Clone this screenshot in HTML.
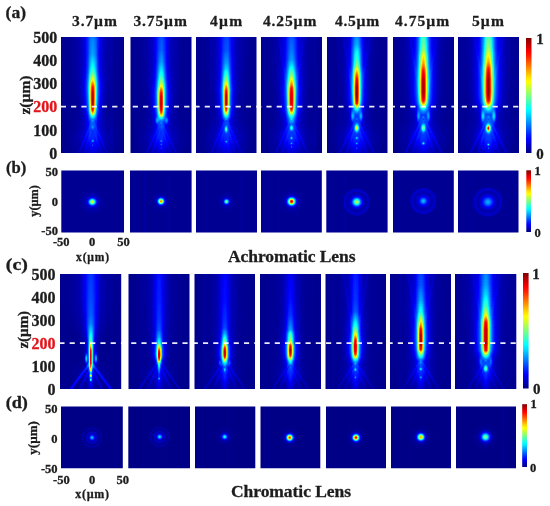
<!DOCTYPE html>
<html><head><meta charset="utf-8"><style>
html,body{margin:0;padding:0;background:#fff;}
body{width:550px;height:506px;overflow:hidden;}
svg{display:block;}
text{font-family:"Liberation Serif","Times New Roman",serif;font-weight:bold;fill:#1c1c1c;stroke:#1c1c1c;stroke-width:0.3px;}
</style></head><body>
<svg width="550" height="506" viewBox="0 0 550 506">
<defs><filter id="jet" x="-20%" y="-20%" width="140%" height="140%" color-interpolation-filters="sRGB"><feColorMatrix type="matrix" values="0 0 0 1 0  0 0 0 1 0  0 0 0 1 0  0 0 0 0 1"/><feGaussianBlur stdDeviation="0.5"/><feComponentTransfer><feFuncR type="table" tableValues="0 0 0 0 0.5 1 1 1 0.5"/><feFuncG type="table" tableValues="0 0 0.5 1 1 1 0.5 0 0"/><feFuncB type="table" tableValues="0.5 1 1 1 0.5 0 0 0 0"/></feComponentTransfer><feGaussianBlur stdDeviation="0.4"/></filter>
<linearGradient id="gx"><stop offset="0.0000" stop-color="#fff" stop-opacity="0.002"/><stop offset="0.0385" stop-color="#fff" stop-opacity="0.005"/><stop offset="0.0769" stop-color="#fff" stop-opacity="0.009"/><stop offset="0.1154" stop-color="#fff" stop-opacity="0.015"/><stop offset="0.1538" stop-color="#fff" stop-opacity="0.025"/><stop offset="0.1923" stop-color="#fff" stop-opacity="0.040"/><stop offset="0.2308" stop-color="#fff" stop-opacity="0.060"/><stop offset="0.2692" stop-color="#fff" stop-opacity="0.086"/><stop offset="0.3077" stop-color="#fff" stop-opacity="0.122"/><stop offset="0.3237" stop-color="#fff" stop-opacity="0.144"/><stop offset="0.3397" stop-color="#fff" stop-opacity="0.173"/><stop offset="0.3558" stop-color="#fff" stop-opacity="0.213"/><stop offset="0.3718" stop-color="#fff" stop-opacity="0.269"/><stop offset="0.3878" stop-color="#fff" stop-opacity="0.344"/><stop offset="0.4038" stop-color="#fff" stop-opacity="0.440"/><stop offset="0.4199" stop-color="#fff" stop-opacity="0.553"/><stop offset="0.4359" stop-color="#fff" stop-opacity="0.677"/><stop offset="0.4519" stop-color="#fff" stop-opacity="0.800"/><stop offset="0.4679" stop-color="#fff" stop-opacity="0.904"/><stop offset="0.4840" stop-color="#fff" stop-opacity="0.975"/><stop offset="0.5000" stop-color="#fff" stop-opacity="1.000"/><stop offset="0.5160" stop-color="#fff" stop-opacity="0.975"/><stop offset="0.5321" stop-color="#fff" stop-opacity="0.904"/><stop offset="0.5481" stop-color="#fff" stop-opacity="0.800"/><stop offset="0.5641" stop-color="#fff" stop-opacity="0.677"/><stop offset="0.5801" stop-color="#fff" stop-opacity="0.553"/><stop offset="0.5962" stop-color="#fff" stop-opacity="0.440"/><stop offset="0.6122" stop-color="#fff" stop-opacity="0.344"/><stop offset="0.6282" stop-color="#fff" stop-opacity="0.269"/><stop offset="0.6442" stop-color="#fff" stop-opacity="0.213"/><stop offset="0.6603" stop-color="#fff" stop-opacity="0.173"/><stop offset="0.6763" stop-color="#fff" stop-opacity="0.144"/><stop offset="0.6923" stop-color="#fff" stop-opacity="0.122"/><stop offset="0.7363" stop-color="#fff" stop-opacity="0.081"/><stop offset="0.7802" stop-color="#fff" stop-opacity="0.054"/><stop offset="0.8242" stop-color="#fff" stop-opacity="0.033"/><stop offset="0.8681" stop-color="#fff" stop-opacity="0.019"/><stop offset="0.9121" stop-color="#fff" stop-opacity="0.010"/><stop offset="0.9560" stop-color="#fff" stop-opacity="0.005"/><stop offset="1.0000" stop-color="#fff" stop-opacity="0.002"/></linearGradient>
<radialGradient id="gr"><stop offset="0" stop-color="#fff" stop-opacity="1.000"/><stop offset="0.07" stop-color="#fff" stop-opacity="0.980"/><stop offset="0.13" stop-color="#fff" stop-opacity="0.923"/><stop offset="0.2" stop-color="#fff" stop-opacity="0.835"/><stop offset="0.27" stop-color="#fff" stop-opacity="0.726"/><stop offset="0.33" stop-color="#fff" stop-opacity="0.607"/><stop offset="0.4" stop-color="#fff" stop-opacity="0.487"/><stop offset="0.47" stop-color="#fff" stop-opacity="0.375"/><stop offset="0.53" stop-color="#fff" stop-opacity="0.278"/><stop offset="0.6" stop-color="#fff" stop-opacity="0.198"/><stop offset="0.67" stop-color="#fff" stop-opacity="0.135"/><stop offset="0.73" stop-color="#fff" stop-opacity="0.089"/><stop offset="0.8" stop-color="#fff" stop-opacity="0.056"/><stop offset="0.87" stop-color="#fff" stop-opacity="0.034"/><stop offset="0.93" stop-color="#fff" stop-opacity="0.020"/><stop offset="1" stop-color="#fff" stop-opacity="0.011"/></radialGradient>
<clipPath id="c1"><rect x="61" y="37" width="63" height="116"/></clipPath>
<clipPath id="c2"><rect x="130.5" y="37" width="61" height="116"/></clipPath>
<clipPath id="c3"><rect x="196" y="37" width="60.5" height="116"/></clipPath>
<clipPath id="c4"><rect x="261" y="37" width="61" height="116"/></clipPath>
<clipPath id="c5"><rect x="327" y="37" width="60.5" height="116"/></clipPath>
<clipPath id="c6"><rect x="393" y="37" width="61" height="116"/></clipPath>
<clipPath id="c7"><rect x="458" y="37" width="61" height="116"/></clipPath>
<clipPath id="c8"><rect x="60" y="274" width="61.2" height="115"/></clipPath>
<clipPath id="c9"><rect x="128.5" y="274" width="61" height="115"/></clipPath>
<clipPath id="c10"><rect x="194.5" y="274" width="60.5" height="115"/></clipPath>
<clipPath id="c11"><rect x="260" y="274" width="61" height="115"/></clipPath>
<clipPath id="c12"><rect x="325.5" y="274" width="60.5" height="115"/></clipPath>
<clipPath id="c13"><rect x="390" y="274" width="61" height="115"/></clipPath>
<clipPath id="c14"><rect x="455" y="274" width="61.3" height="115"/></clipPath>
<clipPath id="c15"><rect x="61.3" y="170.5" width="62.7" height="62"/></clipPath>
<clipPath id="c16"><rect x="130" y="170.5" width="61.6" height="62"/></clipPath>
<clipPath id="c17"><rect x="196" y="170.5" width="61" height="62"/></clipPath>
<clipPath id="c18"><rect x="261" y="170.5" width="60.8" height="62"/></clipPath>
<clipPath id="c19"><rect x="326.3" y="170.5" width="61.3" height="62"/></clipPath>
<clipPath id="c20"><rect x="393" y="170.5" width="60.8" height="62"/></clipPath>
<clipPath id="c21"><rect x="458" y="170.5" width="60.5" height="62"/></clipPath>
<clipPath id="c22"><rect x="61" y="406.5" width="61.8" height="61.8"/></clipPath>
<clipPath id="c23"><rect x="128.3" y="406.5" width="61.7" height="61.8"/></clipPath>
<clipPath id="c24"><rect x="195" y="406.5" width="60.3" height="61.8"/></clipPath>
<clipPath id="c25"><rect x="260.5" y="406.5" width="59.8" height="61.8"/></clipPath>
<clipPath id="c26"><rect x="326" y="406.5" width="60" height="61.8"/></clipPath>
<clipPath id="c27"><rect x="391" y="406.5" width="60" height="61.8"/></clipPath>
<clipPath id="c28"><rect x="456" y="406.5" width="60" height="61.8"/></clipPath>
<linearGradient id="cb" x1="0" y1="0" x2="0" y2="1"><stop offset="0" stop-color="#800000"/><stop offset="0.03" stop-color="#9f0000"/><stop offset="0.06" stop-color="#bf0000"/><stop offset="0.09" stop-color="#df0000"/><stop offset="0.12" stop-color="#ff0000"/><stop offset="0.16" stop-color="#ff2000"/><stop offset="0.19" stop-color="#ff4000"/><stop offset="0.22" stop-color="#ff6000"/><stop offset="0.25" stop-color="#ff8000"/><stop offset="0.28" stop-color="#ff9f00"/><stop offset="0.31" stop-color="#ffbf00"/><stop offset="0.34" stop-color="#ffdf00"/><stop offset="0.38" stop-color="#ffff00"/><stop offset="0.41" stop-color="#dfff20"/><stop offset="0.44" stop-color="#bfff40"/><stop offset="0.47" stop-color="#9fff60"/><stop offset="0.5" stop-color="#80ff80"/><stop offset="0.53" stop-color="#60ff9f"/><stop offset="0.56" stop-color="#40ffbf"/><stop offset="0.59" stop-color="#20ffdf"/><stop offset="0.62" stop-color="#00ffff"/><stop offset="0.66" stop-color="#00dfff"/><stop offset="0.69" stop-color="#00bfff"/><stop offset="0.72" stop-color="#009fff"/><stop offset="0.75" stop-color="#0080ff"/><stop offset="0.78" stop-color="#0060ff"/><stop offset="0.81" stop-color="#0040ff"/><stop offset="0.84" stop-color="#0020ff"/><stop offset="0.88" stop-color="#0000ff"/><stop offset="0.91" stop-color="#0000df"/><stop offset="0.94" stop-color="#0000bf"/><stop offset="0.97" stop-color="#00009f"/><stop offset="1" stop-color="#000080"/></linearGradient></defs>
<rect width="550" height="506" fill="#fff"/>
<g clip-path="url(#c1)"><g filter="url(#jet)"><rect x="58" y="34" width="69" height="122" fill="#fff" opacity="0.016"/><rect x="95.58" y="37" width="2.07" height="116" fill="#fff" opacity="0.011"/><rect x="95.33" y="37" width="1.64" height="116" fill="#fff" opacity="0.011"/><rect x="88.57" y="37" width="2.34" height="116" fill="#fff" opacity="0.015"/><rect x="85.16" y="37" width="2.19" height="116" fill="#fff" opacity="0.010"/><rect x="96.79" y="37" width="2.39" height="116" fill="#fff" opacity="0.005"/><rect x="66.49" y="37" width="1.03" height="116" fill="#fff" opacity="0.013"/><rect x="110.02" y="37" width="2.31" height="116" fill="#fff" opacity="0.015"/><rect x="111.35" y="37" width="1.69" height="116" fill="#fff" opacity="0.013"/><ellipse cx="92.7" cy="138" rx="30" ry="24" fill="url(#gr)" opacity="0.055"/><line x1="92.7" y1="120" x2="78.7" y2="153" stroke="#fff" stroke-width="2.16" opacity="0.035"/><line x1="92.7" y1="120" x2="106.7" y2="153" stroke="#fff" stroke-width="2.16" opacity="0.035"/><line x1="92.7" y1="124" x2="84.3" y2="153" stroke="#fff" stroke-width="2.16" opacity="0.024"/><line x1="92.7" y1="124" x2="101.1" y2="153" stroke="#fff" stroke-width="2.16" opacity="0.024"/><rect x="38.29" y="37" width="108.83" height="3.04" fill="url(#gx)" opacity="0.050"/><rect x="38.66" y="40" width="108.09" height="3.04" fill="url(#gx)" opacity="0.050"/><rect x="39.03" y="43" width="107.34" height="3.04" fill="url(#gx)" opacity="0.050"/><rect x="39.4" y="46" width="106.6" height="3.04" fill="url(#gx)" opacity="0.050"/><rect x="39.77" y="49" width="105.86" height="3.04" fill="url(#gx)" opacity="0.050"/><rect x="40.14" y="52" width="105.11" height="3.04" fill="url(#gx)" opacity="0.050"/><rect x="40.51" y="55" width="104.37" height="3.04" fill="url(#gx)" opacity="0.050"/><rect x="40.89" y="58" width="103.63" height="3.04" fill="url(#gx)" opacity="0.050"/><rect x="41.26" y="61" width="102.89" height="3.04" fill="url(#gx)" opacity="0.050"/><rect x="41.63" y="64" width="102.14" height="3.04" fill="url(#gx)" opacity="0.050"/><rect x="42" y="67" width="101.4" height="3.04" fill="url(#gx)" opacity="0.050"/><rect x="42.37" y="70" width="100.66" height="3.04" fill="url(#gx)" opacity="0.050"/><rect x="42.74" y="73" width="99.91" height="3.04" fill="url(#gx)" opacity="0.050"/><rect x="43.11" y="76" width="99.17" height="3.04" fill="url(#gx)" opacity="0.050"/><rect x="43.49" y="79" width="98.43" height="3.04" fill="url(#gx)" opacity="0.050"/><rect x="43.86" y="82" width="97.69" height="3.04" fill="url(#gx)" opacity="0.050"/><rect x="44.23" y="85" width="96.94" height="3.04" fill="url(#gx)" opacity="0.050"/><rect x="44.6" y="88" width="96.2" height="3.04" fill="url(#gx)" opacity="0.050"/><rect x="44.97" y="91" width="95.46" height="3.04" fill="url(#gx)" opacity="0.050"/><rect x="45.34" y="94" width="94.71" height="3.04" fill="url(#gx)" opacity="0.050"/><rect x="45.71" y="97" width="93.97" height="3.04" fill="url(#gx)" opacity="0.050"/><rect x="45.9" y="100" width="93.6" height="3.04" fill="url(#gx)" opacity="0.049"/><rect x="45.9" y="103" width="93.6" height="3.04" fill="url(#gx)" opacity="0.048"/><rect x="45.9" y="106" width="93.6" height="3.04" fill="url(#gx)" opacity="0.047"/><rect x="45.9" y="109" width="93.6" height="3.04" fill="url(#gx)" opacity="0.046"/><rect x="45.9" y="112" width="93.6" height="3.04" fill="url(#gx)" opacity="0.045"/><rect x="45.9" y="115" width="93.6" height="3.04" fill="url(#gx)" opacity="0.043"/><rect x="45.9" y="118" width="93.6" height="3.04" fill="url(#gx)" opacity="0.042"/><rect x="45.9" y="121" width="93.6" height="3.04" fill="url(#gx)" opacity="0.041"/><rect x="45.9" y="124" width="93.6" height="3.04" fill="url(#gx)" opacity="0.040"/><rect x="45.9" y="127" width="93.6" height="3.04" fill="url(#gx)" opacity="0.037"/><rect x="45.9" y="130" width="93.6" height="3.04" fill="url(#gx)" opacity="0.035"/><rect x="45.9" y="133" width="93.6" height="3.04" fill="url(#gx)" opacity="0.033"/><rect x="45.9" y="136" width="93.6" height="3.04" fill="url(#gx)" opacity="0.031"/><rect x="45.9" y="139" width="93.6" height="3.04" fill="url(#gx)" opacity="0.029"/><rect x="45.9" y="142" width="93.6" height="3.04" fill="url(#gx)" opacity="0.027"/><rect x="45.9" y="145" width="93.6" height="3.04" fill="url(#gx)" opacity="0.025"/><rect x="45.9" y="148" width="93.6" height="3.04" fill="url(#gx)" opacity="0.022"/><rect x="45.9" y="151" width="93.6" height="2.04" fill="url(#gx)" opacity="0.021"/><rect x="60.08" y="37" width="65.24" height="1.04" fill="url(#gx)" opacity="0.191"/><rect x="60.35" y="38" width="64.69" height="1.04" fill="url(#gx)" opacity="0.194"/><rect x="60.63" y="39" width="64.14" height="1.04" fill="url(#gx)" opacity="0.196"/><rect x="60.9" y="40" width="63.59" height="1.04" fill="url(#gx)" opacity="0.198"/><rect x="61.18" y="41" width="63.04" height="1.04" fill="url(#gx)" opacity="0.201"/><rect x="61.45" y="42" width="62.49" height="1.04" fill="url(#gx)" opacity="0.203"/><rect x="61.73" y="43" width="61.94" height="1.04" fill="url(#gx)" opacity="0.205"/><rect x="62" y="44" width="61.39" height="1.04" fill="url(#gx)" opacity="0.208"/><rect x="62.28" y="45" width="60.84" height="1.04" fill="url(#gx)" opacity="0.210"/><rect x="62.56" y="46" width="60.29" height="1.04" fill="url(#gx)" opacity="0.212"/><rect x="62.83" y="47" width="59.74" height="1.04" fill="url(#gx)" opacity="0.215"/><rect x="63.11" y="48" width="59.19" height="1.04" fill="url(#gx)" opacity="0.217"/><rect x="63.38" y="49" width="58.64" height="1.04" fill="url(#gx)" opacity="0.219"/><rect x="63.66" y="50" width="58.09" height="1.04" fill="url(#gx)" opacity="0.222"/><rect x="63.93" y="51" width="57.54" height="1.04" fill="url(#gx)" opacity="0.224"/><rect x="64.21" y="52" width="56.99" height="1.04" fill="url(#gx)" opacity="0.226"/><rect x="64.48" y="53" width="56.44" height="1.04" fill="url(#gx)" opacity="0.229"/><rect x="64.78" y="54" width="55.84" height="1.04" fill="url(#gx)" opacity="0.234"/><rect x="65.11" y="55" width="55.19" height="1.04" fill="url(#gx)" opacity="0.243"/><rect x="65.43" y="56" width="54.54" height="1.04" fill="url(#gx)" opacity="0.251"/><rect x="65.76" y="57" width="53.89" height="1.04" fill="url(#gx)" opacity="0.259"/><rect x="66.08" y="58" width="53.24" height="1.04" fill="url(#gx)" opacity="0.268"/><rect x="66.41" y="59" width="52.59" height="1.04" fill="url(#gx)" opacity="0.276"/><rect x="66.73" y="60" width="51.94" height="1.04" fill="url(#gx)" opacity="0.284"/><rect x="67.06" y="61" width="51.29" height="1.04" fill="url(#gx)" opacity="0.292"/><rect x="67.38" y="62" width="50.64" height="1.04" fill="url(#gx)" opacity="0.301"/><rect x="67.71" y="63" width="49.99" height="1.04" fill="url(#gx)" opacity="0.309"/><rect x="68.03" y="64" width="49.34" height="1.04" fill="url(#gx)" opacity="0.318"/><rect x="68.36" y="65" width="48.69" height="1.04" fill="url(#gx)" opacity="0.326"/><rect x="68.63" y="66" width="48.15" height="1.04" fill="url(#gx)" opacity="0.336"/><rect x="68.84" y="67" width="47.72" height="1.04" fill="url(#gx)" opacity="0.349"/><rect x="69.05" y="68" width="47.3" height="1.04" fill="url(#gx)" opacity="0.362"/><rect x="69.26" y="69" width="46.87" height="1.04" fill="url(#gx)" opacity="0.375"/><rect x="69.48" y="70" width="46.45" height="1.04" fill="url(#gx)" opacity="0.387"/><rect x="69.69" y="71" width="46.02" height="1.04" fill="url(#gx)" opacity="0.400"/><rect x="69.95" y="72" width="45.5" height="1.04" fill="url(#gx)" opacity="0.422"/><rect x="70.21" y="73" width="44.98" height="1.04" fill="url(#gx)" opacity="0.444"/><rect x="70.47" y="74" width="44.46" height="1.04" fill="url(#gx)" opacity="0.467"/><rect x="70.73" y="75" width="43.94" height="1.04" fill="url(#gx)" opacity="0.489"/><rect x="70.99" y="76" width="43.42" height="1.04" fill="url(#gx)" opacity="0.513"/><rect x="71.25" y="77" width="42.9" height="1.04" fill="url(#gx)" opacity="0.540"/><rect x="71.51" y="78" width="42.38" height="1.04" fill="url(#gx)" opacity="0.567"/><rect x="71.77" y="79" width="41.86" height="1.04" fill="url(#gx)" opacity="0.593"/><rect x="72.03" y="80" width="41.34" height="1.04" fill="url(#gx)" opacity="0.620"/><rect x="72.36" y="81" width="40.67" height="1.04" fill="url(#gx)" opacity="0.657"/><rect x="72.7" y="82" width="40" height="1.04" fill="url(#gx)" opacity="0.694"/><rect x="73.03" y="83" width="39.33" height="1.04" fill="url(#gx)" opacity="0.731"/><rect x="73.33" y="84" width="38.74" height="1.04" fill="url(#gx)" opacity="0.767"/><rect x="73.59" y="85" width="38.22" height="1.04" fill="url(#gx)" opacity="0.800"/><rect x="73.85" y="86" width="37.7" height="1.04" fill="url(#gx)" opacity="0.833"/><rect x="74.08" y="87" width="37.24" height="1.04" fill="url(#gx)" opacity="0.857"/><rect x="74.27" y="88" width="36.86" height="1.04" fill="url(#gx)" opacity="0.870"/><rect x="74.47" y="89" width="36.47" height="1.04" fill="url(#gx)" opacity="0.883"/><rect x="74.66" y="90" width="36.08" height="1.04" fill="url(#gx)" opacity="0.897"/><rect x="74.86" y="91" width="35.69" height="1.04" fill="url(#gx)" opacity="0.910"/><rect x="75.05" y="92" width="35.3" height="1.04" fill="url(#gx)" opacity="0.923"/><rect x="75.23" y="93" width="34.93" height="1.04" fill="url(#gx)" opacity="0.932"/><rect x="75.4" y="94" width="34.6" height="1.04" fill="url(#gx)" opacity="0.936"/><rect x="75.57" y="95" width="34.26" height="1.04" fill="url(#gx)" opacity="0.941"/><rect x="75.73" y="96" width="33.93" height="1.04" fill="url(#gx)" opacity="0.945"/><rect x="75.9" y="97" width="33.6" height="1.04" fill="url(#gx)" opacity="0.949"/><rect x="76.07" y="98" width="33.26" height="1.04" fill="url(#gx)" opacity="0.954"/><rect x="76.24" y="99" width="32.93" height="1.04" fill="url(#gx)" opacity="0.958"/><rect x="76.39" y="100" width="32.63" height="1.04" fill="url(#gx)" opacity="0.958"/><rect x="76.52" y="101" width="32.37" height="1.04" fill="url(#gx)" opacity="0.953"/><rect x="76.64" y="102" width="32.11" height="1.04" fill="url(#gx)" opacity="0.948"/><rect x="76.78" y="103" width="31.85" height="1.04" fill="url(#gx)" opacity="0.943"/><rect x="76.91" y="104" width="31.59" height="1.04" fill="url(#gx)" opacity="0.938"/><rect x="77.03" y="105" width="31.33" height="1.04" fill="url(#gx)" opacity="0.932"/><rect x="77.1" y="106" width="31.2" height="1.04" fill="url(#gx)" opacity="0.920"/><rect x="77.1" y="107" width="31.2" height="1.04" fill="url(#gx)" opacity="0.900"/><rect x="77.1" y="108" width="31.2" height="1.04" fill="url(#gx)" opacity="0.880"/><rect x="77.1" y="109" width="31.2" height="1.04" fill="url(#gx)" opacity="0.860"/><rect x="77.1" y="110" width="31.2" height="1.04" fill="url(#gx)" opacity="0.820"/><rect x="77.1" y="111" width="31.2" height="1.04" fill="url(#gx)" opacity="0.760"/><rect x="76.91" y="112" width="31.59" height="1.04" fill="url(#gx)" opacity="0.698"/><rect x="76.52" y="113" width="32.37" height="1.04" fill="url(#gx)" opacity="0.632"/><rect x="75.83" y="114" width="33.74" height="1.04" fill="url(#gx)" opacity="0.544"/><rect x="74.86" y="115" width="35.69" height="1.04" fill="url(#gx)" opacity="0.431"/><rect x="73.59" y="116" width="38.22" height="1.04" fill="url(#gx)" opacity="0.364"/><rect x="72.29" y="117" width="40.82" height="1.04" fill="url(#gx)" opacity="0.301"/><rect x="70.73" y="118" width="43.94" height="1.04" fill="url(#gx)" opacity="0.250"/><rect x="68.91" y="119" width="47.58" height="1.04" fill="url(#gx)" opacity="0.210"/><rect x="67.09" y="120" width="51.22" height="1.04" fill="url(#gx)" opacity="0.170"/><rect x="65.96" y="121" width="53.49" height="1.04" fill="url(#gx)" opacity="0.146"/><rect x="65.51" y="122" width="54.38" height="1.04" fill="url(#gx)" opacity="0.137"/><rect x="65.07" y="123" width="55.27" height="1.04" fill="url(#gx)" opacity="0.129"/><rect x="64.62" y="124" width="56.16" height="1.04" fill="url(#gx)" opacity="0.120"/><rect x="64.17" y="125" width="57.05" height="1.04" fill="url(#gx)" opacity="0.111"/><rect x="63.73" y="126" width="57.94" height="1.04" fill="url(#gx)" opacity="0.103"/><rect x="63.28" y="127" width="58.83" height="1.04" fill="url(#gx)" opacity="0.094"/><rect x="62.93" y="128" width="59.54" height="1.04" fill="url(#gx)" opacity="0.089"/><rect x="62.67" y="129" width="60.06" height="1.04" fill="url(#gx)" opacity="0.086"/><rect x="62.41" y="130" width="60.58" height="1.04" fill="url(#gx)" opacity="0.084"/><rect x="62.15" y="131" width="61.1" height="1.04" fill="url(#gx)" opacity="0.081"/><rect x="61.89" y="132" width="61.62" height="1.04" fill="url(#gx)" opacity="0.079"/><rect x="61.63" y="133" width="62.14" height="1.04" fill="url(#gx)" opacity="0.076"/><rect x="61.37" y="134" width="62.66" height="1.04" fill="url(#gx)" opacity="0.074"/><rect x="61.11" y="135" width="63.18" height="1.04" fill="url(#gx)" opacity="0.071"/><rect x="60.85" y="136" width="63.7" height="1.04" fill="url(#gx)" opacity="0.069"/><rect x="60.59" y="137" width="64.22" height="1.04" fill="url(#gx)" opacity="0.066"/><rect x="60.33" y="138" width="64.74" height="1.04" fill="url(#gx)" opacity="0.064"/><rect x="60.07" y="139" width="65.26" height="1.04" fill="url(#gx)" opacity="0.061"/><rect x="59.7" y="140" width="66" height="1.04" fill="url(#gx)" opacity="0.059"/><rect x="59.22" y="141" width="66.96" height="1.04" fill="url(#gx)" opacity="0.058"/><rect x="58.74" y="142" width="67.92" height="1.04" fill="url(#gx)" opacity="0.056"/><rect x="58.26" y="143" width="68.88" height="1.04" fill="url(#gx)" opacity="0.055"/><rect x="57.78" y="144" width="69.84" height="1.04" fill="url(#gx)" opacity="0.053"/><rect x="57.3" y="145" width="70.8" height="1.04" fill="url(#gx)" opacity="0.052"/><rect x="56.82" y="146" width="71.76" height="1.04" fill="url(#gx)" opacity="0.050"/><rect x="56.34" y="147" width="72.72" height="1.04" fill="url(#gx)" opacity="0.048"/><rect x="55.86" y="148" width="73.68" height="1.04" fill="url(#gx)" opacity="0.047"/><rect x="55.38" y="149" width="74.64" height="1.04" fill="url(#gx)" opacity="0.045"/><rect x="54.9" y="150" width="75.6" height="1.04" fill="url(#gx)" opacity="0.044"/><rect x="54.42" y="151" width="76.56" height="1.04" fill="url(#gx)" opacity="0.042"/><rect x="53.94" y="152" width="77.52" height="1.04" fill="url(#gx)" opacity="0.041"/><ellipse cx="92.7" cy="127.4" rx="3" ry="3.6" fill="url(#gr)" opacity="0.100"/><ellipse cx="92.7" cy="141" rx="2.1" ry="2.1" fill="url(#gr)" opacity="0.200"/><ellipse cx="92.7" cy="145.2" rx="1.5" ry="1.5" fill="url(#gr)" opacity="0.120"/></g></g>
<g clip-path="url(#c2)"><g filter="url(#jet)"><rect x="127.5" y="34" width="67" height="122" fill="#fff" opacity="0.016"/><rect x="135.15" y="37" width="2.17" height="116" fill="#fff" opacity="0.009"/><rect x="174.63" y="37" width="2.47" height="116" fill="#fff" opacity="0.010"/><rect x="161.07" y="37" width="1.11" height="116" fill="#fff" opacity="0.007"/><rect x="160.99" y="37" width="2.02" height="116" fill="#fff" opacity="0.013"/><rect x="153.74" y="37" width="1.1" height="116" fill="#fff" opacity="0.008"/><rect x="185.99" y="37" width="1.32" height="116" fill="#fff" opacity="0.009"/><rect x="187.3" y="37" width="1.04" height="116" fill="#fff" opacity="0.011"/><rect x="188.46" y="37" width="1.35" height="116" fill="#fff" opacity="0.010"/><ellipse cx="161.2" cy="138" rx="30" ry="24" fill="url(#gr)" opacity="0.055"/><line x1="161.2" y1="122" x2="146.2" y2="153" stroke="#fff" stroke-width="2.16" opacity="0.035"/><line x1="161.2" y1="122" x2="176.2" y2="153" stroke="#fff" stroke-width="2.16" opacity="0.035"/><line x1="161.2" y1="126" x2="152.2" y2="153" stroke="#fff" stroke-width="2.16" opacity="0.024"/><line x1="161.2" y1="126" x2="170.2" y2="153" stroke="#fff" stroke-width="2.16" opacity="0.024"/><rect x="106.79" y="37" width="108.83" height="3.04" fill="url(#gx)" opacity="0.050"/><rect x="107.16" y="40" width="108.09" height="3.04" fill="url(#gx)" opacity="0.050"/><rect x="107.53" y="43" width="107.34" height="3.04" fill="url(#gx)" opacity="0.050"/><rect x="107.9" y="46" width="106.6" height="3.04" fill="url(#gx)" opacity="0.050"/><rect x="108.27" y="49" width="105.86" height="3.04" fill="url(#gx)" opacity="0.050"/><rect x="108.64" y="52" width="105.11" height="3.04" fill="url(#gx)" opacity="0.050"/><rect x="109.01" y="55" width="104.37" height="3.04" fill="url(#gx)" opacity="0.050"/><rect x="109.39" y="58" width="103.63" height="3.04" fill="url(#gx)" opacity="0.050"/><rect x="109.76" y="61" width="102.89" height="3.04" fill="url(#gx)" opacity="0.050"/><rect x="110.13" y="64" width="102.14" height="3.04" fill="url(#gx)" opacity="0.050"/><rect x="110.5" y="67" width="101.4" height="3.04" fill="url(#gx)" opacity="0.050"/><rect x="110.87" y="70" width="100.66" height="3.04" fill="url(#gx)" opacity="0.050"/><rect x="111.24" y="73" width="99.91" height="3.04" fill="url(#gx)" opacity="0.050"/><rect x="111.61" y="76" width="99.17" height="3.04" fill="url(#gx)" opacity="0.050"/><rect x="111.99" y="79" width="98.43" height="3.04" fill="url(#gx)" opacity="0.050"/><rect x="112.36" y="82" width="97.69" height="3.04" fill="url(#gx)" opacity="0.050"/><rect x="112.73" y="85" width="96.94" height="3.04" fill="url(#gx)" opacity="0.050"/><rect x="113.1" y="88" width="96.2" height="3.04" fill="url(#gx)" opacity="0.050"/><rect x="113.47" y="91" width="95.46" height="3.04" fill="url(#gx)" opacity="0.050"/><rect x="113.84" y="94" width="94.71" height="3.04" fill="url(#gx)" opacity="0.050"/><rect x="114.21" y="97" width="93.97" height="3.04" fill="url(#gx)" opacity="0.050"/><rect x="114.4" y="100" width="93.6" height="3.04" fill="url(#gx)" opacity="0.049"/><rect x="114.4" y="103" width="93.6" height="3.04" fill="url(#gx)" opacity="0.048"/><rect x="114.4" y="106" width="93.6" height="3.04" fill="url(#gx)" opacity="0.047"/><rect x="114.4" y="109" width="93.6" height="3.04" fill="url(#gx)" opacity="0.046"/><rect x="114.4" y="112" width="93.6" height="3.04" fill="url(#gx)" opacity="0.045"/><rect x="114.4" y="115" width="93.6" height="3.04" fill="url(#gx)" opacity="0.043"/><rect x="114.4" y="118" width="93.6" height="3.04" fill="url(#gx)" opacity="0.042"/><rect x="114.4" y="121" width="93.6" height="3.04" fill="url(#gx)" opacity="0.041"/><rect x="114.4" y="124" width="93.6" height="3.04" fill="url(#gx)" opacity="0.040"/><rect x="114.4" y="127" width="93.6" height="3.04" fill="url(#gx)" opacity="0.037"/><rect x="114.4" y="130" width="93.6" height="3.04" fill="url(#gx)" opacity="0.035"/><rect x="114.4" y="133" width="93.6" height="3.04" fill="url(#gx)" opacity="0.033"/><rect x="114.4" y="136" width="93.6" height="3.04" fill="url(#gx)" opacity="0.031"/><rect x="114.4" y="139" width="93.6" height="3.04" fill="url(#gx)" opacity="0.029"/><rect x="114.4" y="142" width="93.6" height="3.04" fill="url(#gx)" opacity="0.027"/><rect x="114.4" y="145" width="93.6" height="3.04" fill="url(#gx)" opacity="0.025"/><rect x="114.4" y="148" width="93.6" height="3.04" fill="url(#gx)" opacity="0.022"/><rect x="114.4" y="151" width="93.6" height="2.04" fill="url(#gx)" opacity="0.021"/><rect x="130.12" y="37" width="62.16" height="1.04" fill="url(#gx)" opacity="0.141"/><rect x="130.36" y="38" width="61.68" height="1.04" fill="url(#gx)" opacity="0.142"/><rect x="130.6" y="39" width="61.2" height="1.04" fill="url(#gx)" opacity="0.144"/><rect x="130.84" y="40" width="60.72" height="1.04" fill="url(#gx)" opacity="0.145"/><rect x="131.08" y="41" width="60.24" height="1.04" fill="url(#gx)" opacity="0.147"/><rect x="131.32" y="42" width="59.76" height="1.04" fill="url(#gx)" opacity="0.148"/><rect x="131.56" y="43" width="59.28" height="1.04" fill="url(#gx)" opacity="0.150"/><rect x="131.8" y="44" width="58.8" height="1.04" fill="url(#gx)" opacity="0.152"/><rect x="132.04" y="45" width="58.32" height="1.04" fill="url(#gx)" opacity="0.153"/><rect x="132.28" y="46" width="57.84" height="1.04" fill="url(#gx)" opacity="0.155"/><rect x="132.52" y="47" width="57.36" height="1.04" fill="url(#gx)" opacity="0.156"/><rect x="132.76" y="48" width="56.88" height="1.04" fill="url(#gx)" opacity="0.158"/><rect x="133" y="49" width="56.4" height="1.04" fill="url(#gx)" opacity="0.159"/><rect x="133.28" y="50" width="55.84" height="1.04" fill="url(#gx)" opacity="0.163"/><rect x="133.61" y="51" width="55.19" height="1.04" fill="url(#gx)" opacity="0.168"/><rect x="133.93" y="52" width="54.54" height="1.04" fill="url(#gx)" opacity="0.173"/><rect x="134.26" y="53" width="53.89" height="1.04" fill="url(#gx)" opacity="0.177"/><rect x="134.58" y="54" width="53.24" height="1.04" fill="url(#gx)" opacity="0.182"/><rect x="134.91" y="55" width="52.59" height="1.04" fill="url(#gx)" opacity="0.188"/><rect x="135.23" y="56" width="51.94" height="1.04" fill="url(#gx)" opacity="0.193"/><rect x="135.56" y="57" width="51.29" height="1.04" fill="url(#gx)" opacity="0.198"/><rect x="135.88" y="58" width="50.64" height="1.04" fill="url(#gx)" opacity="0.203"/><rect x="136.21" y="59" width="49.99" height="1.04" fill="url(#gx)" opacity="0.208"/><rect x="136.53" y="60" width="49.34" height="1.04" fill="url(#gx)" opacity="0.212"/><rect x="136.86" y="61" width="48.69" height="1.04" fill="url(#gx)" opacity="0.217"/><rect x="137.12" y="62" width="48.17" height="1.04" fill="url(#gx)" opacity="0.225"/><rect x="137.31" y="63" width="47.78" height="1.04" fill="url(#gx)" opacity="0.235"/><rect x="137.51" y="64" width="47.39" height="1.04" fill="url(#gx)" opacity="0.245"/><rect x="137.7" y="65" width="47" height="1.04" fill="url(#gx)" opacity="0.255"/><rect x="137.9" y="66" width="46.61" height="1.04" fill="url(#gx)" opacity="0.265"/><rect x="138.09" y="67" width="46.22" height="1.04" fill="url(#gx)" opacity="0.275"/><rect x="138.29" y="68" width="45.83" height="1.04" fill="url(#gx)" opacity="0.285"/><rect x="138.48" y="69" width="45.44" height="1.04" fill="url(#gx)" opacity="0.295"/><rect x="138.68" y="70" width="45.03" height="1.04" fill="url(#gx)" opacity="0.307"/><rect x="138.89" y="71" width="44.62" height="1.04" fill="url(#gx)" opacity="0.320"/><rect x="139.1" y="72" width="44.2" height="1.04" fill="url(#gx)" opacity="0.333"/><rect x="139.31" y="73" width="43.78" height="1.04" fill="url(#gx)" opacity="0.347"/><rect x="139.52" y="74" width="43.37" height="1.04" fill="url(#gx)" opacity="0.360"/><rect x="139.72" y="75" width="42.95" height="1.04" fill="url(#gx)" opacity="0.373"/><rect x="139.93" y="76" width="42.54" height="1.04" fill="url(#gx)" opacity="0.387"/><rect x="140.14" y="77" width="42.12" height="1.04" fill="url(#gx)" opacity="0.400"/><rect x="140.31" y="78" width="41.77" height="1.04" fill="url(#gx)" opacity="0.422"/><rect x="140.49" y="79" width="41.43" height="1.04" fill="url(#gx)" opacity="0.444"/><rect x="140.66" y="80" width="41.08" height="1.04" fill="url(#gx)" opacity="0.467"/><rect x="140.83" y="81" width="40.73" height="1.04" fill="url(#gx)" opacity="0.489"/><rect x="141.05" y="82" width="40.3" height="1.04" fill="url(#gx)" opacity="0.513"/><rect x="141.31" y="83" width="39.78" height="1.04" fill="url(#gx)" opacity="0.540"/><rect x="141.57" y="84" width="39.26" height="1.04" fill="url(#gx)" opacity="0.567"/><rect x="141.83" y="85" width="38.74" height="1.04" fill="url(#gx)" opacity="0.593"/><rect x="142.09" y="86" width="38.22" height="1.04" fill="url(#gx)" opacity="0.620"/><rect x="142.35" y="87" width="37.7" height="1.04" fill="url(#gx)" opacity="0.663"/><rect x="142.61" y="88" width="37.18" height="1.04" fill="url(#gx)" opacity="0.707"/><rect x="142.87" y="89" width="36.66" height="1.04" fill="url(#gx)" opacity="0.750"/><rect x="143.13" y="90" width="36.14" height="1.04" fill="url(#gx)" opacity="0.783"/><rect x="143.39" y="91" width="35.62" height="1.04" fill="url(#gx)" opacity="0.817"/><rect x="143.65" y="92" width="35.1" height="1.04" fill="url(#gx)" opacity="0.850"/><rect x="143.82" y="93" width="34.75" height="1.04" fill="url(#gx)" opacity="0.866"/><rect x="144" y="94" width="34.41" height="1.04" fill="url(#gx)" opacity="0.881"/><rect x="144.17" y="95" width="34.06" height="1.04" fill="url(#gx)" opacity="0.897"/><rect x="144.34" y="96" width="33.71" height="1.04" fill="url(#gx)" opacity="0.912"/><rect x="144.49" y="97" width="33.43" height="1.04" fill="url(#gx)" opacity="0.923"/><rect x="144.6" y="98" width="33.21" height="1.04" fill="url(#gx)" opacity="0.929"/><rect x="144.71" y="99" width="32.98" height="1.04" fill="url(#gx)" opacity="0.934"/><rect x="144.82" y="100" width="32.76" height="1.04" fill="url(#gx)" opacity="0.940"/><rect x="144.93" y="101" width="32.54" height="1.04" fill="url(#gx)" opacity="0.946"/><rect x="145.04" y="102" width="32.31" height="1.04" fill="url(#gx)" opacity="0.951"/><rect x="145.15" y="103" width="32.09" height="1.04" fill="url(#gx)" opacity="0.957"/><rect x="145.24" y="104" width="31.92" height="1.04" fill="url(#gx)" opacity="0.955"/><rect x="145.31" y="105" width="31.78" height="1.04" fill="url(#gx)" opacity="0.945"/><rect x="145.37" y="106" width="31.66" height="1.04" fill="url(#gx)" opacity="0.935"/><rect x="145.44" y="107" width="31.52" height="1.04" fill="url(#gx)" opacity="0.925"/><rect x="145.5" y="108" width="31.4" height="1.04" fill="url(#gx)" opacity="0.915"/><rect x="145.57" y="109" width="31.27" height="1.04" fill="url(#gx)" opacity="0.905"/><rect x="145.6" y="110" width="31.2" height="1.04" fill="url(#gx)" opacity="0.881"/><rect x="145.6" y="111" width="31.2" height="1.04" fill="url(#gx)" opacity="0.842"/><rect x="145.6" y="112" width="31.2" height="1.04" fill="url(#gx)" opacity="0.804"/><rect x="145.37" y="113" width="31.67" height="1.04" fill="url(#gx)" opacity="0.740"/><rect x="145.11" y="114" width="32.19" height="1.04" fill="url(#gx)" opacity="0.673"/><rect x="144.85" y="115" width="32.71" height="1.04" fill="url(#gx)" opacity="0.607"/><rect x="144.04" y="116" width="34.32" height="1.04" fill="url(#gx)" opacity="0.500"/><rect x="143.11" y="117" width="36.18" height="1.04" fill="url(#gx)" opacity="0.393"/><rect x="141.63" y="118" width="39.15" height="1.04" fill="url(#gx)" opacity="0.321"/><rect x="140.14" y="119" width="42.12" height="1.04" fill="url(#gx)" opacity="0.250"/><rect x="138.27" y="120" width="45.86" height="1.04" fill="url(#gx)" opacity="0.206"/><rect x="136.4" y="121" width="49.61" height="1.04" fill="url(#gx)" opacity="0.162"/><rect x="135.31" y="122" width="51.77" height="1.04" fill="url(#gx)" opacity="0.136"/><rect x="135.02" y="123" width="52.36" height="1.04" fill="url(#gx)" opacity="0.129"/><rect x="134.73" y="124" width="52.94" height="1.04" fill="url(#gx)" opacity="0.121"/><rect x="134.44" y="125" width="53.53" height="1.04" fill="url(#gx)" opacity="0.114"/><rect x="134.14" y="126" width="54.11" height="1.04" fill="url(#gx)" opacity="0.106"/><rect x="133.85" y="127" width="54.7" height="1.04" fill="url(#gx)" opacity="0.099"/><rect x="133.56" y="128" width="55.28" height="1.04" fill="url(#gx)" opacity="0.091"/><rect x="133.27" y="129" width="55.87" height="1.04" fill="url(#gx)" opacity="0.084"/><rect x="132.88" y="130" width="56.63" height="1.04" fill="url(#gx)" opacity="0.079"/><rect x="132.41" y="131" width="57.58" height="1.04" fill="url(#gx)" opacity="0.077"/><rect x="131.93" y="132" width="58.53" height="1.04" fill="url(#gx)" opacity="0.076"/><rect x="131.46" y="133" width="59.48" height="1.04" fill="url(#gx)" opacity="0.074"/><rect x="130.98" y="134" width="60.43" height="1.04" fill="url(#gx)" opacity="0.072"/><rect x="130.51" y="135" width="61.38" height="1.04" fill="url(#gx)" opacity="0.070"/><rect x="130.03" y="136" width="62.33" height="1.04" fill="url(#gx)" opacity="0.069"/><rect x="129.56" y="137" width="63.28" height="1.04" fill="url(#gx)" opacity="0.067"/><rect x="129.08" y="138" width="64.23" height="1.04" fill="url(#gx)" opacity="0.065"/><rect x="128.61" y="139" width="65.18" height="1.04" fill="url(#gx)" opacity="0.063"/><rect x="128.13" y="140" width="66.13" height="1.04" fill="url(#gx)" opacity="0.062"/><rect x="127.66" y="141" width="67.08" height="1.04" fill="url(#gx)" opacity="0.060"/><rect x="127.19" y="142" width="68.03" height="1.04" fill="url(#gx)" opacity="0.058"/><rect x="126.71" y="143" width="68.98" height="1.04" fill="url(#gx)" opacity="0.057"/><rect x="126.24" y="144" width="69.93" height="1.04" fill="url(#gx)" opacity="0.055"/><rect x="125.76" y="145" width="70.88" height="1.04" fill="url(#gx)" opacity="0.053"/><rect x="125.29" y="146" width="71.83" height="1.04" fill="url(#gx)" opacity="0.051"/><rect x="124.81" y="147" width="72.78" height="1.04" fill="url(#gx)" opacity="0.050"/><rect x="124.34" y="148" width="73.73" height="1.04" fill="url(#gx)" opacity="0.048"/><rect x="123.86" y="149" width="74.68" height="1.04" fill="url(#gx)" opacity="0.046"/><rect x="123.39" y="150" width="75.63" height="1.04" fill="url(#gx)" opacity="0.044"/><rect x="122.91" y="151" width="76.58" height="1.04" fill="url(#gx)" opacity="0.043"/><rect x="122.44" y="152" width="77.53" height="1.04" fill="url(#gx)" opacity="0.041"/><ellipse cx="157.2" cy="120.5" rx="3.9" ry="6.6" fill="url(#gr)" opacity="0.170"/><ellipse cx="166.7" cy="120.5" rx="3.9" ry="6.6" fill="url(#gr)" opacity="0.170"/><ellipse cx="161.2" cy="141" rx="1.8" ry="1.8" fill="url(#gr)" opacity="0.160"/><ellipse cx="161.2" cy="144.6" rx="1.5" ry="1.5" fill="url(#gr)" opacity="0.130"/><ellipse cx="161.2" cy="148.2" rx="1.5" ry="1.5" fill="url(#gr)" opacity="0.100"/></g></g>
<g clip-path="url(#c3)"><g filter="url(#jet)"><rect x="193" y="34" width="66.5" height="122" fill="#fff" opacity="0.016"/><rect x="227.09" y="37" width="2.16" height="116" fill="#fff" opacity="0.014"/><rect x="196.49" y="37" width="1.46" height="116" fill="#fff" opacity="0.015"/><rect x="227.04" y="37" width="1.48" height="116" fill="#fff" opacity="0.010"/><rect x="209.39" y="37" width="2.21" height="116" fill="#fff" opacity="0.008"/><rect x="228.6" y="37" width="1.01" height="116" fill="#fff" opacity="0.012"/><rect x="208.71" y="37" width="2.4" height="116" fill="#fff" opacity="0.008"/><rect x="241.52" y="37" width="2.14" height="116" fill="#fff" opacity="0.014"/><rect x="202.66" y="37" width="1.45" height="116" fill="#fff" opacity="0.009"/><ellipse cx="226.2" cy="138" rx="30" ry="24" fill="url(#gr)" opacity="0.055"/><line x1="226.2" y1="118" x2="211.2" y2="153" stroke="#fff" stroke-width="2.16" opacity="0.035"/><line x1="226.2" y1="118" x2="241.2" y2="153" stroke="#fff" stroke-width="2.16" opacity="0.035"/><line x1="226.2" y1="122" x2="217.2" y2="153" stroke="#fff" stroke-width="2.16" opacity="0.024"/><line x1="226.2" y1="122" x2="235.2" y2="153" stroke="#fff" stroke-width="2.16" opacity="0.024"/><rect x="171.79" y="37" width="108.83" height="3.04" fill="url(#gx)" opacity="0.050"/><rect x="172.16" y="40" width="108.09" height="3.04" fill="url(#gx)" opacity="0.050"/><rect x="172.53" y="43" width="107.34" height="3.04" fill="url(#gx)" opacity="0.050"/><rect x="172.9" y="46" width="106.6" height="3.04" fill="url(#gx)" opacity="0.050"/><rect x="173.27" y="49" width="105.86" height="3.04" fill="url(#gx)" opacity="0.050"/><rect x="173.64" y="52" width="105.11" height="3.04" fill="url(#gx)" opacity="0.050"/><rect x="174.01" y="55" width="104.37" height="3.04" fill="url(#gx)" opacity="0.050"/><rect x="174.39" y="58" width="103.63" height="3.04" fill="url(#gx)" opacity="0.050"/><rect x="174.76" y="61" width="102.89" height="3.04" fill="url(#gx)" opacity="0.050"/><rect x="175.13" y="64" width="102.14" height="3.04" fill="url(#gx)" opacity="0.050"/><rect x="175.5" y="67" width="101.4" height="3.04" fill="url(#gx)" opacity="0.050"/><rect x="175.87" y="70" width="100.66" height="3.04" fill="url(#gx)" opacity="0.050"/><rect x="176.24" y="73" width="99.91" height="3.04" fill="url(#gx)" opacity="0.050"/><rect x="176.61" y="76" width="99.17" height="3.04" fill="url(#gx)" opacity="0.050"/><rect x="176.99" y="79" width="98.43" height="3.04" fill="url(#gx)" opacity="0.050"/><rect x="177.36" y="82" width="97.69" height="3.04" fill="url(#gx)" opacity="0.050"/><rect x="177.73" y="85" width="96.94" height="3.04" fill="url(#gx)" opacity="0.050"/><rect x="178.1" y="88" width="96.2" height="3.04" fill="url(#gx)" opacity="0.050"/><rect x="178.47" y="91" width="95.46" height="3.04" fill="url(#gx)" opacity="0.050"/><rect x="178.84" y="94" width="94.71" height="3.04" fill="url(#gx)" opacity="0.050"/><rect x="179.21" y="97" width="93.97" height="3.04" fill="url(#gx)" opacity="0.050"/><rect x="179.4" y="100" width="93.6" height="3.04" fill="url(#gx)" opacity="0.049"/><rect x="179.4" y="103" width="93.6" height="3.04" fill="url(#gx)" opacity="0.048"/><rect x="179.4" y="106" width="93.6" height="3.04" fill="url(#gx)" opacity="0.047"/><rect x="179.4" y="109" width="93.6" height="3.04" fill="url(#gx)" opacity="0.046"/><rect x="179.4" y="112" width="93.6" height="3.04" fill="url(#gx)" opacity="0.045"/><rect x="179.4" y="115" width="93.6" height="3.04" fill="url(#gx)" opacity="0.043"/><rect x="179.4" y="118" width="93.6" height="3.04" fill="url(#gx)" opacity="0.042"/><rect x="179.4" y="121" width="93.6" height="3.04" fill="url(#gx)" opacity="0.041"/><rect x="179.4" y="124" width="93.6" height="3.04" fill="url(#gx)" opacity="0.040"/><rect x="179.4" y="127" width="93.6" height="3.04" fill="url(#gx)" opacity="0.037"/><rect x="179.4" y="130" width="93.6" height="3.04" fill="url(#gx)" opacity="0.035"/><rect x="179.4" y="133" width="93.6" height="3.04" fill="url(#gx)" opacity="0.033"/><rect x="179.4" y="136" width="93.6" height="3.04" fill="url(#gx)" opacity="0.031"/><rect x="179.4" y="139" width="93.6" height="3.04" fill="url(#gx)" opacity="0.029"/><rect x="179.4" y="142" width="93.6" height="3.04" fill="url(#gx)" opacity="0.027"/><rect x="179.4" y="145" width="93.6" height="3.04" fill="url(#gx)" opacity="0.025"/><rect x="179.4" y="148" width="93.6" height="3.04" fill="url(#gx)" opacity="0.022"/><rect x="179.4" y="151" width="93.6" height="2.04" fill="url(#gx)" opacity="0.021"/><rect x="195.09" y="37" width="62.22" height="1.04" fill="url(#gx)" opacity="0.131"/><rect x="195.27" y="38" width="61.86" height="1.04" fill="url(#gx)" opacity="0.132"/><rect x="195.45" y="39" width="61.5" height="1.04" fill="url(#gx)" opacity="0.134"/><rect x="195.63" y="40" width="61.14" height="1.04" fill="url(#gx)" opacity="0.135"/><rect x="195.81" y="41" width="60.78" height="1.04" fill="url(#gx)" opacity="0.137"/><rect x="195.99" y="42" width="60.42" height="1.04" fill="url(#gx)" opacity="0.138"/><rect x="196.17" y="43" width="60.06" height="1.04" fill="url(#gx)" opacity="0.140"/><rect x="196.35" y="44" width="59.7" height="1.04" fill="url(#gx)" opacity="0.142"/><rect x="196.53" y="45" width="59.34" height="1.04" fill="url(#gx)" opacity="0.143"/><rect x="196.71" y="46" width="58.98" height="1.04" fill="url(#gx)" opacity="0.145"/><rect x="196.89" y="47" width="58.62" height="1.04" fill="url(#gx)" opacity="0.146"/><rect x="197.07" y="48" width="58.26" height="1.04" fill="url(#gx)" opacity="0.148"/><rect x="197.25" y="49" width="57.9" height="1.04" fill="url(#gx)" opacity="0.149"/><rect x="197.5" y="50" width="57.41" height="1.04" fill="url(#gx)" opacity="0.153"/><rect x="197.81" y="51" width="56.78" height="1.04" fill="url(#gx)" opacity="0.158"/><rect x="198.12" y="52" width="56.16" height="1.04" fill="url(#gx)" opacity="0.164"/><rect x="198.43" y="53" width="55.54" height="1.04" fill="url(#gx)" opacity="0.170"/><rect x="198.74" y="54" width="54.91" height="1.04" fill="url(#gx)" opacity="0.175"/><rect x="199.06" y="55" width="54.29" height="1.04" fill="url(#gx)" opacity="0.181"/><rect x="199.37" y="56" width="53.66" height="1.04" fill="url(#gx)" opacity="0.186"/><rect x="199.68" y="57" width="53.04" height="1.04" fill="url(#gx)" opacity="0.192"/><rect x="199.99" y="58" width="52.42" height="1.04" fill="url(#gx)" opacity="0.198"/><rect x="200.3" y="59" width="51.79" height="1.04" fill="url(#gx)" opacity="0.203"/><rect x="200.62" y="60" width="51.17" height="1.04" fill="url(#gx)" opacity="0.209"/><rect x="200.93" y="61" width="50.54" height="1.04" fill="url(#gx)" opacity="0.214"/><rect x="201.24" y="62" width="49.92" height="1.04" fill="url(#gx)" opacity="0.220"/><rect x="201.63" y="63" width="49.14" height="1.04" fill="url(#gx)" opacity="0.230"/><rect x="202.02" y="64" width="48.36" height="1.04" fill="url(#gx)" opacity="0.240"/><rect x="202.41" y="65" width="47.58" height="1.04" fill="url(#gx)" opacity="0.250"/><rect x="202.8" y="66" width="46.8" height="1.04" fill="url(#gx)" opacity="0.260"/><rect x="203.19" y="67" width="46.02" height="1.04" fill="url(#gx)" opacity="0.270"/><rect x="203.58" y="68" width="45.24" height="1.04" fill="url(#gx)" opacity="0.280"/><rect x="204.01" y="69" width="44.39" height="1.04" fill="url(#gx)" opacity="0.298"/><rect x="204.43" y="70" width="43.54" height="1.04" fill="url(#gx)" opacity="0.316"/><rect x="204.86" y="71" width="42.69" height="1.04" fill="url(#gx)" opacity="0.335"/><rect x="205.28" y="72" width="41.84" height="1.04" fill="url(#gx)" opacity="0.353"/><rect x="205.71" y="73" width="40.99" height="1.04" fill="url(#gx)" opacity="0.371"/><rect x="206.04" y="74" width="40.32" height="1.04" fill="url(#gx)" opacity="0.389"/><rect x="206.28" y="75" width="39.84" height="1.04" fill="url(#gx)" opacity="0.408"/><rect x="206.52" y="76" width="39.36" height="1.04" fill="url(#gx)" opacity="0.426"/><rect x="206.76" y="77" width="38.88" height="1.04" fill="url(#gx)" opacity="0.445"/><rect x="207" y="78" width="38.4" height="1.04" fill="url(#gx)" opacity="0.463"/><rect x="207.24" y="79" width="37.92" height="1.04" fill="url(#gx)" opacity="0.482"/><rect x="207.48" y="80" width="37.44" height="1.04" fill="url(#gx)" opacity="0.500"/><rect x="207.83" y="81" width="36.75" height="1.04" fill="url(#gx)" opacity="0.533"/><rect x="208.17" y="82" width="36.05" height="1.04" fill="url(#gx)" opacity="0.567"/><rect x="208.52" y="83" width="35.36" height="1.04" fill="url(#gx)" opacity="0.600"/><rect x="208.87" y="84" width="34.67" height="1.04" fill="url(#gx)" opacity="0.633"/><rect x="209.15" y="85" width="34.1" height="1.04" fill="url(#gx)" opacity="0.669"/><rect x="209.37" y="86" width="33.65" height="1.04" fill="url(#gx)" opacity="0.706"/><rect x="209.6" y="87" width="33.21" height="1.04" fill="url(#gx)" opacity="0.743"/><rect x="209.82" y="88" width="32.76" height="1.04" fill="url(#gx)" opacity="0.780"/><rect x="210.13" y="89" width="32.14" height="1.04" fill="url(#gx)" opacity="0.816"/><rect x="210.44" y="90" width="31.51" height="1.04" fill="url(#gx)" opacity="0.852"/><rect x="210.72" y="91" width="30.97" height="1.04" fill="url(#gx)" opacity="0.877"/><rect x="210.95" y="92" width="30.5" height="1.04" fill="url(#gx)" opacity="0.891"/><rect x="211.18" y="93" width="30.03" height="1.04" fill="url(#gx)" opacity="0.905"/><rect x="211.42" y="94" width="29.56" height="1.04" fill="url(#gx)" opacity="0.919"/><rect x="211.65" y="95" width="29.09" height="1.04" fill="url(#gx)" opacity="0.933"/><rect x="211.79" y="96" width="28.81" height="1.04" fill="url(#gx)" opacity="0.941"/><rect x="211.84" y="97" width="28.71" height="1.04" fill="url(#gx)" opacity="0.942"/><rect x="211.89" y="98" width="28.62" height="1.04" fill="url(#gx)" opacity="0.943"/><rect x="211.94" y="99" width="28.52" height="1.04" fill="url(#gx)" opacity="0.944"/><rect x="211.99" y="100" width="28.42" height="1.04" fill="url(#gx)" opacity="0.946"/><rect x="212.04" y="101" width="28.32" height="1.04" fill="url(#gx)" opacity="0.947"/><rect x="212.09" y="102" width="28.23" height="1.04" fill="url(#gx)" opacity="0.948"/><rect x="212.14" y="103" width="28.13" height="1.04" fill="url(#gx)" opacity="0.949"/><rect x="212.16" y="104" width="28.08" height="1.04" fill="url(#gx)" opacity="0.941"/><rect x="212.16" y="105" width="28.08" height="1.04" fill="url(#gx)" opacity="0.924"/><rect x="212.16" y="106" width="28.08" height="1.04" fill="url(#gx)" opacity="0.906"/><rect x="212.16" y="107" width="28.08" height="1.04" fill="url(#gx)" opacity="0.889"/><rect x="212.16" y="108" width="28.08" height="1.04" fill="url(#gx)" opacity="0.862"/><rect x="212.16" y="109" width="28.08" height="1.04" fill="url(#gx)" opacity="0.825"/><rect x="212.08" y="110" width="28.24" height="1.04" fill="url(#gx)" opacity="0.780"/><rect x="211.82" y="111" width="28.76" height="1.04" fill="url(#gx)" opacity="0.713"/><rect x="211.56" y="112" width="29.28" height="1.04" fill="url(#gx)" opacity="0.647"/><rect x="211.19" y="113" width="30.03" height="1.04" fill="url(#gx)" opacity="0.575"/><rect x="210.53" y="114" width="31.33" height="1.04" fill="url(#gx)" opacity="0.492"/><rect x="209.88" y="115" width="32.63" height="1.04" fill="url(#gx)" opacity="0.408"/><rect x="208.37" y="116" width="35.66" height="1.04" fill="url(#gx)" opacity="0.338"/><rect x="206.75" y="117" width="38.89" height="1.04" fill="url(#gx)" opacity="0.269"/><rect x="205.14" y="118" width="42.12" height="1.04" fill="url(#gx)" opacity="0.200"/><rect x="203.89" y="119" width="44.62" height="1.04" fill="url(#gx)" opacity="0.160"/><rect x="202.64" y="120" width="47.11" height="1.04" fill="url(#gx)" opacity="0.120"/><rect x="201.79" y="121" width="48.82" height="1.04" fill="url(#gx)" opacity="0.099"/><rect x="201.33" y="122" width="49.75" height="1.04" fill="url(#gx)" opacity="0.097"/><rect x="200.86" y="123" width="50.68" height="1.04" fill="url(#gx)" opacity="0.095"/><rect x="200.4" y="124" width="51.6" height="1.04" fill="url(#gx)" opacity="0.093"/><rect x="199.94" y="125" width="52.53" height="1.04" fill="url(#gx)" opacity="0.092"/><rect x="199.47" y="126" width="53.45" height="1.04" fill="url(#gx)" opacity="0.090"/><rect x="199.01" y="127" width="54.38" height="1.04" fill="url(#gx)" opacity="0.088"/><rect x="198.55" y="128" width="55.31" height="1.04" fill="url(#gx)" opacity="0.086"/><rect x="198.08" y="129" width="56.23" height="1.04" fill="url(#gx)" opacity="0.084"/><rect x="197.62" y="130" width="57.16" height="1.04" fill="url(#gx)" opacity="0.082"/><rect x="197.16" y="131" width="58.09" height="1.04" fill="url(#gx)" opacity="0.080"/><rect x="196.69" y="132" width="59.01" height="1.04" fill="url(#gx)" opacity="0.078"/><rect x="196.23" y="133" width="59.94" height="1.04" fill="url(#gx)" opacity="0.077"/><rect x="195.77" y="134" width="60.86" height="1.04" fill="url(#gx)" opacity="0.075"/><rect x="195.3" y="135" width="61.79" height="1.04" fill="url(#gx)" opacity="0.073"/><rect x="194.84" y="136" width="62.72" height="1.04" fill="url(#gx)" opacity="0.071"/><rect x="194.38" y="137" width="63.64" height="1.04" fill="url(#gx)" opacity="0.069"/><rect x="193.92" y="138" width="64.57" height="1.04" fill="url(#gx)" opacity="0.067"/><rect x="193.45" y="139" width="65.5" height="1.04" fill="url(#gx)" opacity="0.065"/><rect x="192.99" y="140" width="66.42" height="1.04" fill="url(#gx)" opacity="0.063"/><rect x="192.53" y="141" width="67.35" height="1.04" fill="url(#gx)" opacity="0.062"/><rect x="192.06" y="142" width="68.27" height="1.04" fill="url(#gx)" opacity="0.060"/><rect x="191.6" y="143" width="69.2" height="1.04" fill="url(#gx)" opacity="0.058"/><rect x="191.14" y="144" width="70.13" height="1.04" fill="url(#gx)" opacity="0.056"/><rect x="190.67" y="145" width="71.05" height="1.04" fill="url(#gx)" opacity="0.054"/><rect x="190.21" y="146" width="71.98" height="1.04" fill="url(#gx)" opacity="0.052"/><rect x="189.75" y="147" width="72.91" height="1.04" fill="url(#gx)" opacity="0.050"/><rect x="189.28" y="148" width="73.83" height="1.04" fill="url(#gx)" opacity="0.048"/><rect x="188.82" y="149" width="74.76" height="1.04" fill="url(#gx)" opacity="0.047"/><rect x="188.36" y="150" width="75.68" height="1.04" fill="url(#gx)" opacity="0.045"/><rect x="187.89" y="151" width="76.61" height="1.04" fill="url(#gx)" opacity="0.043"/><rect x="187.43" y="152" width="77.54" height="1.04" fill="url(#gx)" opacity="0.041"/><ellipse cx="226.2" cy="129.3" rx="2.7" ry="6" fill="url(#gr)" opacity="0.360"/><ellipse cx="226.2" cy="141.7" rx="1.8" ry="1.8" fill="url(#gr)" opacity="0.220"/></g></g>
<g clip-path="url(#c4)"><g filter="url(#jet)"><rect x="258" y="34" width="67" height="122" fill="#fff" opacity="0.016"/><rect x="263.97" y="37" width="1.43" height="116" fill="#fff" opacity="0.012"/><rect x="262.32" y="37" width="1.31" height="116" fill="#fff" opacity="0.005"/><rect x="279.44" y="37" width="2" height="116" fill="#fff" opacity="0.008"/><rect x="296.6" y="37" width="1.1" height="116" fill="#fff" opacity="0.014"/><rect x="269.13" y="37" width="1.27" height="116" fill="#fff" opacity="0.010"/><rect x="313.69" y="37" width="2.14" height="116" fill="#fff" opacity="0.015"/><rect x="307.32" y="37" width="1.58" height="116" fill="#fff" opacity="0.009"/><rect x="304.51" y="37" width="1.41" height="116" fill="#fff" opacity="0.013"/><ellipse cx="291.5" cy="138" rx="30" ry="24" fill="url(#gr)" opacity="0.055"/><line x1="278.7" y1="37" x2="288" y2="95" stroke="#fff" stroke-width="2.2" opacity="0.025"/><line x1="304.3" y1="37" x2="295" y2="95" stroke="#fff" stroke-width="2.2" opacity="0.025"/><line x1="291.5" y1="118" x2="275.5" y2="153" stroke="#fff" stroke-width="2.16" opacity="0.035"/><line x1="291.5" y1="118" x2="307.5" y2="153" stroke="#fff" stroke-width="2.16" opacity="0.035"/><line x1="291.5" y1="122" x2="281.9" y2="153" stroke="#fff" stroke-width="2.16" opacity="0.024"/><line x1="291.5" y1="122" x2="301.1" y2="153" stroke="#fff" stroke-width="2.16" opacity="0.024"/><rect x="237.09" y="37" width="108.83" height="3.04" fill="url(#gx)" opacity="0.050"/><rect x="237.46" y="40" width="108.09" height="3.04" fill="url(#gx)" opacity="0.050"/><rect x="237.83" y="43" width="107.34" height="3.04" fill="url(#gx)" opacity="0.050"/><rect x="238.2" y="46" width="106.6" height="3.04" fill="url(#gx)" opacity="0.050"/><rect x="238.57" y="49" width="105.86" height="3.04" fill="url(#gx)" opacity="0.050"/><rect x="238.94" y="52" width="105.11" height="3.04" fill="url(#gx)" opacity="0.050"/><rect x="239.31" y="55" width="104.37" height="3.04" fill="url(#gx)" opacity="0.050"/><rect x="239.69" y="58" width="103.63" height="3.04" fill="url(#gx)" opacity="0.050"/><rect x="240.06" y="61" width="102.89" height="3.04" fill="url(#gx)" opacity="0.050"/><rect x="240.43" y="64" width="102.14" height="3.04" fill="url(#gx)" opacity="0.050"/><rect x="240.8" y="67" width="101.4" height="3.04" fill="url(#gx)" opacity="0.050"/><rect x="241.17" y="70" width="100.66" height="3.04" fill="url(#gx)" opacity="0.050"/><rect x="241.54" y="73" width="99.91" height="3.04" fill="url(#gx)" opacity="0.050"/><rect x="241.91" y="76" width="99.17" height="3.04" fill="url(#gx)" opacity="0.050"/><rect x="242.29" y="79" width="98.43" height="3.04" fill="url(#gx)" opacity="0.050"/><rect x="242.66" y="82" width="97.69" height="3.04" fill="url(#gx)" opacity="0.050"/><rect x="243.03" y="85" width="96.94" height="3.04" fill="url(#gx)" opacity="0.050"/><rect x="243.4" y="88" width="96.2" height="3.04" fill="url(#gx)" opacity="0.050"/><rect x="243.77" y="91" width="95.46" height="3.04" fill="url(#gx)" opacity="0.050"/><rect x="244.14" y="94" width="94.71" height="3.04" fill="url(#gx)" opacity="0.050"/><rect x="244.51" y="97" width="93.97" height="3.04" fill="url(#gx)" opacity="0.050"/><rect x="244.7" y="100" width="93.6" height="3.04" fill="url(#gx)" opacity="0.049"/><rect x="244.7" y="103" width="93.6" height="3.04" fill="url(#gx)" opacity="0.048"/><rect x="244.7" y="106" width="93.6" height="3.04" fill="url(#gx)" opacity="0.047"/><rect x="244.7" y="109" width="93.6" height="3.04" fill="url(#gx)" opacity="0.046"/><rect x="244.7" y="112" width="93.6" height="3.04" fill="url(#gx)" opacity="0.045"/><rect x="244.7" y="115" width="93.6" height="3.04" fill="url(#gx)" opacity="0.043"/><rect x="244.7" y="118" width="93.6" height="3.04" fill="url(#gx)" opacity="0.042"/><rect x="244.7" y="121" width="93.6" height="3.04" fill="url(#gx)" opacity="0.041"/><rect x="244.7" y="124" width="93.6" height="3.04" fill="url(#gx)" opacity="0.040"/><rect x="244.7" y="127" width="93.6" height="3.04" fill="url(#gx)" opacity="0.037"/><rect x="244.7" y="130" width="93.6" height="3.04" fill="url(#gx)" opacity="0.035"/><rect x="244.7" y="133" width="93.6" height="3.04" fill="url(#gx)" opacity="0.033"/><rect x="244.7" y="136" width="93.6" height="3.04" fill="url(#gx)" opacity="0.031"/><rect x="244.7" y="139" width="93.6" height="3.04" fill="url(#gx)" opacity="0.029"/><rect x="244.7" y="142" width="93.6" height="3.04" fill="url(#gx)" opacity="0.027"/><rect x="244.7" y="145" width="93.6" height="3.04" fill="url(#gx)" opacity="0.025"/><rect x="244.7" y="148" width="93.6" height="3.04" fill="url(#gx)" opacity="0.022"/><rect x="244.7" y="151" width="93.6" height="2.04" fill="url(#gx)" opacity="0.021"/><rect x="258.83" y="37" width="65.34" height="1.04" fill="url(#gx)" opacity="0.151"/><rect x="259.01" y="38" width="64.98" height="1.04" fill="url(#gx)" opacity="0.153"/><rect x="259.19" y="39" width="64.62" height="1.04" fill="url(#gx)" opacity="0.156"/><rect x="259.37" y="40" width="64.26" height="1.04" fill="url(#gx)" opacity="0.158"/><rect x="259.55" y="41" width="63.9" height="1.04" fill="url(#gx)" opacity="0.160"/><rect x="259.73" y="42" width="63.54" height="1.04" fill="url(#gx)" opacity="0.163"/><rect x="259.91" y="43" width="63.18" height="1.04" fill="url(#gx)" opacity="0.165"/><rect x="260.09" y="44" width="62.82" height="1.04" fill="url(#gx)" opacity="0.167"/><rect x="260.27" y="45" width="62.46" height="1.04" fill="url(#gx)" opacity="0.170"/><rect x="260.45" y="46" width="62.1" height="1.04" fill="url(#gx)" opacity="0.172"/><rect x="260.63" y="47" width="61.74" height="1.04" fill="url(#gx)" opacity="0.174"/><rect x="260.81" y="48" width="61.38" height="1.04" fill="url(#gx)" opacity="0.177"/><rect x="260.99" y="49" width="61.02" height="1.04" fill="url(#gx)" opacity="0.179"/><rect x="261.2" y="50" width="60.59" height="1.04" fill="url(#gx)" opacity="0.182"/><rect x="261.45" y="51" width="60.1" height="1.04" fill="url(#gx)" opacity="0.186"/><rect x="261.7" y="52" width="59.61" height="1.04" fill="url(#gx)" opacity="0.191"/><rect x="261.94" y="53" width="59.12" height="1.04" fill="url(#gx)" opacity="0.195"/><rect x="262.19" y="54" width="58.62" height="1.04" fill="url(#gx)" opacity="0.199"/><rect x="262.43" y="55" width="58.13" height="1.04" fill="url(#gx)" opacity="0.203"/><rect x="262.68" y="56" width="57.64" height="1.04" fill="url(#gx)" opacity="0.207"/><rect x="262.93" y="57" width="57.15" height="1.04" fill="url(#gx)" opacity="0.212"/><rect x="263.17" y="58" width="56.65" height="1.04" fill="url(#gx)" opacity="0.216"/><rect x="263.42" y="59" width="56.16" height="1.04" fill="url(#gx)" opacity="0.220"/><rect x="263.81" y="60" width="55.38" height="1.04" fill="url(#gx)" opacity="0.233"/><rect x="264.2" y="61" width="54.6" height="1.04" fill="url(#gx)" opacity="0.247"/><rect x="264.59" y="62" width="53.82" height="1.04" fill="url(#gx)" opacity="0.260"/><rect x="264.98" y="63" width="53.04" height="1.04" fill="url(#gx)" opacity="0.273"/><rect x="265.37" y="64" width="52.26" height="1.04" fill="url(#gx)" opacity="0.287"/><rect x="265.76" y="65" width="51.48" height="1.04" fill="url(#gx)" opacity="0.300"/><rect x="266.11" y="66" width="50.79" height="1.04" fill="url(#gx)" opacity="0.318"/><rect x="266.45" y="67" width="50.09" height="1.04" fill="url(#gx)" opacity="0.336"/><rect x="266.8" y="68" width="49.4" height="1.04" fill="url(#gx)" opacity="0.353"/><rect x="267.15" y="69" width="48.71" height="1.04" fill="url(#gx)" opacity="0.371"/><rect x="267.45" y="70" width="48.1" height="1.04" fill="url(#gx)" opacity="0.390"/><rect x="267.71" y="71" width="47.58" height="1.04" fill="url(#gx)" opacity="0.410"/><rect x="267.97" y="72" width="47.06" height="1.04" fill="url(#gx)" opacity="0.430"/><rect x="268.23" y="73" width="46.54" height="1.04" fill="url(#gx)" opacity="0.450"/><rect x="268.49" y="74" width="46.02" height="1.04" fill="url(#gx)" opacity="0.470"/><rect x="268.75" y="75" width="45.5" height="1.04" fill="url(#gx)" opacity="0.490"/><rect x="269.05" y="76" width="44.89" height="1.04" fill="url(#gx)" opacity="0.513"/><rect x="269.4" y="77" width="44.2" height="1.04" fill="url(#gx)" opacity="0.540"/><rect x="269.75" y="78" width="43.51" height="1.04" fill="url(#gx)" opacity="0.567"/><rect x="270.09" y="79" width="42.81" height="1.04" fill="url(#gx)" opacity="0.593"/><rect x="270.44" y="80" width="42.12" height="1.04" fill="url(#gx)" opacity="0.620"/><rect x="270.7" y="81" width="41.6" height="1.04" fill="url(#gx)" opacity="0.649"/><rect x="270.96" y="82" width="41.08" height="1.04" fill="url(#gx)" opacity="0.678"/><rect x="271.22" y="83" width="40.56" height="1.04" fill="url(#gx)" opacity="0.707"/><rect x="271.48" y="84" width="40.04" height="1.04" fill="url(#gx)" opacity="0.736"/><rect x="271.74" y="85" width="39.52" height="1.04" fill="url(#gx)" opacity="0.768"/><rect x="272" y="86" width="39" height="1.04" fill="url(#gx)" opacity="0.805"/><rect x="272.26" y="87" width="38.48" height="1.04" fill="url(#gx)" opacity="0.842"/><rect x="272.47" y="88" width="38.06" height="1.04" fill="url(#gx)" opacity="0.867"/><rect x="272.62" y="89" width="37.75" height="1.04" fill="url(#gx)" opacity="0.881"/><rect x="272.78" y="90" width="37.44" height="1.04" fill="url(#gx)" opacity="0.895"/><rect x="272.94" y="91" width="37.13" height="1.04" fill="url(#gx)" opacity="0.909"/><rect x="273.09" y="92" width="36.82" height="1.04" fill="url(#gx)" opacity="0.923"/><rect x="273.23" y="93" width="36.55" height="1.04" fill="url(#gx)" opacity="0.932"/><rect x="273.34" y="94" width="36.33" height="1.04" fill="url(#gx)" opacity="0.936"/><rect x="273.45" y="95" width="36.1" height="1.04" fill="url(#gx)" opacity="0.941"/><rect x="273.56" y="96" width="35.88" height="1.04" fill="url(#gx)" opacity="0.945"/><rect x="273.67" y="97" width="35.66" height="1.04" fill="url(#gx)" opacity="0.949"/><rect x="273.78" y="98" width="35.43" height="1.04" fill="url(#gx)" opacity="0.954"/><rect x="273.89" y="99" width="35.21" height="1.04" fill="url(#gx)" opacity="0.958"/><rect x="273.98" y="100" width="35.04" height="1.04" fill="url(#gx)" opacity="0.958"/><rect x="274.05" y="101" width="34.91" height="1.04" fill="url(#gx)" opacity="0.953"/><rect x="274.11" y="102" width="34.78" height="1.04" fill="url(#gx)" opacity="0.948"/><rect x="274.18" y="103" width="34.65" height="1.04" fill="url(#gx)" opacity="0.943"/><rect x="274.24" y="104" width="34.52" height="1.04" fill="url(#gx)" opacity="0.938"/><rect x="274.31" y="105" width="34.39" height="1.04" fill="url(#gx)" opacity="0.932"/><rect x="274.34" y="106" width="34.32" height="1.04" fill="url(#gx)" opacity="0.920"/><rect x="274.34" y="107" width="34.32" height="1.04" fill="url(#gx)" opacity="0.900"/><rect x="274.34" y="108" width="34.32" height="1.04" fill="url(#gx)" opacity="0.880"/><rect x="274.14" y="109" width="34.71" height="1.04" fill="url(#gx)" opacity="0.840"/><rect x="273.75" y="110" width="35.49" height="1.04" fill="url(#gx)" opacity="0.780"/><rect x="273.32" y="111" width="36.37" height="1.04" fill="url(#gx)" opacity="0.709"/><rect x="272.83" y="112" width="37.34" height="1.04" fill="url(#gx)" opacity="0.628"/><rect x="272.08" y="113" width="38.84" height="1.04" fill="url(#gx)" opacity="0.554"/><rect x="271.3" y="114" width="40.4" height="1.04" fill="url(#gx)" opacity="0.481"/><rect x="270.52" y="115" width="41.96" height="1.04" fill="url(#gx)" opacity="0.407"/><rect x="269.71" y="116" width="43.57" height="1.04" fill="url(#gx)" opacity="0.360"/><rect x="268.91" y="117" width="45.19" height="1.04" fill="url(#gx)" opacity="0.315"/><rect x="268.1" y="118" width="46.8" height="1.04" fill="url(#gx)" opacity="0.270"/><rect x="267.58" y="119" width="47.84" height="1.04" fill="url(#gx)" opacity="0.247"/><rect x="267.06" y="120" width="48.88" height="1.04" fill="url(#gx)" opacity="0.223"/><rect x="266.54" y="121" width="49.92" height="1.04" fill="url(#gx)" opacity="0.200"/><rect x="265.6" y="122" width="51.79" height="1.04" fill="url(#gx)" opacity="0.168"/><rect x="264.67" y="123" width="53.66" height="1.04" fill="url(#gx)" opacity="0.136"/><rect x="264" y="124" width="55" height="1.04" fill="url(#gx)" opacity="0.119"/><rect x="263.59" y="125" width="55.81" height="1.04" fill="url(#gx)" opacity="0.116"/><rect x="263.19" y="126" width="56.62" height="1.04" fill="url(#gx)" opacity="0.113"/><rect x="262.79" y="127" width="57.42" height="1.04" fill="url(#gx)" opacity="0.110"/><rect x="262.38" y="128" width="58.23" height="1.04" fill="url(#gx)" opacity="0.108"/><rect x="261.98" y="129" width="59.04" height="1.04" fill="url(#gx)" opacity="0.105"/><rect x="261.58" y="130" width="59.84" height="1.04" fill="url(#gx)" opacity="0.102"/><rect x="261.17" y="131" width="60.65" height="1.04" fill="url(#gx)" opacity="0.099"/><rect x="260.77" y="132" width="61.46" height="1.04" fill="url(#gx)" opacity="0.097"/><rect x="260.37" y="133" width="62.27" height="1.04" fill="url(#gx)" opacity="0.094"/><rect x="259.96" y="134" width="63.07" height="1.04" fill="url(#gx)" opacity="0.091"/><rect x="259.56" y="135" width="63.88" height="1.04" fill="url(#gx)" opacity="0.088"/><rect x="259.16" y="136" width="64.69" height="1.04" fill="url(#gx)" opacity="0.086"/><rect x="258.75" y="137" width="65.49" height="1.04" fill="url(#gx)" opacity="0.083"/><rect x="258.35" y="138" width="66.3" height="1.04" fill="url(#gx)" opacity="0.080"/><rect x="257.95" y="139" width="67.11" height="1.04" fill="url(#gx)" opacity="0.077"/><rect x="257.54" y="140" width="67.91" height="1.04" fill="url(#gx)" opacity="0.074"/><rect x="257.14" y="141" width="68.72" height="1.04" fill="url(#gx)" opacity="0.072"/><rect x="256.74" y="142" width="69.53" height="1.04" fill="url(#gx)" opacity="0.069"/><rect x="256.33" y="143" width="70.33" height="1.04" fill="url(#gx)" opacity="0.066"/><rect x="255.93" y="144" width="71.14" height="1.04" fill="url(#gx)" opacity="0.063"/><rect x="255.53" y="145" width="71.95" height="1.04" fill="url(#gx)" opacity="0.061"/><rect x="255.12" y="146" width="72.76" height="1.04" fill="url(#gx)" opacity="0.058"/><rect x="254.72" y="147" width="73.56" height="1.04" fill="url(#gx)" opacity="0.055"/><rect x="254.32" y="148" width="74.37" height="1.04" fill="url(#gx)" opacity="0.052"/><rect x="253.91" y="149" width="75.18" height="1.04" fill="url(#gx)" opacity="0.050"/><rect x="253.51" y="150" width="75.98" height="1.04" fill="url(#gx)" opacity="0.047"/><rect x="253.11" y="151" width="76.79" height="1.04" fill="url(#gx)" opacity="0.044"/><rect x="252.7" y="152" width="77.6" height="1.04" fill="url(#gx)" opacity="0.041"/><ellipse cx="291.5" cy="128" rx="3" ry="4.8" fill="url(#gr)" opacity="0.350"/><ellipse cx="291.5" cy="138.1" rx="2.1" ry="2.1" fill="url(#gr)" opacity="0.250"/><ellipse cx="291.5" cy="143.4" rx="1.8" ry="1.8" fill="url(#gr)" opacity="0.200"/><ellipse cx="291.5" cy="147" rx="1.5" ry="1.5" fill="url(#gr)" opacity="0.140"/></g></g>
<g clip-path="url(#c5)"><g filter="url(#jet)"><rect x="324" y="34" width="66.5" height="122" fill="#fff" opacity="0.016"/><rect x="371.11" y="37" width="1.84" height="116" fill="#fff" opacity="0.006"/><rect x="351.05" y="37" width="2.17" height="116" fill="#fff" opacity="0.010"/><rect x="338.05" y="37" width="2.28" height="116" fill="#fff" opacity="0.015"/><rect x="386.54" y="37" width="1.29" height="116" fill="#fff" opacity="0.015"/><rect x="341.21" y="37" width="1.04" height="116" fill="#fff" opacity="0.014"/><rect x="382.76" y="37" width="1.44" height="116" fill="#fff" opacity="0.006"/><rect x="350.92" y="37" width="1.77" height="116" fill="#fff" opacity="0.008"/><rect x="352.99" y="37" width="2.25" height="116" fill="#fff" opacity="0.010"/><ellipse cx="356.8" cy="138" rx="30" ry="24" fill="url(#gr)" opacity="0.065"/><line x1="343.4" y1="37" x2="353.3" y2="95" stroke="#fff" stroke-width="2.2" opacity="0.025"/><line x1="370.2" y1="37" x2="360.3" y2="95" stroke="#fff" stroke-width="2.2" opacity="0.025"/><line x1="356.8" y1="118" x2="339.8" y2="153" stroke="#fff" stroke-width="2.16" opacity="0.035"/><line x1="356.8" y1="118" x2="373.8" y2="153" stroke="#fff" stroke-width="2.16" opacity="0.035"/><line x1="356.8" y1="122" x2="346.6" y2="153" stroke="#fff" stroke-width="2.16" opacity="0.024"/><line x1="356.8" y1="122" x2="367" y2="153" stroke="#fff" stroke-width="2.16" opacity="0.024"/><rect x="302.39" y="37" width="108.83" height="3.04" fill="url(#gx)" opacity="0.050"/><rect x="302.76" y="40" width="108.09" height="3.04" fill="url(#gx)" opacity="0.050"/><rect x="303.13" y="43" width="107.34" height="3.04" fill="url(#gx)" opacity="0.050"/><rect x="303.5" y="46" width="106.6" height="3.04" fill="url(#gx)" opacity="0.050"/><rect x="303.87" y="49" width="105.86" height="3.04" fill="url(#gx)" opacity="0.050"/><rect x="304.24" y="52" width="105.11" height="3.04" fill="url(#gx)" opacity="0.050"/><rect x="304.61" y="55" width="104.37" height="3.04" fill="url(#gx)" opacity="0.050"/><rect x="304.99" y="58" width="103.63" height="3.04" fill="url(#gx)" opacity="0.050"/><rect x="305.36" y="61" width="102.89" height="3.04" fill="url(#gx)" opacity="0.050"/><rect x="305.73" y="64" width="102.14" height="3.04" fill="url(#gx)" opacity="0.050"/><rect x="306.1" y="67" width="101.4" height="3.04" fill="url(#gx)" opacity="0.050"/><rect x="306.47" y="70" width="100.66" height="3.04" fill="url(#gx)" opacity="0.050"/><rect x="306.84" y="73" width="99.91" height="3.04" fill="url(#gx)" opacity="0.050"/><rect x="307.21" y="76" width="99.17" height="3.04" fill="url(#gx)" opacity="0.050"/><rect x="307.59" y="79" width="98.43" height="3.04" fill="url(#gx)" opacity="0.050"/><rect x="307.96" y="82" width="97.69" height="3.04" fill="url(#gx)" opacity="0.050"/><rect x="308.33" y="85" width="96.94" height="3.04" fill="url(#gx)" opacity="0.050"/><rect x="308.7" y="88" width="96.2" height="3.04" fill="url(#gx)" opacity="0.050"/><rect x="309.07" y="91" width="95.46" height="3.04" fill="url(#gx)" opacity="0.050"/><rect x="309.44" y="94" width="94.71" height="3.04" fill="url(#gx)" opacity="0.050"/><rect x="309.81" y="97" width="93.97" height="3.04" fill="url(#gx)" opacity="0.050"/><rect x="310" y="100" width="93.6" height="3.04" fill="url(#gx)" opacity="0.049"/><rect x="310" y="103" width="93.6" height="3.04" fill="url(#gx)" opacity="0.047"/><rect x="310" y="106" width="93.6" height="3.04" fill="url(#gx)" opacity="0.046"/><rect x="310" y="109" width="93.6" height="3.04" fill="url(#gx)" opacity="0.044"/><rect x="310" y="112" width="93.6" height="3.04" fill="url(#gx)" opacity="0.042"/><rect x="310" y="115" width="93.6" height="3.04" fill="url(#gx)" opacity="0.041"/><rect x="310" y="118" width="93.6" height="3.04" fill="url(#gx)" opacity="0.039"/><rect x="310" y="121" width="93.6" height="3.04" fill="url(#gx)" opacity="0.037"/><rect x="310" y="124" width="93.6" height="3.04" fill="url(#gx)" opacity="0.036"/><rect x="310" y="127" width="93.6" height="3.04" fill="url(#gx)" opacity="0.034"/><rect x="310" y="130" width="93.6" height="3.04" fill="url(#gx)" opacity="0.032"/><rect x="310" y="133" width="93.6" height="3.04" fill="url(#gx)" opacity="0.030"/><rect x="310" y="136" width="93.6" height="3.04" fill="url(#gx)" opacity="0.029"/><rect x="310" y="139" width="93.6" height="3.04" fill="url(#gx)" opacity="0.027"/><rect x="310" y="142" width="93.6" height="3.04" fill="url(#gx)" opacity="0.025"/><rect x="310" y="145" width="93.6" height="3.04" fill="url(#gx)" opacity="0.024"/><rect x="310" y="148" width="93.6" height="3.04" fill="url(#gx)" opacity="0.022"/><rect x="310" y="151" width="93.6" height="2.04" fill="url(#gx)" opacity="0.021"/><rect x="331.11" y="37" width="51.38" height="1.04" fill="url(#gx)" opacity="0.212"/><rect x="331.21" y="38" width="51.19" height="1.04" fill="url(#gx)" opacity="0.217"/><rect x="331.3" y="39" width="50.99" height="1.04" fill="url(#gx)" opacity="0.223"/><rect x="331.4" y="40" width="50.8" height="1.04" fill="url(#gx)" opacity="0.227"/><rect x="331.5" y="41" width="50.6" height="1.04" fill="url(#gx)" opacity="0.232"/><rect x="331.6" y="42" width="50.41" height="1.04" fill="url(#gx)" opacity="0.237"/><rect x="331.69" y="43" width="50.21" height="1.04" fill="url(#gx)" opacity="0.242"/><rect x="331.79" y="44" width="50.02" height="1.04" fill="url(#gx)" opacity="0.247"/><rect x="331.95" y="45" width="49.7" height="1.04" fill="url(#gx)" opacity="0.256"/><rect x="332.17" y="46" width="49.25" height="1.04" fill="url(#gx)" opacity="0.267"/><rect x="332.4" y="47" width="48.81" height="1.04" fill="url(#gx)" opacity="0.279"/><rect x="332.62" y="48" width="48.36" height="1.04" fill="url(#gx)" opacity="0.290"/><rect x="332.84" y="49" width="47.91" height="1.04" fill="url(#gx)" opacity="0.301"/><rect x="333.07" y="50" width="47.47" height="1.04" fill="url(#gx)" opacity="0.313"/><rect x="333.29" y="51" width="47.02" height="1.04" fill="url(#gx)" opacity="0.324"/><rect x="333.5" y="52" width="46.61" height="1.04" fill="url(#gx)" opacity="0.334"/><rect x="333.69" y="53" width="46.22" height="1.04" fill="url(#gx)" opacity="0.343"/><rect x="333.89" y="54" width="45.83" height="1.04" fill="url(#gx)" opacity="0.352"/><rect x="334.08" y="55" width="45.44" height="1.04" fill="url(#gx)" opacity="0.361"/><rect x="334.28" y="56" width="45.05" height="1.04" fill="url(#gx)" opacity="0.369"/><rect x="334.47" y="57" width="44.66" height="1.04" fill="url(#gx)" opacity="0.378"/><rect x="334.67" y="58" width="44.27" height="1.04" fill="url(#gx)" opacity="0.387"/><rect x="334.86" y="59" width="43.88" height="1.04" fill="url(#gx)" opacity="0.396"/><rect x="335.09" y="60" width="43.42" height="1.04" fill="url(#gx)" opacity="0.408"/><rect x="335.35" y="61" width="42.9" height="1.04" fill="url(#gx)" opacity="0.425"/><rect x="335.61" y="62" width="42.38" height="1.04" fill="url(#gx)" opacity="0.442"/><rect x="335.87" y="63" width="41.86" height="1.04" fill="url(#gx)" opacity="0.458"/><rect x="336.13" y="64" width="41.34" height="1.04" fill="url(#gx)" opacity="0.475"/><rect x="336.39" y="65" width="40.82" height="1.04" fill="url(#gx)" opacity="0.492"/><rect x="336.62" y="66" width="40.37" height="1.04" fill="url(#gx)" opacity="0.515"/><rect x="336.81" y="67" width="39.98" height="1.04" fill="url(#gx)" opacity="0.545"/><rect x="337.01" y="68" width="39.59" height="1.04" fill="url(#gx)" opacity="0.575"/><rect x="337.2" y="69" width="39.2" height="1.04" fill="url(#gx)" opacity="0.605"/><rect x="337.4" y="70" width="38.8" height="1.04" fill="url(#gx)" opacity="0.636"/><rect x="337.59" y="71" width="38.41" height="1.04" fill="url(#gx)" opacity="0.669"/><rect x="337.79" y="72" width="38.03" height="1.04" fill="url(#gx)" opacity="0.701"/><rect x="337.98" y="73" width="37.64" height="1.04" fill="url(#gx)" opacity="0.734"/><rect x="338.18" y="74" width="37.24" height="1.04" fill="url(#gx)" opacity="0.762"/><rect x="338.37" y="75" width="36.86" height="1.04" fill="url(#gx)" opacity="0.787"/><rect x="338.57" y="76" width="36.47" height="1.04" fill="url(#gx)" opacity="0.812"/><rect x="338.76" y="77" width="36.08" height="1.04" fill="url(#gx)" opacity="0.838"/><rect x="338.93" y="78" width="35.75" height="1.04" fill="url(#gx)" opacity="0.858"/><rect x="339.06" y="79" width="35.49" height="1.04" fill="url(#gx)" opacity="0.875"/><rect x="339.19" y="80" width="35.23" height="1.04" fill="url(#gx)" opacity="0.892"/><rect x="339.28" y="81" width="35.04" height="1.04" fill="url(#gx)" opacity="0.906"/><rect x="339.35" y="82" width="34.91" height="1.04" fill="url(#gx)" opacity="0.917"/><rect x="339.41" y="83" width="34.78" height="1.04" fill="url(#gx)" opacity="0.929"/><rect x="339.48" y="84" width="34.65" height="1.04" fill="url(#gx)" opacity="0.941"/><rect x="339.54" y="85" width="34.52" height="1.04" fill="url(#gx)" opacity="0.953"/><rect x="339.61" y="86" width="34.39" height="1.04" fill="url(#gx)" opacity="0.964"/><rect x="339.66" y="87" width="34.27" height="1.04" fill="url(#gx)" opacity="0.971"/><rect x="339.71" y="88" width="34.17" height="1.04" fill="url(#gx)" opacity="0.974"/><rect x="339.76" y="89" width="34.08" height="1.04" fill="url(#gx)" opacity="0.976"/><rect x="339.81" y="90" width="33.98" height="1.04" fill="url(#gx)" opacity="0.979"/><rect x="339.86" y="91" width="33.88" height="1.04" fill="url(#gx)" opacity="0.981"/><rect x="339.91" y="92" width="33.78" height="1.04" fill="url(#gx)" opacity="0.984"/><rect x="339.96" y="93" width="33.69" height="1.04" fill="url(#gx)" opacity="0.986"/><rect x="340.01" y="94" width="33.59" height="1.04" fill="url(#gx)" opacity="0.989"/><rect x="340.07" y="95" width="33.46" height="1.04" fill="url(#gx)" opacity="0.986"/><rect x="340.15" y="96" width="33.31" height="1.04" fill="url(#gx)" opacity="0.978"/><rect x="340.23" y="97" width="33.15" height="1.04" fill="url(#gx)" opacity="0.970"/><rect x="340.3" y="98" width="32.99" height="1.04" fill="url(#gx)" opacity="0.962"/><rect x="340.38" y="99" width="32.84" height="1.04" fill="url(#gx)" opacity="0.954"/><rect x="340.48" y="100" width="32.65" height="1.04" fill="url(#gx)" opacity="0.939"/><rect x="340.59" y="101" width="32.43" height="1.04" fill="url(#gx)" opacity="0.916"/><rect x="340.7" y="102" width="32.2" height="1.04" fill="url(#gx)" opacity="0.893"/><rect x="340.81" y="103" width="31.98" height="1.04" fill="url(#gx)" opacity="0.870"/><rect x="340.65" y="104" width="32.29" height="1.04" fill="url(#gx)" opacity="0.782"/><rect x="340.5" y="105" width="32.6" height="1.04" fill="url(#gx)" opacity="0.694"/><rect x="340.11" y="106" width="33.38" height="1.04" fill="url(#gx)" opacity="0.604"/><rect x="339.48" y="107" width="34.63" height="1.04" fill="url(#gx)" opacity="0.512"/><rect x="338.86" y="108" width="35.88" height="1.04" fill="url(#gx)" opacity="0.420"/><rect x="337.92" y="109" width="37.75" height="1.04" fill="url(#gx)" opacity="0.360"/><rect x="336.99" y="110" width="39.62" height="1.04" fill="url(#gx)" opacity="0.300"/><rect x="336" y="111" width="41.6" height="1.04" fill="url(#gx)" opacity="0.250"/><rect x="334.96" y="112" width="43.68" height="1.04" fill="url(#gx)" opacity="0.210"/><rect x="333.92" y="113" width="45.76" height="1.04" fill="url(#gx)" opacity="0.170"/><rect x="333.07" y="114" width="47.47" height="1.04" fill="url(#gx)" opacity="0.146"/><rect x="332.4" y="115" width="48.81" height="1.04" fill="url(#gx)" opacity="0.139"/><rect x="331.73" y="116" width="50.14" height="1.04" fill="url(#gx)" opacity="0.132"/><rect x="331.06" y="117" width="51.48" height="1.04" fill="url(#gx)" opacity="0.125"/><rect x="330.39" y="118" width="52.82" height="1.04" fill="url(#gx)" opacity="0.118"/><rect x="329.72" y="119" width="54.15" height="1.04" fill="url(#gx)" opacity="0.111"/><rect x="329.05" y="120" width="55.49" height="1.04" fill="url(#gx)" opacity="0.104"/><rect x="328.55" y="121" width="56.5" height="1.04" fill="url(#gx)" opacity="0.099"/><rect x="328.21" y="122" width="57.18" height="1.04" fill="url(#gx)" opacity="0.097"/><rect x="327.87" y="123" width="57.87" height="1.04" fill="url(#gx)" opacity="0.095"/><rect x="327.53" y="124" width="58.55" height="1.04" fill="url(#gx)" opacity="0.093"/><rect x="327.18" y="125" width="59.23" height="1.04" fill="url(#gx)" opacity="0.092"/><rect x="326.84" y="126" width="59.91" height="1.04" fill="url(#gx)" opacity="0.090"/><rect x="326.5" y="127" width="60.6" height="1.04" fill="url(#gx)" opacity="0.088"/><rect x="326.16" y="128" width="61.28" height="1.04" fill="url(#gx)" opacity="0.086"/><rect x="325.82" y="129" width="61.96" height="1.04" fill="url(#gx)" opacity="0.084"/><rect x="325.48" y="130" width="62.64" height="1.04" fill="url(#gx)" opacity="0.082"/><rect x="325.14" y="131" width="63.33" height="1.04" fill="url(#gx)" opacity="0.080"/><rect x="324.8" y="132" width="64.01" height="1.04" fill="url(#gx)" opacity="0.078"/><rect x="324.45" y="133" width="64.69" height="1.04" fill="url(#gx)" opacity="0.077"/><rect x="324.11" y="134" width="65.37" height="1.04" fill="url(#gx)" opacity="0.075"/><rect x="323.77" y="135" width="66.06" height="1.04" fill="url(#gx)" opacity="0.073"/><rect x="323.43" y="136" width="66.74" height="1.04" fill="url(#gx)" opacity="0.071"/><rect x="323.09" y="137" width="67.42" height="1.04" fill="url(#gx)" opacity="0.069"/><rect x="322.75" y="138" width="68.1" height="1.04" fill="url(#gx)" opacity="0.067"/><rect x="322.41" y="139" width="68.79" height="1.04" fill="url(#gx)" opacity="0.065"/><rect x="322.07" y="140" width="69.47" height="1.04" fill="url(#gx)" opacity="0.063"/><rect x="321.72" y="141" width="70.15" height="1.04" fill="url(#gx)" opacity="0.062"/><rect x="321.38" y="142" width="70.83" height="1.04" fill="url(#gx)" opacity="0.060"/><rect x="321.04" y="143" width="71.52" height="1.04" fill="url(#gx)" opacity="0.058"/><rect x="320.7" y="144" width="72.2" height="1.04" fill="url(#gx)" opacity="0.056"/><rect x="320.36" y="145" width="72.88" height="1.04" fill="url(#gx)" opacity="0.054"/><rect x="320.02" y="146" width="73.56" height="1.04" fill="url(#gx)" opacity="0.052"/><rect x="319.68" y="147" width="74.25" height="1.04" fill="url(#gx)" opacity="0.050"/><rect x="319.34" y="148" width="74.93" height="1.04" fill="url(#gx)" opacity="0.048"/><rect x="318.99" y="149" width="75.61" height="1.04" fill="url(#gx)" opacity="0.047"/><rect x="318.65" y="150" width="76.29" height="1.04" fill="url(#gx)" opacity="0.045"/><rect x="318.31" y="151" width="76.98" height="1.04" fill="url(#gx)" opacity="0.043"/><rect x="317.97" y="152" width="77.66" height="1.04" fill="url(#gx)" opacity="0.041"/><ellipse cx="352.6" cy="116" rx="3.6" ry="9.6" fill="url(#gr)" opacity="0.220"/><ellipse cx="361" cy="116" rx="3.6" ry="9.6" fill="url(#gr)" opacity="0.220"/><ellipse cx="356.8" cy="128" rx="3.9" ry="6.9" fill="url(#gr)" opacity="0.580"/><ellipse cx="356.8" cy="138" rx="2.1" ry="2.1" fill="url(#gr)" opacity="0.250"/><ellipse cx="356.8" cy="143.4" rx="1.8" ry="1.8" fill="url(#gr)" opacity="0.200"/><ellipse cx="356.8" cy="148.2" rx="1.5" ry="1.5" fill="url(#gr)" opacity="0.140"/></g></g>
<g clip-path="url(#c6)"><g filter="url(#jet)"><rect x="390" y="34" width="67" height="122" fill="#fff" opacity="0.016"/><rect x="420.94" y="37" width="1.46" height="116" fill="#fff" opacity="0.007"/><rect x="409.92" y="37" width="2.23" height="116" fill="#fff" opacity="0.006"/><rect x="431.21" y="37" width="1.42" height="116" fill="#fff" opacity="0.012"/><rect x="434.42" y="37" width="2.2" height="116" fill="#fff" opacity="0.005"/><rect x="448.67" y="37" width="1.32" height="116" fill="#fff" opacity="0.008"/><rect x="453.33" y="37" width="1.28" height="116" fill="#fff" opacity="0.015"/><rect x="438.76" y="37" width="1.33" height="116" fill="#fff" opacity="0.006"/><rect x="424.46" y="37" width="1.59" height="116" fill="#fff" opacity="0.005"/><ellipse cx="423.4" cy="138" rx="30" ry="24" fill="url(#gr)" opacity="0.065"/><line x1="409.4" y1="37" x2="419.9" y2="95" stroke="#fff" stroke-width="2.2" opacity="0.025"/><line x1="437.4" y1="37" x2="426.9" y2="95" stroke="#fff" stroke-width="2.2" opacity="0.025"/><line x1="423.4" y1="116" x2="405.4" y2="153" stroke="#fff" stroke-width="2.16" opacity="0.042"/><line x1="423.4" y1="116" x2="441.4" y2="153" stroke="#fff" stroke-width="2.16" opacity="0.042"/><line x1="423.4" y1="120" x2="412.6" y2="153" stroke="#fff" stroke-width="2.16" opacity="0.029"/><line x1="423.4" y1="120" x2="434.2" y2="153" stroke="#fff" stroke-width="2.16" opacity="0.029"/><rect x="361.19" y="37" width="124.43" height="3.04" fill="url(#gx)" opacity="0.070"/><rect x="361.56" y="40" width="123.69" height="3.04" fill="url(#gx)" opacity="0.069"/><rect x="361.93" y="43" width="122.94" height="3.04" fill="url(#gx)" opacity="0.069"/><rect x="362.3" y="46" width="122.2" height="3.04" fill="url(#gx)" opacity="0.068"/><rect x="362.67" y="49" width="121.46" height="3.04" fill="url(#gx)" opacity="0.068"/><rect x="363.04" y="52" width="120.71" height="3.04" fill="url(#gx)" opacity="0.067"/><rect x="363.41" y="55" width="119.97" height="3.04" fill="url(#gx)" opacity="0.067"/><rect x="363.79" y="58" width="119.23" height="3.04" fill="url(#gx)" opacity="0.066"/><rect x="364.16" y="61" width="118.49" height="3.04" fill="url(#gx)" opacity="0.066"/><rect x="364.53" y="64" width="117.74" height="3.04" fill="url(#gx)" opacity="0.065"/><rect x="364.9" y="67" width="117" height="3.04" fill="url(#gx)" opacity="0.065"/><rect x="365.27" y="70" width="116.26" height="3.04" fill="url(#gx)" opacity="0.065"/><rect x="365.64" y="73" width="115.51" height="3.04" fill="url(#gx)" opacity="0.064"/><rect x="366.01" y="76" width="114.77" height="3.04" fill="url(#gx)" opacity="0.064"/><rect x="366.39" y="79" width="114.03" height="3.04" fill="url(#gx)" opacity="0.063"/><rect x="366.76" y="82" width="113.29" height="3.04" fill="url(#gx)" opacity="0.063"/><rect x="367.13" y="85" width="112.54" height="3.04" fill="url(#gx)" opacity="0.062"/><rect x="367.5" y="88" width="111.8" height="3.04" fill="url(#gx)" opacity="0.062"/><rect x="367.87" y="91" width="111.06" height="3.04" fill="url(#gx)" opacity="0.061"/><rect x="368.24" y="94" width="110.31" height="3.04" fill="url(#gx)" opacity="0.061"/><rect x="368.61" y="97" width="109.57" height="3.04" fill="url(#gx)" opacity="0.060"/><rect x="369.02" y="100" width="108.76" height="3.04" fill="url(#gx)" opacity="0.059"/><rect x="369.46" y="103" width="107.88" height="3.04" fill="url(#gx)" opacity="0.057"/><rect x="369.9" y="106" width="106.99" height="3.04" fill="url(#gx)" opacity="0.054"/><rect x="370.35" y="109" width="106.11" height="3.04" fill="url(#gx)" opacity="0.052"/><rect x="370.79" y="112" width="105.23" height="3.04" fill="url(#gx)" opacity="0.050"/><rect x="371.23" y="115" width="104.34" height="3.04" fill="url(#gx)" opacity="0.048"/><rect x="371.67" y="118" width="103.46" height="3.04" fill="url(#gx)" opacity="0.045"/><rect x="372.11" y="121" width="102.58" height="3.04" fill="url(#gx)" opacity="0.043"/><rect x="372.55" y="124" width="101.69" height="3.04" fill="url(#gx)" opacity="0.041"/><rect x="372.99" y="127" width="100.81" height="3.04" fill="url(#gx)" opacity="0.038"/><rect x="373.44" y="130" width="99.93" height="3.04" fill="url(#gx)" opacity="0.036"/><rect x="373.88" y="133" width="99.05" height="3.04" fill="url(#gx)" opacity="0.034"/><rect x="374.32" y="136" width="98.16" height="3.04" fill="url(#gx)" opacity="0.032"/><rect x="374.76" y="139" width="97.28" height="3.04" fill="url(#gx)" opacity="0.029"/><rect x="375.2" y="142" width="96.4" height="3.04" fill="url(#gx)" opacity="0.027"/><rect x="375.64" y="145" width="95.51" height="3.04" fill="url(#gx)" opacity="0.025"/><rect x="376.08" y="148" width="94.63" height="3.04" fill="url(#gx)" opacity="0.023"/><rect x="376.45" y="151" width="93.89" height="2.04" fill="url(#gx)" opacity="0.021"/><rect x="397.71" y="37" width="51.38" height="1.04" fill="url(#gx)" opacity="0.383"/><rect x="397.81" y="38" width="51.19" height="1.04" fill="url(#gx)" opacity="0.389"/><rect x="397.9" y="39" width="50.99" height="1.04" fill="url(#gx)" opacity="0.396"/><rect x="398" y="40" width="50.8" height="1.04" fill="url(#gx)" opacity="0.402"/><rect x="398.1" y="41" width="50.6" height="1.04" fill="url(#gx)" opacity="0.408"/><rect x="398.2" y="42" width="50.41" height="1.04" fill="url(#gx)" opacity="0.414"/><rect x="398.29" y="43" width="50.21" height="1.04" fill="url(#gx)" opacity="0.421"/><rect x="398.39" y="44" width="50.02" height="1.04" fill="url(#gx)" opacity="0.427"/><rect x="398.52" y="45" width="49.76" height="1.04" fill="url(#gx)" opacity="0.435"/><rect x="398.67" y="46" width="49.45" height="1.04" fill="url(#gx)" opacity="0.445"/><rect x="398.83" y="47" width="49.14" height="1.04" fill="url(#gx)" opacity="0.455"/><rect x="398.99" y="48" width="48.83" height="1.04" fill="url(#gx)" opacity="0.465"/><rect x="399.14" y="49" width="48.52" height="1.04" fill="url(#gx)" opacity="0.475"/><rect x="399.28" y="50" width="48.24" height="1.04" fill="url(#gx)" opacity="0.489"/><rect x="399.4" y="51" width="48" height="1.04" fill="url(#gx)" opacity="0.508"/><rect x="399.52" y="52" width="47.76" height="1.04" fill="url(#gx)" opacity="0.526"/><rect x="399.64" y="53" width="47.52" height="1.04" fill="url(#gx)" opacity="0.545"/><rect x="399.76" y="54" width="47.28" height="1.04" fill="url(#gx)" opacity="0.563"/><rect x="399.88" y="55" width="47.04" height="1.04" fill="url(#gx)" opacity="0.582"/><rect x="400" y="56" width="46.8" height="1.04" fill="url(#gx)" opacity="0.600"/><rect x="400.13" y="57" width="46.54" height="1.04" fill="url(#gx)" opacity="0.613"/><rect x="400.26" y="58" width="46.28" height="1.04" fill="url(#gx)" opacity="0.627"/><rect x="400.39" y="59" width="46.02" height="1.04" fill="url(#gx)" opacity="0.640"/><rect x="400.52" y="60" width="45.76" height="1.04" fill="url(#gx)" opacity="0.653"/><rect x="400.65" y="61" width="45.5" height="1.04" fill="url(#gx)" opacity="0.667"/><rect x="400.78" y="62" width="45.24" height="1.04" fill="url(#gx)" opacity="0.680"/><rect x="400.89" y="63" width="45.02" height="1.04" fill="url(#gx)" opacity="0.700"/><rect x="401" y="64" width="44.79" height="1.04" fill="url(#gx)" opacity="0.720"/><rect x="401.11" y="65" width="44.57" height="1.04" fill="url(#gx)" opacity="0.740"/><rect x="401.22" y="66" width="44.36" height="1.04" fill="url(#gx)" opacity="0.761"/><rect x="401.32" y="67" width="44.17" height="1.04" fill="url(#gx)" opacity="0.784"/><rect x="401.41" y="68" width="43.97" height="1.04" fill="url(#gx)" opacity="0.806"/><rect x="401.51" y="69" width="43.78" height="1.04" fill="url(#gx)" opacity="0.829"/><rect x="401.61" y="70" width="43.58" height="1.04" fill="url(#gx)" opacity="0.847"/><rect x="401.71" y="71" width="43.39" height="1.04" fill="url(#gx)" opacity="0.863"/><rect x="401.8" y="72" width="43.19" height="1.04" fill="url(#gx)" opacity="0.877"/><rect x="401.9" y="73" width="43" height="1.04" fill="url(#gx)" opacity="0.893"/><rect x="401.98" y="74" width="42.84" height="1.04" fill="url(#gx)" opacity="0.905"/><rect x="402.03" y="75" width="42.73" height="1.04" fill="url(#gx)" opacity="0.915"/><rect x="402.09" y="76" width="42.62" height="1.04" fill="url(#gx)" opacity="0.925"/><rect x="402.14" y="77" width="42.51" height="1.04" fill="url(#gx)" opacity="0.935"/><rect x="402.2" y="78" width="42.4" height="1.04" fill="url(#gx)" opacity="0.945"/><rect x="402.26" y="79" width="42.29" height="1.04" fill="url(#gx)" opacity="0.955"/><rect x="402.31" y="80" width="42.18" height="1.04" fill="url(#gx)" opacity="0.965"/><rect x="402.36" y="81" width="42.08" height="1.04" fill="url(#gx)" opacity="0.971"/><rect x="402.39" y="82" width="42.01" height="1.04" fill="url(#gx)" opacity="0.973"/><rect x="402.43" y="83" width="41.94" height="1.04" fill="url(#gx)" opacity="0.975"/><rect x="402.46" y="84" width="41.87" height="1.04" fill="url(#gx)" opacity="0.976"/><rect x="402.5" y="85" width="41.8" height="1.04" fill="url(#gx)" opacity="0.978"/><rect x="402.53" y="86" width="41.73" height="1.04" fill="url(#gx)" opacity="0.980"/><rect x="402.57" y="87" width="41.66" height="1.04" fill="url(#gx)" opacity="0.982"/><rect x="402.61" y="88" width="41.59" height="1.04" fill="url(#gx)" opacity="0.984"/><rect x="402.64" y="89" width="41.52" height="1.04" fill="url(#gx)" opacity="0.985"/><rect x="402.68" y="90" width="41.45" height="1.04" fill="url(#gx)" opacity="0.987"/><rect x="402.71" y="91" width="41.38" height="1.04" fill="url(#gx)" opacity="0.989"/><rect x="402.76" y="92" width="41.27" height="1.04" fill="url(#gx)" opacity="0.986"/><rect x="402.83" y="93" width="41.15" height="1.04" fill="url(#gx)" opacity="0.978"/><rect x="402.89" y="94" width="41.02" height="1.04" fill="url(#gx)" opacity="0.969"/><rect x="402.96" y="95" width="40.89" height="1.04" fill="url(#gx)" opacity="0.961"/><rect x="403.02" y="96" width="40.76" height="1.04" fill="url(#gx)" opacity="0.952"/><rect x="403.09" y="97" width="40.63" height="1.04" fill="url(#gx)" opacity="0.944"/><rect x="403.12" y="98" width="40.56" height="1.04" fill="url(#gx)" opacity="0.927"/><rect x="403.12" y="99" width="40.56" height="1.04" fill="url(#gx)" opacity="0.900"/><rect x="403.12" y="100" width="40.56" height="1.04" fill="url(#gx)" opacity="0.873"/><rect x="402.96" y="101" width="40.87" height="1.04" fill="url(#gx)" opacity="0.828"/><rect x="402.65" y="102" width="41.5" height="1.04" fill="url(#gx)" opacity="0.764"/><rect x="402.34" y="103" width="42.12" height="1.04" fill="url(#gx)" opacity="0.700"/><rect x="402.03" y="104" width="42.74" height="1.04" fill="url(#gx)" opacity="0.620"/><rect x="401.72" y="105" width="43.37" height="1.04" fill="url(#gx)" opacity="0.540"/><rect x="401.25" y="106" width="44.3" height="1.04" fill="url(#gx)" opacity="0.470"/><rect x="400.62" y="107" width="45.55" height="1.04" fill="url(#gx)" opacity="0.410"/><rect x="400" y="108" width="46.8" height="1.04" fill="url(#gx)" opacity="0.350"/><rect x="399.06" y="109" width="48.67" height="1.04" fill="url(#gx)" opacity="0.298"/><rect x="398.13" y="110" width="50.54" height="1.04" fill="url(#gx)" opacity="0.246"/><rect x="397.27" y="111" width="52.26" height="1.04" fill="url(#gx)" opacity="0.207"/><rect x="396.49" y="112" width="53.82" height="1.04" fill="url(#gx)" opacity="0.182"/><rect x="395.71" y="113" width="55.38" height="1.04" fill="url(#gx)" opacity="0.158"/><rect x="394.93" y="114" width="56.94" height="1.04" fill="url(#gx)" opacity="0.133"/><rect x="394.41" y="115" width="57.99" height="1.04" fill="url(#gx)" opacity="0.119"/><rect x="394.14" y="116" width="58.52" height="1.04" fill="url(#gx)" opacity="0.117"/><rect x="393.87" y="117" width="59.05" height="1.04" fill="url(#gx)" opacity="0.115"/><rect x="393.61" y="118" width="59.59" height="1.04" fill="url(#gx)" opacity="0.113"/><rect x="393.34" y="119" width="60.12" height="1.04" fill="url(#gx)" opacity="0.111"/><rect x="393.07" y="120" width="60.66" height="1.04" fill="url(#gx)" opacity="0.108"/><rect x="392.81" y="121" width="61.19" height="1.04" fill="url(#gx)" opacity="0.106"/><rect x="392.54" y="122" width="61.72" height="1.04" fill="url(#gx)" opacity="0.104"/><rect x="392.27" y="123" width="62.26" height="1.04" fill="url(#gx)" opacity="0.102"/><rect x="392" y="124" width="62.79" height="1.04" fill="url(#gx)" opacity="0.100"/><rect x="391.74" y="125" width="63.32" height="1.04" fill="url(#gx)" opacity="0.098"/><rect x="391.47" y="126" width="63.86" height="1.04" fill="url(#gx)" opacity="0.096"/><rect x="391.2" y="127" width="64.39" height="1.04" fill="url(#gx)" opacity="0.094"/><rect x="390.94" y="128" width="64.92" height="1.04" fill="url(#gx)" opacity="0.092"/><rect x="390.67" y="129" width="65.46" height="1.04" fill="url(#gx)" opacity="0.089"/><rect x="390.4" y="130" width="65.99" height="1.04" fill="url(#gx)" opacity="0.087"/><rect x="390.14" y="131" width="66.53" height="1.04" fill="url(#gx)" opacity="0.085"/><rect x="389.87" y="132" width="67.06" height="1.04" fill="url(#gx)" opacity="0.083"/><rect x="389.6" y="133" width="67.59" height="1.04" fill="url(#gx)" opacity="0.081"/><rect x="389.34" y="134" width="68.13" height="1.04" fill="url(#gx)" opacity="0.079"/><rect x="389.07" y="135" width="68.66" height="1.04" fill="url(#gx)" opacity="0.077"/><rect x="388.8" y="136" width="69.19" height="1.04" fill="url(#gx)" opacity="0.075"/><rect x="388.54" y="137" width="69.73" height="1.04" fill="url(#gx)" opacity="0.073"/><rect x="388.27" y="138" width="70.26" height="1.04" fill="url(#gx)" opacity="0.071"/><rect x="388" y="139" width="70.8" height="1.04" fill="url(#gx)" opacity="0.068"/><rect x="387.74" y="140" width="71.33" height="1.04" fill="url(#gx)" opacity="0.066"/><rect x="387.47" y="141" width="71.86" height="1.04" fill="url(#gx)" opacity="0.064"/><rect x="387.2" y="142" width="72.4" height="1.04" fill="url(#gx)" opacity="0.062"/><rect x="386.93" y="143" width="72.93" height="1.04" fill="url(#gx)" opacity="0.060"/><rect x="386.67" y="144" width="73.46" height="1.04" fill="url(#gx)" opacity="0.058"/><rect x="386.4" y="145" width="74" height="1.04" fill="url(#gx)" opacity="0.056"/><rect x="386.13" y="146" width="74.53" height="1.04" fill="url(#gx)" opacity="0.054"/><rect x="385.87" y="147" width="75.06" height="1.04" fill="url(#gx)" opacity="0.052"/><rect x="385.6" y="148" width="75.6" height="1.04" fill="url(#gx)" opacity="0.049"/><rect x="385.33" y="149" width="76.13" height="1.04" fill="url(#gx)" opacity="0.047"/><rect x="385.07" y="150" width="76.67" height="1.04" fill="url(#gx)" opacity="0.045"/><rect x="384.8" y="151" width="77.2" height="1.04" fill="url(#gx)" opacity="0.043"/><rect x="384.53" y="152" width="77.73" height="1.04" fill="url(#gx)" opacity="0.041"/><ellipse cx="418.4" cy="116" rx="3.6" ry="10.5" fill="url(#gr)" opacity="0.200"/><ellipse cx="428.4" cy="116" rx="3.6" ry="10.5" fill="url(#gr)" opacity="0.200"/><ellipse cx="423.4" cy="128" rx="3.9" ry="7.2" fill="url(#gr)" opacity="0.460"/><ellipse cx="423.4" cy="143.4" rx="2.4" ry="2.4" fill="url(#gr)" opacity="0.300"/></g></g>
<g clip-path="url(#c7)"><g filter="url(#jet)"><rect x="455" y="34" width="67" height="122" fill="#fff" opacity="0.016"/><rect x="480.85" y="37" width="2.43" height="116" fill="#fff" opacity="0.012"/><rect x="494.52" y="37" width="1.23" height="116" fill="#fff" opacity="0.006"/><rect x="461.54" y="37" width="2.3" height="116" fill="#fff" opacity="0.011"/><rect x="501.19" y="37" width="1.03" height="116" fill="#fff" opacity="0.015"/><rect x="508.78" y="37" width="1.32" height="116" fill="#fff" opacity="0.006"/><rect x="469.19" y="37" width="1.46" height="116" fill="#fff" opacity="0.010"/><rect x="484.35" y="37" width="1.44" height="116" fill="#fff" opacity="0.011"/><rect x="466.51" y="37" width="1.44" height="116" fill="#fff" opacity="0.008"/><ellipse cx="488.4" cy="138" rx="30" ry="24" fill="url(#gr)" opacity="0.065"/><line x1="473.8" y1="37" x2="484.9" y2="95" stroke="#fff" stroke-width="2.2" opacity="0.025"/><line x1="503" y1="37" x2="491.9" y2="95" stroke="#fff" stroke-width="2.2" opacity="0.025"/><line x1="488.4" y1="116" x2="470.4" y2="153" stroke="#fff" stroke-width="2.16" opacity="0.042"/><line x1="488.4" y1="116" x2="506.4" y2="153" stroke="#fff" stroke-width="2.16" opacity="0.042"/><line x1="488.4" y1="120" x2="477.6" y2="153" stroke="#fff" stroke-width="2.16" opacity="0.029"/><line x1="488.4" y1="120" x2="499.2" y2="153" stroke="#fff" stroke-width="2.16" opacity="0.029"/><rect x="426.19" y="37" width="124.43" height="3.04" fill="url(#gx)" opacity="0.080"/><rect x="426.56" y="40" width="123.69" height="3.04" fill="url(#gx)" opacity="0.079"/><rect x="426.93" y="43" width="122.94" height="3.04" fill="url(#gx)" opacity="0.079"/><rect x="427.3" y="46" width="122.2" height="3.04" fill="url(#gx)" opacity="0.078"/><rect x="427.67" y="49" width="121.46" height="3.04" fill="url(#gx)" opacity="0.078"/><rect x="428.04" y="52" width="120.71" height="3.04" fill="url(#gx)" opacity="0.077"/><rect x="428.41" y="55" width="119.97" height="3.04" fill="url(#gx)" opacity="0.077"/><rect x="428.79" y="58" width="119.23" height="3.04" fill="url(#gx)" opacity="0.076"/><rect x="429.16" y="61" width="118.49" height="3.04" fill="url(#gx)" opacity="0.076"/><rect x="429.53" y="64" width="117.74" height="3.04" fill="url(#gx)" opacity="0.075"/><rect x="429.9" y="67" width="117" height="3.04" fill="url(#gx)" opacity="0.075"/><rect x="430.27" y="70" width="116.26" height="3.04" fill="url(#gx)" opacity="0.075"/><rect x="430.64" y="73" width="115.51" height="3.04" fill="url(#gx)" opacity="0.074"/><rect x="431.01" y="76" width="114.77" height="3.04" fill="url(#gx)" opacity="0.074"/><rect x="431.39" y="79" width="114.03" height="3.04" fill="url(#gx)" opacity="0.073"/><rect x="431.76" y="82" width="113.29" height="3.04" fill="url(#gx)" opacity="0.073"/><rect x="432.13" y="85" width="112.54" height="3.04" fill="url(#gx)" opacity="0.072"/><rect x="432.5" y="88" width="111.8" height="3.04" fill="url(#gx)" opacity="0.072"/><rect x="432.87" y="91" width="111.06" height="3.04" fill="url(#gx)" opacity="0.071"/><rect x="433.24" y="94" width="110.31" height="3.04" fill="url(#gx)" opacity="0.071"/><rect x="433.61" y="97" width="109.57" height="3.04" fill="url(#gx)" opacity="0.070"/><rect x="434.02" y="100" width="108.76" height="3.04" fill="url(#gx)" opacity="0.069"/><rect x="434.46" y="103" width="107.88" height="3.04" fill="url(#gx)" opacity="0.066"/><rect x="434.9" y="106" width="106.99" height="3.04" fill="url(#gx)" opacity="0.063"/><rect x="435.35" y="109" width="106.11" height="3.04" fill="url(#gx)" opacity="0.060"/><rect x="435.79" y="112" width="105.23" height="3.04" fill="url(#gx)" opacity="0.057"/><rect x="436.23" y="115" width="104.34" height="3.04" fill="url(#gx)" opacity="0.054"/><rect x="436.67" y="118" width="103.46" height="3.04" fill="url(#gx)" opacity="0.052"/><rect x="437.11" y="121" width="102.58" height="3.04" fill="url(#gx)" opacity="0.049"/><rect x="437.55" y="124" width="101.69" height="3.04" fill="url(#gx)" opacity="0.046"/><rect x="437.99" y="127" width="100.81" height="3.04" fill="url(#gx)" opacity="0.043"/><rect x="438.44" y="130" width="99.93" height="3.04" fill="url(#gx)" opacity="0.040"/><rect x="438.88" y="133" width="99.05" height="3.04" fill="url(#gx)" opacity="0.037"/><rect x="439.32" y="136" width="98.16" height="3.04" fill="url(#gx)" opacity="0.035"/><rect x="439.76" y="139" width="97.28" height="3.04" fill="url(#gx)" opacity="0.032"/><rect x="440.2" y="142" width="96.4" height="3.04" fill="url(#gx)" opacity="0.029"/><rect x="440.64" y="145" width="95.51" height="3.04" fill="url(#gx)" opacity="0.026"/><rect x="441.08" y="148" width="94.63" height="3.04" fill="url(#gx)" opacity="0.023"/><rect x="441.45" y="151" width="93.89" height="2.04" fill="url(#gx)" opacity="0.021"/><rect x="460.37" y="37" width="56.06" height="1.04" fill="url(#gx)" opacity="0.403"/><rect x="460.47" y="38" width="55.87" height="1.04" fill="url(#gx)" opacity="0.409"/><rect x="460.56" y="39" width="55.67" height="1.04" fill="url(#gx)" opacity="0.416"/><rect x="460.66" y="40" width="55.48" height="1.04" fill="url(#gx)" opacity="0.422"/><rect x="460.76" y="41" width="55.28" height="1.04" fill="url(#gx)" opacity="0.428"/><rect x="460.86" y="42" width="55.09" height="1.04" fill="url(#gx)" opacity="0.434"/><rect x="460.95" y="43" width="54.89" height="1.04" fill="url(#gx)" opacity="0.441"/><rect x="461.05" y="44" width="54.7" height="1.04" fill="url(#gx)" opacity="0.447"/><rect x="461.18" y="45" width="54.44" height="1.04" fill="url(#gx)" opacity="0.455"/><rect x="461.33" y="46" width="54.13" height="1.04" fill="url(#gx)" opacity="0.465"/><rect x="461.49" y="47" width="53.82" height="1.04" fill="url(#gx)" opacity="0.475"/><rect x="461.65" y="48" width="53.51" height="1.04" fill="url(#gx)" opacity="0.485"/><rect x="461.8" y="49" width="53.2" height="1.04" fill="url(#gx)" opacity="0.495"/><rect x="461.94" y="50" width="52.92" height="1.04" fill="url(#gx)" opacity="0.508"/><rect x="462.06" y="51" width="52.68" height="1.04" fill="url(#gx)" opacity="0.523"/><rect x="462.18" y="52" width="52.44" height="1.04" fill="url(#gx)" opacity="0.538"/><rect x="462.3" y="53" width="52.2" height="1.04" fill="url(#gx)" opacity="0.554"/><rect x="462.42" y="54" width="51.96" height="1.04" fill="url(#gx)" opacity="0.569"/><rect x="462.54" y="55" width="51.72" height="1.04" fill="url(#gx)" opacity="0.585"/><rect x="462.66" y="56" width="51.48" height="1.04" fill="url(#gx)" opacity="0.600"/><rect x="462.83" y="57" width="51.13" height="1.04" fill="url(#gx)" opacity="0.613"/><rect x="463.01" y="58" width="50.79" height="1.04" fill="url(#gx)" opacity="0.627"/><rect x="463.18" y="59" width="50.44" height="1.04" fill="url(#gx)" opacity="0.640"/><rect x="463.35" y="60" width="50.09" height="1.04" fill="url(#gx)" opacity="0.653"/><rect x="463.54" y="61" width="49.73" height="1.04" fill="url(#gx)" opacity="0.671"/><rect x="463.73" y="62" width="49.34" height="1.04" fill="url(#gx)" opacity="0.694"/><rect x="463.93" y="63" width="48.95" height="1.04" fill="url(#gx)" opacity="0.716"/><rect x="464.12" y="64" width="48.56" height="1.04" fill="url(#gx)" opacity="0.739"/><rect x="464.28" y="65" width="48.25" height="1.04" fill="url(#gx)" opacity="0.763"/><rect x="464.39" y="66" width="48.03" height="1.04" fill="url(#gx)" opacity="0.789"/><rect x="464.5" y="67" width="47.8" height="1.04" fill="url(#gx)" opacity="0.814"/><rect x="464.61" y="68" width="47.58" height="1.04" fill="url(#gx)" opacity="0.840"/><rect x="464.7" y="69" width="47.41" height="1.04" fill="url(#gx)" opacity="0.853"/><rect x="464.78" y="70" width="47.23" height="1.04" fill="url(#gx)" opacity="0.867"/><rect x="464.87" y="71" width="47.06" height="1.04" fill="url(#gx)" opacity="0.880"/><rect x="464.96" y="72" width="46.89" height="1.04" fill="url(#gx)" opacity="0.893"/><rect x="465.03" y="73" width="46.74" height="1.04" fill="url(#gx)" opacity="0.905"/><rect x="465.08" y="74" width="46.63" height="1.04" fill="url(#gx)" opacity="0.915"/><rect x="465.14" y="75" width="46.52" height="1.04" fill="url(#gx)" opacity="0.925"/><rect x="465.19" y="76" width="46.41" height="1.04" fill="url(#gx)" opacity="0.935"/><rect x="465.25" y="77" width="46.3" height="1.04" fill="url(#gx)" opacity="0.945"/><rect x="465.31" y="78" width="46.19" height="1.04" fill="url(#gx)" opacity="0.955"/><rect x="465.36" y="79" width="46.08" height="1.04" fill="url(#gx)" opacity="0.965"/><rect x="465.41" y="80" width="45.99" height="1.04" fill="url(#gx)" opacity="0.971"/><rect x="465.44" y="81" width="45.92" height="1.04" fill="url(#gx)" opacity="0.972"/><rect x="465.47" y="82" width="45.86" height="1.04" fill="url(#gx)" opacity="0.974"/><rect x="465.5" y="83" width="45.79" height="1.04" fill="url(#gx)" opacity="0.976"/><rect x="465.54" y="84" width="45.73" height="1.04" fill="url(#gx)" opacity="0.978"/><rect x="465.57" y="85" width="45.66" height="1.04" fill="url(#gx)" opacity="0.979"/><rect x="465.6" y="86" width="45.6" height="1.04" fill="url(#gx)" opacity="0.981"/><rect x="465.63" y="87" width="45.53" height="1.04" fill="url(#gx)" opacity="0.982"/><rect x="465.67" y="88" width="45.47" height="1.04" fill="url(#gx)" opacity="0.984"/><rect x="465.7" y="89" width="45.4" height="1.04" fill="url(#gx)" opacity="0.986"/><rect x="465.73" y="90" width="45.34" height="1.04" fill="url(#gx)" opacity="0.988"/><rect x="465.76" y="91" width="45.27" height="1.04" fill="url(#gx)" opacity="0.989"/><rect x="465.82" y="92" width="45.16" height="1.04" fill="url(#gx)" opacity="0.986"/><rect x="465.9" y="93" width="45.01" height="1.04" fill="url(#gx)" opacity="0.978"/><rect x="465.97" y="94" width="44.85" height="1.04" fill="url(#gx)" opacity="0.970"/><rect x="466.05" y="95" width="44.69" height="1.04" fill="url(#gx)" opacity="0.962"/><rect x="466.13" y="96" width="44.54" height="1.04" fill="url(#gx)" opacity="0.954"/><rect x="466.17" y="97" width="44.46" height="1.04" fill="url(#gx)" opacity="0.940"/><rect x="466.17" y="98" width="44.46" height="1.04" fill="url(#gx)" opacity="0.920"/><rect x="466.17" y="99" width="44.46" height="1.04" fill="url(#gx)" opacity="0.900"/><rect x="466.17" y="100" width="44.46" height="1.04" fill="url(#gx)" opacity="0.880"/><rect x="466.09" y="101" width="44.62" height="1.04" fill="url(#gx)" opacity="0.840"/><rect x="465.94" y="102" width="44.93" height="1.04" fill="url(#gx)" opacity="0.780"/><rect x="465.78" y="103" width="45.24" height="1.04" fill="url(#gx)" opacity="0.720"/><rect x="465.47" y="104" width="45.86" height="1.04" fill="url(#gx)" opacity="0.640"/><rect x="465.16" y="105" width="46.49" height="1.04" fill="url(#gx)" opacity="0.560"/><rect x="464.69" y="106" width="47.42" height="1.04" fill="url(#gx)" opacity="0.490"/><rect x="464.06" y="107" width="48.67" height="1.04" fill="url(#gx)" opacity="0.430"/><rect x="463.44" y="108" width="49.92" height="1.04" fill="url(#gx)" opacity="0.370"/><rect x="462.5" y="109" width="51.79" height="1.04" fill="url(#gx)" opacity="0.322"/><rect x="461.57" y="110" width="53.66" height="1.04" fill="url(#gx)" opacity="0.274"/><rect x="460.58" y="111" width="55.64" height="1.04" fill="url(#gx)" opacity="0.232"/><rect x="459.54" y="112" width="57.72" height="1.04" fill="url(#gx)" opacity="0.195"/><rect x="458.5" y="113" width="59.8" height="1.04" fill="url(#gx)" opacity="0.158"/><rect x="457.87" y="114" width="61.06" height="1.04" fill="url(#gx)" opacity="0.139"/><rect x="457.65" y="115" width="61.5" height="1.04" fill="url(#gx)" opacity="0.136"/><rect x="457.43" y="116" width="61.94" height="1.04" fill="url(#gx)" opacity="0.134"/><rect x="457.21" y="117" width="62.38" height="1.04" fill="url(#gx)" opacity="0.131"/><rect x="456.99" y="118" width="62.82" height="1.04" fill="url(#gx)" opacity="0.128"/><rect x="456.77" y="119" width="63.26" height="1.04" fill="url(#gx)" opacity="0.126"/><rect x="456.55" y="120" width="63.7" height="1.04" fill="url(#gx)" opacity="0.123"/><rect x="456.33" y="121" width="64.14" height="1.04" fill="url(#gx)" opacity="0.121"/><rect x="456.11" y="122" width="64.58" height="1.04" fill="url(#gx)" opacity="0.118"/><rect x="455.89" y="123" width="65.02" height="1.04" fill="url(#gx)" opacity="0.116"/><rect x="455.67" y="124" width="65.46" height="1.04" fill="url(#gx)" opacity="0.113"/><rect x="455.45" y="125" width="65.9" height="1.04" fill="url(#gx)" opacity="0.111"/><rect x="455.23" y="126" width="66.34" height="1.04" fill="url(#gx)" opacity="0.108"/><rect x="455.01" y="127" width="66.78" height="1.04" fill="url(#gx)" opacity="0.105"/><rect x="454.79" y="128" width="67.22" height="1.04" fill="url(#gx)" opacity="0.103"/><rect x="454.57" y="129" width="67.66" height="1.04" fill="url(#gx)" opacity="0.100"/><rect x="454.35" y="130" width="68.1" height="1.04" fill="url(#gx)" opacity="0.098"/><rect x="454.13" y="131" width="68.54" height="1.04" fill="url(#gx)" opacity="0.095"/><rect x="453.91" y="132" width="68.98" height="1.04" fill="url(#gx)" opacity="0.093"/><rect x="453.69" y="133" width="69.42" height="1.04" fill="url(#gx)" opacity="0.090"/><rect x="453.47" y="134" width="69.86" height="1.04" fill="url(#gx)" opacity="0.087"/><rect x="453.25" y="135" width="70.3" height="1.04" fill="url(#gx)" opacity="0.085"/><rect x="453.03" y="136" width="70.74" height="1.04" fill="url(#gx)" opacity="0.082"/><rect x="452.81" y="137" width="71.18" height="1.04" fill="url(#gx)" opacity="0.080"/><rect x="452.59" y="138" width="71.62" height="1.04" fill="url(#gx)" opacity="0.077"/><rect x="452.37" y="139" width="72.06" height="1.04" fill="url(#gx)" opacity="0.075"/><rect x="452.15" y="140" width="72.5" height="1.04" fill="url(#gx)" opacity="0.072"/><rect x="451.93" y="141" width="72.94" height="1.04" fill="url(#gx)" opacity="0.069"/><rect x="451.71" y="142" width="73.38" height="1.04" fill="url(#gx)" opacity="0.067"/><rect x="451.49" y="143" width="73.82" height="1.04" fill="url(#gx)" opacity="0.064"/><rect x="451.27" y="144" width="74.26" height="1.04" fill="url(#gx)" opacity="0.062"/><rect x="451.05" y="145" width="74.7" height="1.04" fill="url(#gx)" opacity="0.059"/><rect x="450.83" y="146" width="75.14" height="1.04" fill="url(#gx)" opacity="0.057"/><rect x="450.61" y="147" width="75.58" height="1.04" fill="url(#gx)" opacity="0.054"/><rect x="450.39" y="148" width="76.02" height="1.04" fill="url(#gx)" opacity="0.052"/><rect x="450.17" y="149" width="76.46" height="1.04" fill="url(#gx)" opacity="0.049"/><rect x="449.95" y="150" width="76.9" height="1.04" fill="url(#gx)" opacity="0.046"/><rect x="449.73" y="151" width="77.34" height="1.04" fill="url(#gx)" opacity="0.044"/><rect x="449.51" y="152" width="77.78" height="1.04" fill="url(#gx)" opacity="0.041"/><ellipse cx="482.9" cy="116" rx="3.9" ry="11.4" fill="url(#gr)" opacity="0.270"/><ellipse cx="493.9" cy="116" rx="3.9" ry="11.4" fill="url(#gr)" opacity="0.270"/><ellipse cx="488.4" cy="128.3" rx="4.2" ry="7.2" fill="url(#gr)" opacity="0.880"/><ellipse cx="488.4" cy="144.6" rx="2.1" ry="2.1" fill="url(#gr)" opacity="0.300"/><ellipse cx="488.4" cy="148.2" rx="1.5" ry="1.5" fill="url(#gr)" opacity="0.150"/></g></g>
<g clip-path="url(#c8)"><g filter="url(#jet)"><rect x="57" y="271" width="67.2" height="121" fill="#fff" opacity="0.016"/><rect x="93.26" y="274" width="1.42" height="115" fill="#fff" opacity="0.009"/><rect x="111.7" y="274" width="1.01" height="115" fill="#fff" opacity="0.006"/><rect x="101.05" y="274" width="2.24" height="115" fill="#fff" opacity="0.006"/><rect x="95.2" y="274" width="2.34" height="115" fill="#fff" opacity="0.007"/><rect x="71.34" y="274" width="1.16" height="115" fill="#fff" opacity="0.007"/><rect x="119.89" y="274" width="2.22" height="115" fill="#fff" opacity="0.006"/><rect x="109.95" y="274" width="1.41" height="115" fill="#fff" opacity="0.009"/><rect x="117.53" y="274" width="2.23" height="115" fill="#fff" opacity="0.008"/><ellipse cx="90.8" cy="374" rx="24" ry="18" fill="url(#gr)" opacity="0.035"/><line x1="90.8" y1="362" x2="70.8" y2="389" stroke="#fff" stroke-width="2.6" opacity="0.110"/><line x1="90.8" y1="362" x2="110.8" y2="389" stroke="#fff" stroke-width="2.6" opacity="0.110"/><line x1="90.8" y1="366" x2="79.8" y2="389" stroke="#fff" stroke-width="2.2" opacity="0.050"/><line x1="90.8" y1="366" x2="101.8" y2="389" stroke="#fff" stroke-width="2.2" opacity="0.050"/><rect x="51.86" y="274" width="77.88" height="1.04" fill="url(#gx)" opacity="0.160"/><rect x="51.98" y="275" width="77.64" height="1.04" fill="url(#gx)" opacity="0.161"/><rect x="52.1" y="276" width="77.4" height="1.04" fill="url(#gx)" opacity="0.162"/><rect x="52.22" y="277" width="77.16" height="1.04" fill="url(#gx)" opacity="0.163"/><rect x="52.34" y="278" width="76.92" height="1.04" fill="url(#gx)" opacity="0.163"/><rect x="52.46" y="279" width="76.68" height="1.04" fill="url(#gx)" opacity="0.164"/><rect x="52.58" y="280" width="76.44" height="1.04" fill="url(#gx)" opacity="0.165"/><rect x="52.7" y="281" width="76.2" height="1.04" fill="url(#gx)" opacity="0.166"/><rect x="52.82" y="282" width="75.96" height="1.04" fill="url(#gx)" opacity="0.167"/><rect x="52.94" y="283" width="75.72" height="1.04" fill="url(#gx)" opacity="0.167"/><rect x="53.06" y="284" width="75.48" height="1.04" fill="url(#gx)" opacity="0.168"/><rect x="53.18" y="285" width="75.24" height="1.04" fill="url(#gx)" opacity="0.169"/><rect x="53.3" y="286" width="75" height="1.04" fill="url(#gx)" opacity="0.170"/><rect x="53.42" y="287" width="74.76" height="1.04" fill="url(#gx)" opacity="0.170"/><rect x="53.54" y="288" width="74.52" height="1.04" fill="url(#gx)" opacity="0.171"/><rect x="53.66" y="289" width="74.28" height="1.04" fill="url(#gx)" opacity="0.172"/><rect x="53.78" y="290" width="74.04" height="1.04" fill="url(#gx)" opacity="0.173"/><rect x="53.9" y="291" width="73.8" height="1.04" fill="url(#gx)" opacity="0.173"/><rect x="54.02" y="292" width="73.56" height="1.04" fill="url(#gx)" opacity="0.174"/><rect x="54.14" y="293" width="73.32" height="1.04" fill="url(#gx)" opacity="0.175"/><rect x="54.26" y="294" width="73.08" height="1.04" fill="url(#gx)" opacity="0.176"/><rect x="54.38" y="295" width="72.84" height="1.04" fill="url(#gx)" opacity="0.177"/><rect x="54.5" y="296" width="72.6" height="1.04" fill="url(#gx)" opacity="0.177"/><rect x="54.62" y="297" width="72.36" height="1.04" fill="url(#gx)" opacity="0.178"/><rect x="54.74" y="298" width="72.12" height="1.04" fill="url(#gx)" opacity="0.179"/><rect x="54.86" y="299" width="71.88" height="1.04" fill="url(#gx)" opacity="0.180"/><rect x="55.1" y="300" width="71.4" height="1.04" fill="url(#gx)" opacity="0.181"/><rect x="55.47" y="301" width="70.67" height="1.04" fill="url(#gx)" opacity="0.182"/><rect x="55.83" y="302" width="69.94" height="1.04" fill="url(#gx)" opacity="0.183"/><rect x="56.19" y="303" width="69.21" height="1.04" fill="url(#gx)" opacity="0.185"/><rect x="56.56" y="304" width="68.48" height="1.04" fill="url(#gx)" opacity="0.186"/><rect x="56.92" y="305" width="67.76" height="1.04" fill="url(#gx)" opacity="0.187"/><rect x="57.29" y="306" width="67.03" height="1.04" fill="url(#gx)" opacity="0.189"/><rect x="57.65" y="307" width="66.3" height="1.04" fill="url(#gx)" opacity="0.190"/><rect x="58.01" y="308" width="65.57" height="1.04" fill="url(#gx)" opacity="0.191"/><rect x="58.38" y="309" width="64.84" height="1.04" fill="url(#gx)" opacity="0.193"/><rect x="58.74" y="310" width="64.12" height="1.04" fill="url(#gx)" opacity="0.194"/><rect x="59.11" y="311" width="63.39" height="1.04" fill="url(#gx)" opacity="0.195"/><rect x="59.47" y="312" width="62.66" height="1.04" fill="url(#gx)" opacity="0.197"/><rect x="59.83" y="313" width="61.93" height="1.04" fill="url(#gx)" opacity="0.198"/><rect x="60.2" y="314" width="61.2" height="1.04" fill="url(#gx)" opacity="0.199"/><rect x="60.68" y="315" width="60.23" height="1.04" fill="url(#gx)" opacity="0.202"/><rect x="61.29" y="316" width="59.02" height="1.04" fill="url(#gx)" opacity="0.207"/><rect x="61.9" y="317" width="57.81" height="1.04" fill="url(#gx)" opacity="0.211"/><rect x="62.5" y="318" width="56.59" height="1.04" fill="url(#gx)" opacity="0.216"/><rect x="63.11" y="319" width="55.38" height="1.04" fill="url(#gx)" opacity="0.220"/><rect x="63.72" y="320" width="54.17" height="1.04" fill="url(#gx)" opacity="0.224"/><rect x="64.32" y="321" width="52.95" height="1.04" fill="url(#gx)" opacity="0.229"/><rect x="64.93" y="322" width="51.74" height="1.04" fill="url(#gx)" opacity="0.233"/><rect x="65.54" y="323" width="50.53" height="1.04" fill="url(#gx)" opacity="0.238"/><rect x="66.26" y="324" width="49.08" height="1.04" fill="url(#gx)" opacity="0.246"/><rect x="67.09" y="325" width="47.41" height="1.04" fill="url(#gx)" opacity="0.258"/><rect x="67.93" y="326" width="45.74" height="1.04" fill="url(#gx)" opacity="0.270"/><rect x="68.77" y="327" width="44.07" height="1.04" fill="url(#gx)" opacity="0.282"/><rect x="69.6" y="328" width="42.4" height="1.04" fill="url(#gx)" opacity="0.294"/><rect x="70.44" y="329" width="40.73" height="1.04" fill="url(#gx)" opacity="0.305"/><rect x="71.27" y="330" width="39.06" height="1.04" fill="url(#gx)" opacity="0.317"/><rect x="72.11" y="331" width="37.38" height="1.04" fill="url(#gx)" opacity="0.329"/><rect x="72.92" y="332" width="35.77" height="1.04" fill="url(#gx)" opacity="0.341"/><rect x="73.48" y="333" width="34.64" height="1.04" fill="url(#gx)" opacity="0.355"/><rect x="74.04" y="334" width="33.51" height="1.04" fill="url(#gx)" opacity="0.368"/><rect x="74.61" y="335" width="32.38" height="1.04" fill="url(#gx)" opacity="0.381"/><rect x="75.17" y="336" width="31.26" height="1.04" fill="url(#gx)" opacity="0.394"/><rect x="75.74" y="337" width="30.13" height="1.04" fill="url(#gx)" opacity="0.408"/><rect x="76.3" y="338" width="29" height="1.04" fill="url(#gx)" opacity="0.421"/><rect x="76.86" y="339" width="27.87" height="1.04" fill="url(#gx)" opacity="0.434"/><rect x="77.43" y="340" width="26.75" height="1.04" fill="url(#gx)" opacity="0.447"/><rect x="77.99" y="341" width="25.63" height="1.04" fill="url(#gx)" opacity="0.484"/><rect x="78.54" y="342" width="24.51" height="1.04" fill="url(#gx)" opacity="0.527"/><rect x="79.1" y="343" width="23.4" height="1.04" fill="url(#gx)" opacity="0.570"/><rect x="79.59" y="344" width="22.42" height="1.04" fill="url(#gx)" opacity="0.613"/><rect x="79.91" y="345" width="21.78" height="1.04" fill="url(#gx)" opacity="0.654"/><rect x="80.24" y="346" width="21.13" height="1.04" fill="url(#gx)" opacity="0.696"/><rect x="80.56" y="347" width="20.48" height="1.04" fill="url(#gx)" opacity="0.737"/><rect x="80.91" y="348" width="19.78" height="1.04" fill="url(#gx)" opacity="0.788"/><rect x="81.26" y="349" width="19.07" height="1.04" fill="url(#gx)" opacity="0.843"/><rect x="81.47" y="350" width="18.66" height="1.04" fill="url(#gx)" opacity="0.874"/><rect x="81.54" y="351" width="18.53" height="1.04" fill="url(#gx)" opacity="0.883"/><rect x="81.6" y="352" width="18.4" height="1.04" fill="url(#gx)" opacity="0.891"/><rect x="81.67" y="353" width="18.27" height="1.04" fill="url(#gx)" opacity="0.899"/><rect x="81.73" y="354" width="18.13" height="1.04" fill="url(#gx)" opacity="0.907"/><rect x="81.8" y="355" width="18" height="1.04" fill="url(#gx)" opacity="0.916"/><rect x="81.89" y="356" width="17.81" height="1.04" fill="url(#gx)" opacity="0.918"/><rect x="82.02" y="357" width="17.55" height="1.04" fill="url(#gx)" opacity="0.915"/><rect x="82.16" y="358" width="17.29" height="1.04" fill="url(#gx)" opacity="0.912"/><rect x="82.28" y="359" width="17.03" height="1.04" fill="url(#gx)" opacity="0.908"/><rect x="82.41" y="360" width="16.77" height="1.04" fill="url(#gx)" opacity="0.905"/><rect x="82.55" y="361" width="16.51" height="1.04" fill="url(#gx)" opacity="0.902"/><rect x="82.66" y="362" width="16.27" height="1.04" fill="url(#gx)" opacity="0.889"/><rect x="82.77" y="363" width="16.06" height="1.04" fill="url(#gx)" opacity="0.867"/><rect x="82.88" y="364" width="15.84" height="1.04" fill="url(#gx)" opacity="0.844"/><rect x="82.99" y="365" width="15.62" height="1.04" fill="url(#gx)" opacity="0.822"/><rect x="83.15" y="366" width="15.31" height="1.04" fill="url(#gx)" opacity="0.775"/><rect x="83.31" y="367" width="14.98" height="1.04" fill="url(#gx)" opacity="0.725"/><rect x="83.49" y="368" width="14.63" height="1.04" fill="url(#gx)" opacity="0.625"/><rect x="83.68" y="369" width="14.24" height="1.04" fill="url(#gx)" opacity="0.475"/><rect x="83.78" y="370" width="14.04" height="1.04" fill="url(#gx)" opacity="0.383"/><rect x="83.78" y="371" width="14.04" height="1.04" fill="url(#gx)" opacity="0.350"/><rect x="83.78" y="372" width="14.04" height="1.04" fill="url(#gx)" opacity="0.317"/><rect x="83.7" y="373" width="14.2" height="1.04" fill="url(#gx)" opacity="0.295"/><rect x="83.55" y="374" width="14.51" height="1.04" fill="url(#gx)" opacity="0.285"/><rect x="83.39" y="375" width="14.82" height="1.04" fill="url(#gx)" opacity="0.275"/><rect x="83.23" y="376" width="15.13" height="1.04" fill="url(#gx)" opacity="0.265"/><rect x="83.08" y="377" width="15.44" height="1.04" fill="url(#gx)" opacity="0.255"/><rect x="82.8" y="378" width="15.99" height="1.04" fill="url(#gx)" opacity="0.234"/><rect x="82.41" y="379" width="16.77" height="1.04" fill="url(#gx)" opacity="0.201"/><rect x="82.02" y="380" width="17.55" height="1.04" fill="url(#gx)" opacity="0.169"/><rect x="81.63" y="381" width="18.33" height="1.04" fill="url(#gx)" opacity="0.136"/><rect x="80.99" y="382" width="19.61" height="1.04" fill="url(#gx)" opacity="0.116"/><rect x="80.1" y="383" width="21.39" height="1.04" fill="url(#gx)" opacity="0.107"/><rect x="79.21" y="384" width="23.18" height="1.04" fill="url(#gx)" opacity="0.099"/><rect x="78.32" y="385" width="24.96" height="1.04" fill="url(#gx)" opacity="0.090"/><rect x="77.43" y="386" width="26.74" height="1.04" fill="url(#gx)" opacity="0.081"/><rect x="76.54" y="387" width="28.53" height="1.04" fill="url(#gx)" opacity="0.073"/><rect x="75.65" y="388" width="30.31" height="1.04" fill="url(#gx)" opacity="0.064"/><ellipse cx="86.2" cy="358.5" rx="2.4" ry="9" fill="url(#gr)" opacity="0.300"/><ellipse cx="96" cy="358.5" rx="2.4" ry="9" fill="url(#gr)" opacity="0.300"/><ellipse cx="90.8" cy="370.4" rx="1.8" ry="2.1" fill="url(#gr)" opacity="0.450"/><ellipse cx="90.8" cy="375.7" rx="2.1" ry="2.1" fill="url(#gr)" opacity="0.520"/><ellipse cx="90.8" cy="380" rx="1.8" ry="1.8" fill="url(#gr)" opacity="0.360"/></g></g>
<g clip-path="url(#c9)"><g filter="url(#jet)"><rect x="125.5" y="271" width="67" height="121" fill="#fff" opacity="0.016"/><rect x="138.43" y="274" width="2.13" height="115" fill="#fff" opacity="0.010"/><rect x="142.24" y="274" width="1.51" height="115" fill="#fff" opacity="0.006"/><rect x="149.56" y="274" width="1.06" height="115" fill="#fff" opacity="0.007"/><rect x="165.09" y="274" width="2.46" height="115" fill="#fff" opacity="0.012"/><rect x="172.42" y="274" width="1.3" height="115" fill="#fff" opacity="0.010"/><rect x="141.27" y="274" width="2.18" height="115" fill="#fff" opacity="0.013"/><rect x="136.58" y="274" width="2.39" height="115" fill="#fff" opacity="0.005"/><rect x="162.01" y="274" width="1.12" height="115" fill="#fff" opacity="0.009"/><ellipse cx="159.1" cy="374" rx="24" ry="18" fill="url(#gr)" opacity="0.035"/><line x1="159.1" y1="360" x2="139.1" y2="389" stroke="#fff" stroke-width="2.16" opacity="0.049"/><line x1="159.1" y1="360" x2="179.1" y2="389" stroke="#fff" stroke-width="2.16" opacity="0.049"/><line x1="159.1" y1="364" x2="147.1" y2="389" stroke="#fff" stroke-width="2.16" opacity="0.034"/><line x1="159.1" y1="364" x2="171.1" y2="389" stroke="#fff" stroke-width="2.16" opacity="0.034"/><rect x="112.48" y="274" width="93.25" height="3.04" fill="url(#gx)" opacity="0.030"/><rect x="112.83" y="277" width="92.54" height="3.04" fill="url(#gx)" opacity="0.031"/><rect x="113.19" y="280" width="91.83" height="3.04" fill="url(#gx)" opacity="0.031"/><rect x="113.54" y="283" width="91.12" height="3.04" fill="url(#gx)" opacity="0.032"/><rect x="113.9" y="286" width="90.41" height="3.04" fill="url(#gx)" opacity="0.032"/><rect x="114.25" y="289" width="89.7" height="3.04" fill="url(#gx)" opacity="0.033"/><rect x="114.6" y="292" width="88.99" height="3.04" fill="url(#gx)" opacity="0.033"/><rect x="114.96" y="295" width="88.28" height="3.04" fill="url(#gx)" opacity="0.033"/><rect x="115.31" y="298" width="87.57" height="3.04" fill="url(#gx)" opacity="0.034"/><rect x="115.67" y="301" width="86.86" height="3.04" fill="url(#gx)" opacity="0.034"/><rect x="116.02" y="304" width="86.15" height="3.04" fill="url(#gx)" opacity="0.035"/><rect x="116.38" y="307" width="85.45" height="3.04" fill="url(#gx)" opacity="0.035"/><rect x="116.73" y="310" width="84.74" height="3.04" fill="url(#gx)" opacity="0.036"/><rect x="117.09" y="313" width="84.03" height="3.04" fill="url(#gx)" opacity="0.036"/><rect x="117.44" y="316" width="83.32" height="3.04" fill="url(#gx)" opacity="0.037"/><rect x="117.8" y="319" width="82.61" height="3.04" fill="url(#gx)" opacity="0.037"/><rect x="118.15" y="322" width="81.9" height="3.04" fill="url(#gx)" opacity="0.037"/><rect x="118.5" y="325" width="81.19" height="3.04" fill="url(#gx)" opacity="0.038"/><rect x="118.86" y="328" width="80.48" height="3.04" fill="url(#gx)" opacity="0.038"/><rect x="119.21" y="331" width="79.77" height="3.04" fill="url(#gx)" opacity="0.039"/><rect x="119.57" y="334" width="79.06" height="3.04" fill="url(#gx)" opacity="0.039"/><rect x="119.92" y="337" width="78.35" height="3.04" fill="url(#gx)" opacity="0.040"/><rect x="120.1" y="340" width="78" height="3.04" fill="url(#gx)" opacity="0.039"/><rect x="120.1" y="343" width="78" height="3.04" fill="url(#gx)" opacity="0.038"/><rect x="120.1" y="346" width="78" height="3.04" fill="url(#gx)" opacity="0.037"/><rect x="120.1" y="349" width="78" height="3.04" fill="url(#gx)" opacity="0.036"/><rect x="120.1" y="352" width="78" height="3.04" fill="url(#gx)" opacity="0.034"/><rect x="120.1" y="355" width="78" height="3.04" fill="url(#gx)" opacity="0.033"/><rect x="120.1" y="358" width="78" height="3.04" fill="url(#gx)" opacity="0.032"/><rect x="120.1" y="361" width="78" height="3.04" fill="url(#gx)" opacity="0.031"/><rect x="120.1" y="364" width="78" height="3.04" fill="url(#gx)" opacity="0.030"/><rect x="120.1" y="367" width="78" height="3.04" fill="url(#gx)" opacity="0.028"/><rect x="120.1" y="370" width="78" height="3.04" fill="url(#gx)" opacity="0.027"/><rect x="120.1" y="373" width="78" height="3.04" fill="url(#gx)" opacity="0.026"/><rect x="120.1" y="376" width="78" height="3.04" fill="url(#gx)" opacity="0.025"/><rect x="120.1" y="379" width="78" height="3.04" fill="url(#gx)" opacity="0.023"/><rect x="120.1" y="382" width="78" height="3.04" fill="url(#gx)" opacity="0.022"/><rect x="120.1" y="385" width="78" height="3.04" fill="url(#gx)" opacity="0.021"/><rect x="120.1" y="388" width="78" height="1.04" fill="url(#gx)" opacity="0.020"/><rect x="131.05" y="274" width="56.1" height="1.04" fill="url(#gx)" opacity="0.100"/><rect x="131.11" y="275" width="55.98" height="1.04" fill="url(#gx)" opacity="0.101"/><rect x="131.17" y="276" width="55.86" height="1.04" fill="url(#gx)" opacity="0.101"/><rect x="131.23" y="277" width="55.74" height="1.04" fill="url(#gx)" opacity="0.101"/><rect x="131.29" y="278" width="55.62" height="1.04" fill="url(#gx)" opacity="0.102"/><rect x="131.35" y="279" width="55.5" height="1.04" fill="url(#gx)" opacity="0.102"/><rect x="131.41" y="280" width="55.38" height="1.04" fill="url(#gx)" opacity="0.103"/><rect x="131.47" y="281" width="55.26" height="1.04" fill="url(#gx)" opacity="0.103"/><rect x="131.53" y="282" width="55.14" height="1.04" fill="url(#gx)" opacity="0.103"/><rect x="131.59" y="283" width="55.02" height="1.04" fill="url(#gx)" opacity="0.104"/><rect x="131.65" y="284" width="54.9" height="1.04" fill="url(#gx)" opacity="0.104"/><rect x="131.71" y="285" width="54.78" height="1.04" fill="url(#gx)" opacity="0.104"/><rect x="131.77" y="286" width="54.66" height="1.04" fill="url(#gx)" opacity="0.105"/><rect x="131.83" y="287" width="54.54" height="1.04" fill="url(#gx)" opacity="0.105"/><rect x="131.89" y="288" width="54.42" height="1.04" fill="url(#gx)" opacity="0.106"/><rect x="131.95" y="289" width="54.3" height="1.04" fill="url(#gx)" opacity="0.106"/><rect x="132.01" y="290" width="54.18" height="1.04" fill="url(#gx)" opacity="0.106"/><rect x="132.07" y="291" width="54.06" height="1.04" fill="url(#gx)" opacity="0.107"/><rect x="132.13" y="292" width="53.94" height="1.04" fill="url(#gx)" opacity="0.107"/><rect x="132.19" y="293" width="53.82" height="1.04" fill="url(#gx)" opacity="0.107"/><rect x="132.25" y="294" width="53.7" height="1.04" fill="url(#gx)" opacity="0.108"/><rect x="132.31" y="295" width="53.58" height="1.04" fill="url(#gx)" opacity="0.108"/><rect x="132.37" y="296" width="53.46" height="1.04" fill="url(#gx)" opacity="0.109"/><rect x="132.43" y="297" width="53.34" height="1.04" fill="url(#gx)" opacity="0.109"/><rect x="132.49" y="298" width="53.22" height="1.04" fill="url(#gx)" opacity="0.109"/><rect x="132.55" y="299" width="53.1" height="1.04" fill="url(#gx)" opacity="0.110"/><rect x="132.66" y="300" width="52.88" height="1.04" fill="url(#gx)" opacity="0.111"/><rect x="132.81" y="301" width="52.57" height="1.04" fill="url(#gx)" opacity="0.112"/><rect x="132.97" y="302" width="52.26" height="1.04" fill="url(#gx)" opacity="0.113"/><rect x="133.13" y="303" width="51.95" height="1.04" fill="url(#gx)" opacity="0.114"/><rect x="133.28" y="304" width="51.64" height="1.04" fill="url(#gx)" opacity="0.115"/><rect x="133.44" y="305" width="51.32" height="1.04" fill="url(#gx)" opacity="0.116"/><rect x="133.59" y="306" width="51.01" height="1.04" fill="url(#gx)" opacity="0.117"/><rect x="133.75" y="307" width="50.7" height="1.04" fill="url(#gx)" opacity="0.118"/><rect x="133.91" y="308" width="50.39" height="1.04" fill="url(#gx)" opacity="0.119"/><rect x="134.06" y="309" width="50.08" height="1.04" fill="url(#gx)" opacity="0.119"/><rect x="134.22" y="310" width="49.76" height="1.04" fill="url(#gx)" opacity="0.120"/><rect x="134.37" y="311" width="49.45" height="1.04" fill="url(#gx)" opacity="0.121"/><rect x="134.53" y="312" width="49.14" height="1.04" fill="url(#gx)" opacity="0.122"/><rect x="134.69" y="313" width="48.83" height="1.04" fill="url(#gx)" opacity="0.123"/><rect x="134.84" y="314" width="48.52" height="1.04" fill="url(#gx)" opacity="0.124"/><rect x="135" y="315" width="48.2" height="1.04" fill="url(#gx)" opacity="0.126"/><rect x="135.15" y="316" width="47.89" height="1.04" fill="url(#gx)" opacity="0.127"/><rect x="135.31" y="317" width="47.58" height="1.04" fill="url(#gx)" opacity="0.128"/><rect x="135.47" y="318" width="47.27" height="1.04" fill="url(#gx)" opacity="0.129"/><rect x="135.62" y="319" width="46.96" height="1.04" fill="url(#gx)" opacity="0.130"/><rect x="135.86" y="320" width="46.49" height="1.04" fill="url(#gx)" opacity="0.132"/><rect x="136.17" y="321" width="45.86" height="1.04" fill="url(#gx)" opacity="0.135"/><rect x="136.48" y="322" width="45.24" height="1.04" fill="url(#gx)" opacity="0.138"/><rect x="136.79" y="323" width="44.62" height="1.04" fill="url(#gx)" opacity="0.141"/><rect x="137.1" y="324" width="43.99" height="1.04" fill="url(#gx)" opacity="0.144"/><rect x="137.42" y="325" width="43.37" height="1.04" fill="url(#gx)" opacity="0.147"/><rect x="137.73" y="326" width="42.74" height="1.04" fill="url(#gx)" opacity="0.149"/><rect x="138.04" y="327" width="42.12" height="1.04" fill="url(#gx)" opacity="0.152"/><rect x="138.35" y="328" width="41.5" height="1.04" fill="url(#gx)" opacity="0.155"/><rect x="138.66" y="329" width="40.87" height="1.04" fill="url(#gx)" opacity="0.159"/><rect x="139.09" y="330" width="40.01" height="1.04" fill="url(#gx)" opacity="0.166"/><rect x="139.64" y="331" width="38.91" height="1.04" fill="url(#gx)" opacity="0.179"/><rect x="140.19" y="332" width="37.81" height="1.04" fill="url(#gx)" opacity="0.192"/><rect x="140.74" y="333" width="36.71" height="1.04" fill="url(#gx)" opacity="0.204"/><rect x="141.29" y="334" width="35.62" height="1.04" fill="url(#gx)" opacity="0.217"/><rect x="141.84" y="335" width="34.52" height="1.04" fill="url(#gx)" opacity="0.230"/><rect x="142.39" y="336" width="33.42" height="1.04" fill="url(#gx)" opacity="0.242"/><rect x="142.83" y="337" width="32.55" height="1.04" fill="url(#gx)" opacity="0.259"/><rect x="143.09" y="338" width="32.02" height="1.04" fill="url(#gx)" opacity="0.281"/><rect x="143.35" y="339" width="31.49" height="1.04" fill="url(#gx)" opacity="0.303"/><rect x="143.62" y="340" width="30.96" height="1.04" fill="url(#gx)" opacity="0.325"/><rect x="143.88" y="341" width="30.43" height="1.04" fill="url(#gx)" opacity="0.347"/><rect x="144.15" y="342" width="29.9" height="1.04" fill="url(#gx)" opacity="0.369"/><rect x="144.5" y="343" width="29.21" height="1.04" fill="url(#gx)" opacity="0.411"/><rect x="144.93" y="344" width="28.34" height="1.04" fill="url(#gx)" opacity="0.472"/><rect x="145.36" y="345" width="27.47" height="1.04" fill="url(#gx)" opacity="0.533"/><rect x="145.8" y="346" width="26.61" height="1.04" fill="url(#gx)" opacity="0.594"/><rect x="146.13" y="347" width="25.94" height="1.04" fill="url(#gx)" opacity="0.656"/><rect x="146.46" y="348" width="25.29" height="1.04" fill="url(#gx)" opacity="0.719"/><rect x="146.84" y="349" width="24.53" height="1.04" fill="url(#gx)" opacity="0.783"/><rect x="147.27" y="350" width="23.66" height="1.04" fill="url(#gx)" opacity="0.850"/><rect x="147.4" y="351" width="23.4" height="1.04" fill="url(#gx)" opacity="0.887"/><rect x="147.4" y="352" width="23.4" height="1.04" fill="url(#gx)" opacity="0.912"/><rect x="147.4" y="353" width="23.4" height="1.04" fill="url(#gx)" opacity="0.937"/><rect x="147.53" y="354" width="23.14" height="1.04" fill="url(#gx)" opacity="0.945"/><rect x="147.79" y="355" width="22.62" height="1.04" fill="url(#gx)" opacity="0.935"/><rect x="148.05" y="356" width="22.1" height="1.04" fill="url(#gx)" opacity="0.925"/><rect x="148.38" y="357" width="21.45" height="1.04" fill="url(#gx)" opacity="0.903"/><rect x="148.76" y="358" width="20.67" height="1.04" fill="url(#gx)" opacity="0.867"/><rect x="149.12" y="359" width="19.96" height="1.04" fill="url(#gx)" opacity="0.798"/><rect x="149.45" y="360" width="19.3" height="1.04" fill="url(#gx)" opacity="0.694"/><rect x="149.81" y="361" width="18.57" height="1.04" fill="url(#gx)" opacity="0.593"/><rect x="150.56" y="362" width="17.09" height="1.04" fill="url(#gx)" opacity="0.521"/><rect x="151.3" y="363" width="15.6" height="1.04" fill="url(#gx)" opacity="0.450"/><rect x="151.67" y="364" width="14.86" height="1.04" fill="url(#gx)" opacity="0.402"/><rect x="152.04" y="365" width="14.11" height="1.04" fill="url(#gx)" opacity="0.355"/><rect x="152.23" y="366" width="13.74" height="1.04" fill="url(#gx)" opacity="0.325"/><rect x="152.4" y="367" width="13.41" height="1.04" fill="url(#gx)" opacity="0.297"/><rect x="152.56" y="368" width="13.08" height="1.04" fill="url(#gx)" opacity="0.270"/><rect x="152.73" y="369" width="12.75" height="1.04" fill="url(#gx)" opacity="0.242"/><rect x="152.78" y="370" width="12.65" height="1.04" fill="url(#gx)" opacity="0.214"/><rect x="152.35" y="371" width="13.49" height="1.04" fill="url(#gx)" opacity="0.181"/><rect x="151.93" y="372" width="14.34" height="1.04" fill="url(#gx)" opacity="0.149"/><rect x="151.51" y="373" width="15.18" height="1.04" fill="url(#gx)" opacity="0.116"/><rect x="151.04" y="374" width="16.12" height="1.04" fill="url(#gx)" opacity="0.098"/><rect x="150.52" y="375" width="17.16" height="1.04" fill="url(#gx)" opacity="0.095"/><rect x="150" y="376" width="18.2" height="1.04" fill="url(#gx)" opacity="0.092"/><rect x="149.48" y="377" width="19.24" height="1.04" fill="url(#gx)" opacity="0.088"/><rect x="148.96" y="378" width="20.28" height="1.04" fill="url(#gx)" opacity="0.085"/><rect x="148.44" y="379" width="21.32" height="1.04" fill="url(#gx)" opacity="0.082"/><rect x="147.92" y="380" width="22.36" height="1.04" fill="url(#gx)" opacity="0.078"/><rect x="147.4" y="381" width="23.4" height="1.04" fill="url(#gx)" opacity="0.075"/><rect x="146.88" y="382" width="24.44" height="1.04" fill="url(#gx)" opacity="0.072"/><rect x="146.36" y="383" width="25.48" height="1.04" fill="url(#gx)" opacity="0.068"/><rect x="145.84" y="384" width="26.52" height="1.04" fill="url(#gx)" opacity="0.065"/><rect x="145.32" y="385" width="27.56" height="1.04" fill="url(#gx)" opacity="0.062"/><rect x="144.8" y="386" width="28.6" height="1.04" fill="url(#gx)" opacity="0.058"/><rect x="144.28" y="387" width="29.64" height="1.04" fill="url(#gx)" opacity="0.055"/><rect x="143.76" y="388" width="30.68" height="1.04" fill="url(#gx)" opacity="0.052"/><ellipse cx="159.1" cy="378.6" rx="1.8" ry="2.1" fill="url(#gr)" opacity="0.220"/></g></g>
<g clip-path="url(#c10)"><g filter="url(#jet)"><rect x="191.5" y="271" width="66.5" height="121" fill="#fff" opacity="0.016"/><rect x="203.67" y="274" width="2.3" height="115" fill="#fff" opacity="0.014"/><rect x="224.05" y="274" width="2.15" height="115" fill="#fff" opacity="0.008"/><rect x="202.56" y="274" width="1.78" height="115" fill="#fff" opacity="0.012"/><rect x="207.19" y="274" width="1.52" height="115" fill="#fff" opacity="0.008"/><rect x="231.65" y="274" width="1.11" height="115" fill="#fff" opacity="0.005"/><rect x="235.03" y="274" width="1.65" height="115" fill="#fff" opacity="0.007"/><rect x="249.55" y="274" width="1.36" height="115" fill="#fff" opacity="0.005"/><rect x="232.88" y="274" width="2.45" height="115" fill="#fff" opacity="0.012"/><ellipse cx="224.8" cy="374" rx="24" ry="18" fill="url(#gr)" opacity="0.035"/><line x1="224.8" y1="360" x2="204.8" y2="389" stroke="#fff" stroke-width="2.16" opacity="0.042"/><line x1="224.8" y1="360" x2="244.8" y2="389" stroke="#fff" stroke-width="2.16" opacity="0.042"/><line x1="224.8" y1="364" x2="212.8" y2="389" stroke="#fff" stroke-width="2.16" opacity="0.029"/><line x1="224.8" y1="364" x2="236.8" y2="389" stroke="#fff" stroke-width="2.16" opacity="0.029"/><rect x="178.18" y="274" width="93.25" height="3.04" fill="url(#gx)" opacity="0.030"/><rect x="178.53" y="277" width="92.54" height="3.04" fill="url(#gx)" opacity="0.031"/><rect x="178.89" y="280" width="91.83" height="3.04" fill="url(#gx)" opacity="0.031"/><rect x="179.24" y="283" width="91.12" height="3.04" fill="url(#gx)" opacity="0.032"/><rect x="179.6" y="286" width="90.41" height="3.04" fill="url(#gx)" opacity="0.032"/><rect x="179.95" y="289" width="89.7" height="3.04" fill="url(#gx)" opacity="0.033"/><rect x="180.3" y="292" width="88.99" height="3.04" fill="url(#gx)" opacity="0.033"/><rect x="180.66" y="295" width="88.28" height="3.04" fill="url(#gx)" opacity="0.033"/><rect x="181.01" y="298" width="87.57" height="3.04" fill="url(#gx)" opacity="0.034"/><rect x="181.37" y="301" width="86.86" height="3.04" fill="url(#gx)" opacity="0.034"/><rect x="181.72" y="304" width="86.15" height="3.04" fill="url(#gx)" opacity="0.035"/><rect x="182.08" y="307" width="85.45" height="3.04" fill="url(#gx)" opacity="0.035"/><rect x="182.43" y="310" width="84.74" height="3.04" fill="url(#gx)" opacity="0.036"/><rect x="182.79" y="313" width="84.03" height="3.04" fill="url(#gx)" opacity="0.036"/><rect x="183.14" y="316" width="83.32" height="3.04" fill="url(#gx)" opacity="0.037"/><rect x="183.5" y="319" width="82.61" height="3.04" fill="url(#gx)" opacity="0.037"/><rect x="183.85" y="322" width="81.9" height="3.04" fill="url(#gx)" opacity="0.037"/><rect x="184.2" y="325" width="81.19" height="3.04" fill="url(#gx)" opacity="0.038"/><rect x="184.56" y="328" width="80.48" height="3.04" fill="url(#gx)" opacity="0.038"/><rect x="184.91" y="331" width="79.77" height="3.04" fill="url(#gx)" opacity="0.039"/><rect x="185.27" y="334" width="79.06" height="3.04" fill="url(#gx)" opacity="0.039"/><rect x="185.62" y="337" width="78.35" height="3.04" fill="url(#gx)" opacity="0.040"/><rect x="185.8" y="340" width="78" height="3.04" fill="url(#gx)" opacity="0.039"/><rect x="185.8" y="343" width="78" height="3.04" fill="url(#gx)" opacity="0.038"/><rect x="185.8" y="346" width="78" height="3.04" fill="url(#gx)" opacity="0.037"/><rect x="185.8" y="349" width="78" height="3.04" fill="url(#gx)" opacity="0.036"/><rect x="185.8" y="352" width="78" height="3.04" fill="url(#gx)" opacity="0.034"/><rect x="185.8" y="355" width="78" height="3.04" fill="url(#gx)" opacity="0.033"/><rect x="185.8" y="358" width="78" height="3.04" fill="url(#gx)" opacity="0.032"/><rect x="185.8" y="361" width="78" height="3.04" fill="url(#gx)" opacity="0.031"/><rect x="185.8" y="364" width="78" height="3.04" fill="url(#gx)" opacity="0.030"/><rect x="185.8" y="367" width="78" height="3.04" fill="url(#gx)" opacity="0.028"/><rect x="185.8" y="370" width="78" height="3.04" fill="url(#gx)" opacity="0.027"/><rect x="185.8" y="373" width="78" height="3.04" fill="url(#gx)" opacity="0.026"/><rect x="185.8" y="376" width="78" height="3.04" fill="url(#gx)" opacity="0.025"/><rect x="185.8" y="379" width="78" height="3.04" fill="url(#gx)" opacity="0.023"/><rect x="185.8" y="382" width="78" height="3.04" fill="url(#gx)" opacity="0.022"/><rect x="185.8" y="385" width="78" height="3.04" fill="url(#gx)" opacity="0.021"/><rect x="185.8" y="388" width="78" height="1.04" fill="url(#gx)" opacity="0.020"/><rect x="196.75" y="274" width="56.1" height="1.04" fill="url(#gx)" opacity="0.080"/><rect x="196.81" y="275" width="55.98" height="1.04" fill="url(#gx)" opacity="0.081"/><rect x="196.87" y="276" width="55.86" height="1.04" fill="url(#gx)" opacity="0.081"/><rect x="196.93" y="277" width="55.74" height="1.04" fill="url(#gx)" opacity="0.081"/><rect x="196.99" y="278" width="55.62" height="1.04" fill="url(#gx)" opacity="0.082"/><rect x="197.05" y="279" width="55.5" height="1.04" fill="url(#gx)" opacity="0.082"/><rect x="197.11" y="280" width="55.38" height="1.04" fill="url(#gx)" opacity="0.083"/><rect x="197.17" y="281" width="55.26" height="1.04" fill="url(#gx)" opacity="0.083"/><rect x="197.23" y="282" width="55.14" height="1.04" fill="url(#gx)" opacity="0.083"/><rect x="197.29" y="283" width="55.02" height="1.04" fill="url(#gx)" opacity="0.084"/><rect x="197.35" y="284" width="54.9" height="1.04" fill="url(#gx)" opacity="0.084"/><rect x="197.41" y="285" width="54.78" height="1.04" fill="url(#gx)" opacity="0.084"/><rect x="197.47" y="286" width="54.66" height="1.04" fill="url(#gx)" opacity="0.085"/><rect x="197.53" y="287" width="54.54" height="1.04" fill="url(#gx)" opacity="0.085"/><rect x="197.59" y="288" width="54.42" height="1.04" fill="url(#gx)" opacity="0.086"/><rect x="197.65" y="289" width="54.3" height="1.04" fill="url(#gx)" opacity="0.086"/><rect x="197.71" y="290" width="54.18" height="1.04" fill="url(#gx)" opacity="0.086"/><rect x="197.77" y="291" width="54.06" height="1.04" fill="url(#gx)" opacity="0.087"/><rect x="197.83" y="292" width="53.94" height="1.04" fill="url(#gx)" opacity="0.087"/><rect x="197.89" y="293" width="53.82" height="1.04" fill="url(#gx)" opacity="0.087"/><rect x="197.95" y="294" width="53.7" height="1.04" fill="url(#gx)" opacity="0.088"/><rect x="198.01" y="295" width="53.58" height="1.04" fill="url(#gx)" opacity="0.088"/><rect x="198.07" y="296" width="53.46" height="1.04" fill="url(#gx)" opacity="0.089"/><rect x="198.13" y="297" width="53.34" height="1.04" fill="url(#gx)" opacity="0.089"/><rect x="198.19" y="298" width="53.22" height="1.04" fill="url(#gx)" opacity="0.089"/><rect x="198.25" y="299" width="53.1" height="1.04" fill="url(#gx)" opacity="0.090"/><rect x="198.36" y="300" width="52.88" height="1.04" fill="url(#gx)" opacity="0.091"/><rect x="198.51" y="301" width="52.57" height="1.04" fill="url(#gx)" opacity="0.092"/><rect x="198.67" y="302" width="52.26" height="1.04" fill="url(#gx)" opacity="0.094"/><rect x="198.83" y="303" width="51.95" height="1.04" fill="url(#gx)" opacity="0.095"/><rect x="198.98" y="304" width="51.64" height="1.04" fill="url(#gx)" opacity="0.097"/><rect x="199.14" y="305" width="51.32" height="1.04" fill="url(#gx)" opacity="0.098"/><rect x="199.29" y="306" width="51.01" height="1.04" fill="url(#gx)" opacity="0.100"/><rect x="199.45" y="307" width="50.7" height="1.04" fill="url(#gx)" opacity="0.101"/><rect x="199.61" y="308" width="50.39" height="1.04" fill="url(#gx)" opacity="0.103"/><rect x="199.76" y="309" width="50.08" height="1.04" fill="url(#gx)" opacity="0.104"/><rect x="199.92" y="310" width="49.76" height="1.04" fill="url(#gx)" opacity="0.106"/><rect x="200.07" y="311" width="49.45" height="1.04" fill="url(#gx)" opacity="0.107"/><rect x="200.23" y="312" width="49.14" height="1.04" fill="url(#gx)" opacity="0.109"/><rect x="200.39" y="313" width="48.83" height="1.04" fill="url(#gx)" opacity="0.110"/><rect x="200.54" y="314" width="48.52" height="1.04" fill="url(#gx)" opacity="0.112"/><rect x="200.7" y="315" width="48.2" height="1.04" fill="url(#gx)" opacity="0.113"/><rect x="200.85" y="316" width="47.89" height="1.04" fill="url(#gx)" opacity="0.115"/><rect x="201.01" y="317" width="47.58" height="1.04" fill="url(#gx)" opacity="0.116"/><rect x="201.17" y="318" width="47.27" height="1.04" fill="url(#gx)" opacity="0.118"/><rect x="201.32" y="319" width="46.96" height="1.04" fill="url(#gx)" opacity="0.119"/><rect x="201.59" y="320" width="46.41" height="1.04" fill="url(#gx)" opacity="0.122"/><rect x="201.99" y="321" width="45.63" height="1.04" fill="url(#gx)" opacity="0.126"/><rect x="202.38" y="322" width="44.85" height="1.04" fill="url(#gx)" opacity="0.129"/><rect x="202.77" y="323" width="44.07" height="1.04" fill="url(#gx)" opacity="0.133"/><rect x="203.16" y="324" width="43.29" height="1.04" fill="url(#gx)" opacity="0.137"/><rect x="203.55" y="325" width="42.51" height="1.04" fill="url(#gx)" opacity="0.141"/><rect x="203.94" y="326" width="41.73" height="1.04" fill="url(#gx)" opacity="0.144"/><rect x="204.33" y="327" width="40.95" height="1.04" fill="url(#gx)" opacity="0.148"/><rect x="204.8" y="328" width="40" height="1.04" fill="url(#gx)" opacity="0.159"/><rect x="205.36" y="329" width="38.89" height="1.04" fill="url(#gx)" opacity="0.177"/><rect x="205.91" y="330" width="37.77" height="1.04" fill="url(#gx)" opacity="0.195"/><rect x="206.47" y="331" width="36.66" height="1.04" fill="url(#gx)" opacity="0.212"/><rect x="207.03" y="332" width="35.55" height="1.04" fill="url(#gx)" opacity="0.230"/><rect x="207.58" y="333" width="34.43" height="1.04" fill="url(#gx)" opacity="0.248"/><rect x="207.94" y="334" width="33.72" height="1.04" fill="url(#gx)" opacity="0.275"/><rect x="208.27" y="335" width="33.06" height="1.04" fill="url(#gx)" opacity="0.303"/><rect x="208.6" y="336" width="32.39" height="1.04" fill="url(#gx)" opacity="0.330"/><rect x="208.93" y="337" width="31.73" height="1.04" fill="url(#gx)" opacity="0.358"/><rect x="209.24" y="338" width="31.11" height="1.04" fill="url(#gx)" opacity="0.387"/><rect x="209.46" y="339" width="30.68" height="1.04" fill="url(#gx)" opacity="0.420"/><rect x="209.68" y="340" width="30.25" height="1.04" fill="url(#gx)" opacity="0.453"/><rect x="209.89" y="341" width="29.81" height="1.04" fill="url(#gx)" opacity="0.487"/><rect x="210.18" y="342" width="29.23" height="1.04" fill="url(#gx)" opacity="0.531"/><rect x="210.52" y="343" width="28.55" height="1.04" fill="url(#gx)" opacity="0.583"/><rect x="210.76" y="344" width="28.08" height="1.04" fill="url(#gx)" opacity="0.636"/><rect x="210.76" y="345" width="28.08" height="1.04" fill="url(#gx)" opacity="0.690"/><rect x="210.76" y="346" width="28.08" height="1.04" fill="url(#gx)" opacity="0.745"/><rect x="211.15" y="347" width="27.3" height="1.04" fill="url(#gx)" opacity="0.810"/><rect x="211.54" y="348" width="26.52" height="1.04" fill="url(#gx)" opacity="0.872"/><rect x="211.54" y="349" width="26.52" height="1.04" fill="url(#gx)" opacity="0.894"/><rect x="211.54" y="350" width="26.52" height="1.04" fill="url(#gx)" opacity="0.917"/><rect x="211.54" y="351" width="26.52" height="1.04" fill="url(#gx)" opacity="0.939"/><rect x="211.54" y="352" width="26.52" height="1.04" fill="url(#gx)" opacity="0.947"/><rect x="211.54" y="353" width="26.52" height="1.04" fill="url(#gx)" opacity="0.940"/><rect x="211.54" y="354" width="26.52" height="1.04" fill="url(#gx)" opacity="0.933"/><rect x="211.54" y="355" width="26.52" height="1.04" fill="url(#gx)" opacity="0.913"/><rect x="211.54" y="356" width="26.52" height="1.04" fill="url(#gx)" opacity="0.878"/><rect x="211.48" y="357" width="26.65" height="1.04" fill="url(#gx)" opacity="0.831"/><rect x="211.15" y="358" width="27.3" height="1.04" fill="url(#gx)" opacity="0.735"/><rect x="210.83" y="359" width="27.95" height="1.04" fill="url(#gx)" opacity="0.639"/><rect x="210.49" y="360" width="28.62" height="1.04" fill="url(#gx)" opacity="0.537"/><rect x="210.15" y="361" width="29.3" height="1.04" fill="url(#gx)" opacity="0.432"/><rect x="209.82" y="362" width="29.97" height="1.04" fill="url(#gx)" opacity="0.353"/><rect x="209.49" y="363" width="30.62" height="1.04" fill="url(#gx)" opacity="0.299"/><rect x="209.14" y="364" width="31.32" height="1.04" fill="url(#gx)" opacity="0.245"/><rect x="208.54" y="365" width="32.52" height="1.04" fill="url(#gx)" opacity="0.195"/><rect x="207.94" y="366" width="33.72" height="1.04" fill="url(#gx)" opacity="0.145"/><rect x="207.68" y="367" width="34.25" height="1.04" fill="url(#gx)" opacity="0.118"/><rect x="207.75" y="368" width="34.11" height="1.04" fill="url(#gx)" opacity="0.115"/><rect x="207.82" y="369" width="33.97" height="1.04" fill="url(#gx)" opacity="0.112"/><rect x="207.89" y="370" width="33.82" height="1.04" fill="url(#gx)" opacity="0.109"/><rect x="207.96" y="371" width="33.68" height="1.04" fill="url(#gx)" opacity="0.106"/><rect x="208.03" y="372" width="33.54" height="1.04" fill="url(#gx)" opacity="0.102"/><rect x="208.1" y="373" width="33.4" height="1.04" fill="url(#gx)" opacity="0.099"/><rect x="208.17" y="374" width="33.26" height="1.04" fill="url(#gx)" opacity="0.096"/><rect x="208.24" y="375" width="33.11" height="1.04" fill="url(#gx)" opacity="0.093"/><rect x="208.31" y="376" width="32.97" height="1.04" fill="url(#gx)" opacity="0.090"/><rect x="208.38" y="377" width="32.83" height="1.04" fill="url(#gx)" opacity="0.087"/><rect x="208.46" y="378" width="32.69" height="1.04" fill="url(#gx)" opacity="0.083"/><rect x="208.53" y="379" width="32.55" height="1.04" fill="url(#gx)" opacity="0.080"/><rect x="208.6" y="380" width="32.41" height="1.04" fill="url(#gx)" opacity="0.077"/><rect x="208.67" y="381" width="32.26" height="1.04" fill="url(#gx)" opacity="0.074"/><rect x="208.74" y="382" width="32.12" height="1.04" fill="url(#gx)" opacity="0.071"/><rect x="208.81" y="383" width="31.98" height="1.04" fill="url(#gx)" opacity="0.068"/><rect x="208.88" y="384" width="31.84" height="1.04" fill="url(#gx)" opacity="0.064"/><rect x="208.95" y="385" width="31.7" height="1.04" fill="url(#gx)" opacity="0.061"/><rect x="209.02" y="386" width="31.55" height="1.04" fill="url(#gx)" opacity="0.058"/><rect x="209.09" y="387" width="31.41" height="1.04" fill="url(#gx)" opacity="0.055"/><rect x="209.16" y="388" width="31.27" height="1.04" fill="url(#gx)" opacity="0.052"/><ellipse cx="219.8" cy="363" rx="2.4" ry="4.8" fill="url(#gr)" opacity="0.140"/><ellipse cx="229.8" cy="363" rx="2.4" ry="4.8" fill="url(#gr)" opacity="0.140"/><ellipse cx="224.8" cy="369.7" rx="2.1" ry="3.9" fill="url(#gr)" opacity="0.220"/></g></g>
<g clip-path="url(#c11)"><g filter="url(#jet)"><rect x="257" y="271" width="67" height="121" fill="#fff" opacity="0.016"/><rect x="266.79" y="274" width="1.32" height="115" fill="#fff" opacity="0.007"/><rect x="269.27" y="274" width="2.25" height="115" fill="#fff" opacity="0.009"/><rect x="293.9" y="274" width="2.12" height="115" fill="#fff" opacity="0.007"/><rect x="319.09" y="274" width="2.43" height="115" fill="#fff" opacity="0.010"/><rect x="261.12" y="274" width="2.29" height="115" fill="#fff" opacity="0.009"/><rect x="297.97" y="274" width="1.44" height="115" fill="#fff" opacity="0.014"/><rect x="284.74" y="274" width="1.85" height="115" fill="#fff" opacity="0.007"/><rect x="273.77" y="274" width="1.06" height="115" fill="#fff" opacity="0.011"/><ellipse cx="290.4" cy="374" rx="24" ry="18" fill="url(#gr)" opacity="0.035"/><line x1="290.4" y1="362" x2="272.4" y2="389" stroke="#fff" stroke-width="2.16" opacity="0.035"/><line x1="290.4" y1="362" x2="308.4" y2="389" stroke="#fff" stroke-width="2.16" opacity="0.035"/><line x1="290.4" y1="366" x2="279.6" y2="389" stroke="#fff" stroke-width="2.16" opacity="0.024"/><line x1="290.4" y1="366" x2="301.2" y2="389" stroke="#fff" stroke-width="2.16" opacity="0.024"/><rect x="243.78" y="274" width="93.25" height="3.04" fill="url(#gx)" opacity="0.030"/><rect x="244.13" y="277" width="92.54" height="3.04" fill="url(#gx)" opacity="0.031"/><rect x="244.49" y="280" width="91.83" height="3.04" fill="url(#gx)" opacity="0.031"/><rect x="244.84" y="283" width="91.12" height="3.04" fill="url(#gx)" opacity="0.032"/><rect x="245.2" y="286" width="90.41" height="3.04" fill="url(#gx)" opacity="0.032"/><rect x="245.55" y="289" width="89.7" height="3.04" fill="url(#gx)" opacity="0.033"/><rect x="245.9" y="292" width="88.99" height="3.04" fill="url(#gx)" opacity="0.033"/><rect x="246.26" y="295" width="88.28" height="3.04" fill="url(#gx)" opacity="0.033"/><rect x="246.61" y="298" width="87.57" height="3.04" fill="url(#gx)" opacity="0.034"/><rect x="246.97" y="301" width="86.86" height="3.04" fill="url(#gx)" opacity="0.034"/><rect x="247.32" y="304" width="86.15" height="3.04" fill="url(#gx)" opacity="0.035"/><rect x="247.68" y="307" width="85.45" height="3.04" fill="url(#gx)" opacity="0.035"/><rect x="248.03" y="310" width="84.74" height="3.04" fill="url(#gx)" opacity="0.036"/><rect x="248.39" y="313" width="84.03" height="3.04" fill="url(#gx)" opacity="0.036"/><rect x="248.74" y="316" width="83.32" height="3.04" fill="url(#gx)" opacity="0.037"/><rect x="249.1" y="319" width="82.61" height="3.04" fill="url(#gx)" opacity="0.037"/><rect x="249.45" y="322" width="81.9" height="3.04" fill="url(#gx)" opacity="0.037"/><rect x="249.8" y="325" width="81.19" height="3.04" fill="url(#gx)" opacity="0.038"/><rect x="250.16" y="328" width="80.48" height="3.04" fill="url(#gx)" opacity="0.038"/><rect x="250.51" y="331" width="79.77" height="3.04" fill="url(#gx)" opacity="0.039"/><rect x="250.87" y="334" width="79.06" height="3.04" fill="url(#gx)" opacity="0.039"/><rect x="251.22" y="337" width="78.35" height="3.04" fill="url(#gx)" opacity="0.040"/><rect x="251.4" y="340" width="78" height="3.04" fill="url(#gx)" opacity="0.039"/><rect x="251.4" y="343" width="78" height="3.04" fill="url(#gx)" opacity="0.038"/><rect x="251.4" y="346" width="78" height="3.04" fill="url(#gx)" opacity="0.037"/><rect x="251.4" y="349" width="78" height="3.04" fill="url(#gx)" opacity="0.036"/><rect x="251.4" y="352" width="78" height="3.04" fill="url(#gx)" opacity="0.034"/><rect x="251.4" y="355" width="78" height="3.04" fill="url(#gx)" opacity="0.033"/><rect x="251.4" y="358" width="78" height="3.04" fill="url(#gx)" opacity="0.032"/><rect x="251.4" y="361" width="78" height="3.04" fill="url(#gx)" opacity="0.031"/><rect x="251.4" y="364" width="78" height="3.04" fill="url(#gx)" opacity="0.030"/><rect x="251.4" y="367" width="78" height="3.04" fill="url(#gx)" opacity="0.028"/><rect x="251.4" y="370" width="78" height="3.04" fill="url(#gx)" opacity="0.027"/><rect x="251.4" y="373" width="78" height="3.04" fill="url(#gx)" opacity="0.026"/><rect x="251.4" y="376" width="78" height="3.04" fill="url(#gx)" opacity="0.025"/><rect x="251.4" y="379" width="78" height="3.04" fill="url(#gx)" opacity="0.023"/><rect x="251.4" y="382" width="78" height="3.04" fill="url(#gx)" opacity="0.022"/><rect x="251.4" y="385" width="78" height="3.04" fill="url(#gx)" opacity="0.021"/><rect x="251.4" y="388" width="78" height="1.04" fill="url(#gx)" opacity="0.020"/><rect x="263.92" y="274" width="52.95" height="1.04" fill="url(#gx)" opacity="0.070"/><rect x="264.01" y="275" width="52.77" height="1.04" fill="url(#gx)" opacity="0.071"/><rect x="264.1" y="276" width="52.59" height="1.04" fill="url(#gx)" opacity="0.072"/><rect x="264.19" y="277" width="52.41" height="1.04" fill="url(#gx)" opacity="0.073"/><rect x="264.28" y="278" width="52.23" height="1.04" fill="url(#gx)" opacity="0.073"/><rect x="264.38" y="279" width="52.05" height="1.04" fill="url(#gx)" opacity="0.074"/><rect x="264.46" y="280" width="51.87" height="1.04" fill="url(#gx)" opacity="0.075"/><rect x="264.55" y="281" width="51.69" height="1.04" fill="url(#gx)" opacity="0.076"/><rect x="264.64" y="282" width="51.51" height="1.04" fill="url(#gx)" opacity="0.077"/><rect x="264.73" y="283" width="51.33" height="1.04" fill="url(#gx)" opacity="0.077"/><rect x="264.82" y="284" width="51.15" height="1.04" fill="url(#gx)" opacity="0.078"/><rect x="264.91" y="285" width="50.97" height="1.04" fill="url(#gx)" opacity="0.079"/><rect x="265" y="286" width="50.79" height="1.04" fill="url(#gx)" opacity="0.080"/><rect x="265.09" y="287" width="50.61" height="1.04" fill="url(#gx)" opacity="0.080"/><rect x="265.18" y="288" width="50.43" height="1.04" fill="url(#gx)" opacity="0.081"/><rect x="265.27" y="289" width="50.25" height="1.04" fill="url(#gx)" opacity="0.082"/><rect x="265.36" y="290" width="50.07" height="1.04" fill="url(#gx)" opacity="0.083"/><rect x="265.45" y="291" width="49.89" height="1.04" fill="url(#gx)" opacity="0.083"/><rect x="265.54" y="292" width="49.71" height="1.04" fill="url(#gx)" opacity="0.084"/><rect x="265.63" y="293" width="49.53" height="1.04" fill="url(#gx)" opacity="0.085"/><rect x="265.72" y="294" width="49.35" height="1.04" fill="url(#gx)" opacity="0.086"/><rect x="265.81" y="295" width="49.17" height="1.04" fill="url(#gx)" opacity="0.087"/><rect x="265.9" y="296" width="48.99" height="1.04" fill="url(#gx)" opacity="0.087"/><rect x="266" y="297" width="48.81" height="1.04" fill="url(#gx)" opacity="0.088"/><rect x="266.08" y="298" width="48.63" height="1.04" fill="url(#gx)" opacity="0.089"/><rect x="266.17" y="299" width="48.45" height="1.04" fill="url(#gx)" opacity="0.090"/><rect x="266.3" y="300" width="48.21" height="1.04" fill="url(#gx)" opacity="0.091"/><rect x="266.45" y="301" width="47.91" height="1.04" fill="url(#gx)" opacity="0.094"/><rect x="266.6" y="302" width="47.61" height="1.04" fill="url(#gx)" opacity="0.096"/><rect x="266.75" y="303" width="47.3" height="1.04" fill="url(#gx)" opacity="0.099"/><rect x="266.9" y="304" width="47" height="1.04" fill="url(#gx)" opacity="0.102"/><rect x="267.05" y="305" width="46.7" height="1.04" fill="url(#gx)" opacity="0.104"/><rect x="267.2" y="306" width="46.4" height="1.04" fill="url(#gx)" opacity="0.107"/><rect x="267.35" y="307" width="46.1" height="1.04" fill="url(#gx)" opacity="0.109"/><rect x="267.5" y="308" width="45.79" height="1.04" fill="url(#gx)" opacity="0.112"/><rect x="267.65" y="309" width="45.49" height="1.04" fill="url(#gx)" opacity="0.115"/><rect x="267.81" y="310" width="45.19" height="1.04" fill="url(#gx)" opacity="0.117"/><rect x="267.96" y="311" width="44.89" height="1.04" fill="url(#gx)" opacity="0.120"/><rect x="268.11" y="312" width="44.59" height="1.04" fill="url(#gx)" opacity="0.122"/><rect x="268.26" y="313" width="44.28" height="1.04" fill="url(#gx)" opacity="0.125"/><rect x="268.41" y="314" width="43.98" height="1.04" fill="url(#gx)" opacity="0.127"/><rect x="268.56" y="315" width="43.68" height="1.04" fill="url(#gx)" opacity="0.130"/><rect x="268.81" y="316" width="43.19" height="1.04" fill="url(#gx)" opacity="0.137"/><rect x="269.05" y="317" width="42.69" height="1.04" fill="url(#gx)" opacity="0.145"/><rect x="269.3" y="318" width="42.2" height="1.04" fill="url(#gx)" opacity="0.152"/><rect x="269.55" y="319" width="41.71" height="1.04" fill="url(#gx)" opacity="0.159"/><rect x="269.79" y="320" width="41.22" height="1.04" fill="url(#gx)" opacity="0.167"/><rect x="270.04" y="321" width="40.72" height="1.04" fill="url(#gx)" opacity="0.174"/><rect x="270.28" y="322" width="40.23" height="1.04" fill="url(#gx)" opacity="0.182"/><rect x="270.53" y="323" width="39.74" height="1.04" fill="url(#gx)" opacity="0.189"/><rect x="270.78" y="324" width="39.25" height="1.04" fill="url(#gx)" opacity="0.196"/><rect x="270.98" y="325" width="38.84" height="1.04" fill="url(#gx)" opacity="0.205"/><rect x="271.13" y="326" width="38.53" height="1.04" fill="url(#gx)" opacity="0.215"/><rect x="271.29" y="327" width="38.22" height="1.04" fill="url(#gx)" opacity="0.225"/><rect x="271.45" y="328" width="37.91" height="1.04" fill="url(#gx)" opacity="0.235"/><rect x="271.6" y="329" width="37.6" height="1.04" fill="url(#gx)" opacity="0.245"/><rect x="271.88" y="330" width="37.05" height="1.04" fill="url(#gx)" opacity="0.269"/><rect x="272.26" y="331" width="36.27" height="1.04" fill="url(#gx)" opacity="0.306"/><rect x="272.65" y="332" width="35.49" height="1.04" fill="url(#gx)" opacity="0.344"/><rect x="273.04" y="333" width="34.71" height="1.04" fill="url(#gx)" opacity="0.381"/><rect x="273.31" y="334" width="34.18" height="1.04" fill="url(#gx)" opacity="0.409"/><rect x="273.45" y="335" width="33.89" height="1.04" fill="url(#gx)" opacity="0.427"/><rect x="273.59" y="336" width="33.61" height="1.04" fill="url(#gx)" opacity="0.445"/><rect x="273.74" y="337" width="33.33" height="1.04" fill="url(#gx)" opacity="0.464"/><rect x="273.88" y="338" width="33.04" height="1.04" fill="url(#gx)" opacity="0.482"/><rect x="274.02" y="339" width="32.76" height="1.04" fill="url(#gx)" opacity="0.500"/><rect x="274.28" y="340" width="32.24" height="1.04" fill="url(#gx)" opacity="0.540"/><rect x="274.54" y="341" width="31.72" height="1.04" fill="url(#gx)" opacity="0.580"/><rect x="274.8" y="342" width="31.2" height="1.04" fill="url(#gx)" opacity="0.620"/><rect x="275.26" y="343" width="30.28" height="1.04" fill="url(#gx)" opacity="0.696"/><rect x="275.58" y="344" width="29.64" height="1.04" fill="url(#gx)" opacity="0.770"/><rect x="275.58" y="345" width="29.64" height="1.04" fill="url(#gx)" opacity="0.837"/><rect x="275.68" y="346" width="29.45" height="1.04" fill="url(#gx)" opacity="0.881"/><rect x="275.87" y="347" width="29.06" height="1.04" fill="url(#gx)" opacity="0.904"/><rect x="276.07" y="348" width="28.67" height="1.04" fill="url(#gx)" opacity="0.926"/><rect x="276.26" y="349" width="28.28" height="1.04" fill="url(#gx)" opacity="0.949"/><rect x="276.36" y="350" width="28.08" height="1.04" fill="url(#gx)" opacity="0.955"/><rect x="276.36" y="351" width="28.08" height="1.04" fill="url(#gx)" opacity="0.945"/><rect x="276.36" y="352" width="28.08" height="1.04" fill="url(#gx)" opacity="0.935"/><rect x="276.36" y="353" width="28.08" height="1.04" fill="url(#gx)" opacity="0.914"/><rect x="276.36" y="354" width="28.08" height="1.04" fill="url(#gx)" opacity="0.882"/><rect x="276.36" y="355" width="28.08" height="1.04" fill="url(#gx)" opacity="0.850"/><rect x="276.1" y="356" width="28.6" height="1.04" fill="url(#gx)" opacity="0.773"/><rect x="275.84" y="357" width="29.12" height="1.04" fill="url(#gx)" opacity="0.697"/><rect x="275.58" y="358" width="29.64" height="1.04" fill="url(#gx)" opacity="0.620"/><rect x="275.24" y="359" width="30.32" height="1.04" fill="url(#gx)" opacity="0.516"/><rect x="274.9" y="360" width="31" height="1.04" fill="url(#gx)" opacity="0.411"/><rect x="274.34" y="361" width="32.11" height="1.04" fill="url(#gx)" opacity="0.342"/><rect x="273.69" y="362" width="33.41" height="1.04" fill="url(#gx)" opacity="0.288"/><rect x="273.07" y="363" width="34.65" height="1.04" fill="url(#gx)" opacity="0.237"/><rect x="272.52" y="364" width="35.77" height="1.04" fill="url(#gx)" opacity="0.194"/><rect x="271.96" y="365" width="36.88" height="1.04" fill="url(#gx)" opacity="0.151"/><rect x="271.75" y="366" width="37.3" height="1.04" fill="url(#gx)" opacity="0.128"/><rect x="271.88" y="367" width="37.03" height="1.04" fill="url(#gx)" opacity="0.125"/><rect x="272.02" y="368" width="36.76" height="1.04" fill="url(#gx)" opacity="0.121"/><rect x="272.15" y="369" width="36.49" height="1.04" fill="url(#gx)" opacity="0.118"/><rect x="272.29" y="370" width="36.22" height="1.04" fill="url(#gx)" opacity="0.114"/><rect x="272.43" y="371" width="35.95" height="1.04" fill="url(#gx)" opacity="0.111"/><rect x="272.56" y="372" width="35.68" height="1.04" fill="url(#gx)" opacity="0.107"/><rect x="272.7" y="373" width="35.41" height="1.04" fill="url(#gx)" opacity="0.104"/><rect x="272.83" y="374" width="35.13" height="1.04" fill="url(#gx)" opacity="0.100"/><rect x="272.97" y="375" width="34.86" height="1.04" fill="url(#gx)" opacity="0.097"/><rect x="273.1" y="376" width="34.59" height="1.04" fill="url(#gx)" opacity="0.093"/><rect x="273.24" y="377" width="34.32" height="1.04" fill="url(#gx)" opacity="0.090"/><rect x="273.38" y="378" width="34.05" height="1.04" fill="url(#gx)" opacity="0.087"/><rect x="273.51" y="379" width="33.78" height="1.04" fill="url(#gx)" opacity="0.083"/><rect x="273.65" y="380" width="33.51" height="1.04" fill="url(#gx)" opacity="0.080"/><rect x="273.78" y="381" width="33.23" height="1.04" fill="url(#gx)" opacity="0.076"/><rect x="273.92" y="382" width="32.96" height="1.04" fill="url(#gx)" opacity="0.073"/><rect x="274.05" y="383" width="32.69" height="1.04" fill="url(#gx)" opacity="0.069"/><rect x="274.19" y="384" width="32.42" height="1.04" fill="url(#gx)" opacity="0.066"/><rect x="274.33" y="385" width="32.15" height="1.04" fill="url(#gx)" opacity="0.062"/><rect x="274.46" y="386" width="31.88" height="1.04" fill="url(#gx)" opacity="0.059"/><rect x="274.6" y="387" width="31.61" height="1.04" fill="url(#gx)" opacity="0.055"/><rect x="274.73" y="388" width="31.34" height="1.04" fill="url(#gx)" opacity="0.052"/></g></g>
<g clip-path="url(#c12)"><g filter="url(#jet)"><rect x="322.5" y="271" width="66.5" height="121" fill="#fff" opacity="0.016"/><rect x="377.93" y="274" width="1.39" height="115" fill="#fff" opacity="0.006"/><rect x="328.02" y="274" width="1.36" height="115" fill="#fff" opacity="0.011"/><rect x="373.33" y="274" width="1.9" height="115" fill="#fff" opacity="0.008"/><rect x="332.73" y="274" width="1.46" height="115" fill="#fff" opacity="0.006"/><rect x="361.93" y="274" width="1.38" height="115" fill="#fff" opacity="0.008"/><rect x="356.79" y="274" width="2.07" height="115" fill="#fff" opacity="0.014"/><rect x="331.68" y="274" width="2.06" height="115" fill="#fff" opacity="0.015"/><rect x="359.32" y="274" width="1.89" height="115" fill="#fff" opacity="0.012"/><ellipse cx="355.4" cy="374" rx="24" ry="18" fill="url(#gr)" opacity="0.035"/><line x1="343" y1="274" x2="352.4" y2="330" stroke="#fff" stroke-width="2.2" opacity="0.022"/><line x1="367.8" y1="274" x2="358.4" y2="330" stroke="#fff" stroke-width="2.2" opacity="0.022"/><line x1="355.4" y1="362" x2="337.4" y2="389" stroke="#fff" stroke-width="2.16" opacity="0.035"/><line x1="355.4" y1="362" x2="373.4" y2="389" stroke="#fff" stroke-width="2.16" opacity="0.035"/><line x1="355.4" y1="366" x2="344.6" y2="389" stroke="#fff" stroke-width="2.16" opacity="0.024"/><line x1="355.4" y1="366" x2="366.2" y2="389" stroke="#fff" stroke-width="2.16" opacity="0.024"/><rect x="308.78" y="274" width="93.25" height="3.04" fill="url(#gx)" opacity="0.040"/><rect x="309.13" y="277" width="92.54" height="3.04" fill="url(#gx)" opacity="0.041"/><rect x="309.49" y="280" width="91.83" height="3.04" fill="url(#gx)" opacity="0.041"/><rect x="309.84" y="283" width="91.12" height="3.04" fill="url(#gx)" opacity="0.042"/><rect x="310.2" y="286" width="90.41" height="3.04" fill="url(#gx)" opacity="0.042"/><rect x="310.55" y="289" width="89.7" height="3.04" fill="url(#gx)" opacity="0.043"/><rect x="310.9" y="292" width="88.99" height="3.04" fill="url(#gx)" opacity="0.043"/><rect x="311.26" y="295" width="88.28" height="3.04" fill="url(#gx)" opacity="0.043"/><rect x="311.61" y="298" width="87.57" height="3.04" fill="url(#gx)" opacity="0.044"/><rect x="311.97" y="301" width="86.86" height="3.04" fill="url(#gx)" opacity="0.044"/><rect x="312.32" y="304" width="86.15" height="3.04" fill="url(#gx)" opacity="0.045"/><rect x="312.68" y="307" width="85.45" height="3.04" fill="url(#gx)" opacity="0.045"/><rect x="313.03" y="310" width="84.74" height="3.04" fill="url(#gx)" opacity="0.046"/><rect x="313.39" y="313" width="84.03" height="3.04" fill="url(#gx)" opacity="0.046"/><rect x="313.74" y="316" width="83.32" height="3.04" fill="url(#gx)" opacity="0.047"/><rect x="314.1" y="319" width="82.61" height="3.04" fill="url(#gx)" opacity="0.047"/><rect x="314.45" y="322" width="81.9" height="3.04" fill="url(#gx)" opacity="0.048"/><rect x="314.8" y="325" width="81.19" height="3.04" fill="url(#gx)" opacity="0.048"/><rect x="315.16" y="328" width="80.48" height="3.04" fill="url(#gx)" opacity="0.048"/><rect x="315.51" y="331" width="79.77" height="3.04" fill="url(#gx)" opacity="0.049"/><rect x="315.87" y="334" width="79.06" height="3.04" fill="url(#gx)" opacity="0.049"/><rect x="316.22" y="337" width="78.35" height="3.04" fill="url(#gx)" opacity="0.050"/><rect x="316.4" y="340" width="78" height="3.04" fill="url(#gx)" opacity="0.049"/><rect x="316.4" y="343" width="78" height="3.04" fill="url(#gx)" opacity="0.047"/><rect x="316.4" y="346" width="78" height="3.04" fill="url(#gx)" opacity="0.045"/><rect x="316.4" y="349" width="78" height="3.04" fill="url(#gx)" opacity="0.044"/><rect x="316.4" y="352" width="78" height="3.04" fill="url(#gx)" opacity="0.042"/><rect x="316.4" y="355" width="78" height="3.04" fill="url(#gx)" opacity="0.040"/><rect x="316.4" y="358" width="78" height="3.04" fill="url(#gx)" opacity="0.038"/><rect x="316.4" y="361" width="78" height="3.04" fill="url(#gx)" opacity="0.036"/><rect x="316.4" y="364" width="78" height="3.04" fill="url(#gx)" opacity="0.034"/><rect x="316.4" y="367" width="78" height="3.04" fill="url(#gx)" opacity="0.033"/><rect x="316.4" y="370" width="78" height="3.04" fill="url(#gx)" opacity="0.031"/><rect x="316.4" y="373" width="78" height="3.04" fill="url(#gx)" opacity="0.029"/><rect x="316.4" y="376" width="78" height="3.04" fill="url(#gx)" opacity="0.027"/><rect x="316.4" y="379" width="78" height="3.04" fill="url(#gx)" opacity="0.025"/><rect x="316.4" y="382" width="78" height="3.04" fill="url(#gx)" opacity="0.023"/><rect x="316.4" y="385" width="78" height="3.04" fill="url(#gx)" opacity="0.022"/><rect x="316.4" y="388" width="78" height="1.04" fill="url(#gx)" opacity="0.020"/><rect x="330.47" y="274" width="49.86" height="1.04" fill="url(#gx)" opacity="0.100"/><rect x="330.53" y="275" width="49.74" height="1.04" fill="url(#gx)" opacity="0.101"/><rect x="330.59" y="276" width="49.62" height="1.04" fill="url(#gx)" opacity="0.102"/><rect x="330.65" y="277" width="49.5" height="1.04" fill="url(#gx)" opacity="0.103"/><rect x="330.71" y="278" width="49.38" height="1.04" fill="url(#gx)" opacity="0.103"/><rect x="330.77" y="279" width="49.26" height="1.04" fill="url(#gx)" opacity="0.104"/><rect x="330.83" y="280" width="49.14" height="1.04" fill="url(#gx)" opacity="0.105"/><rect x="330.89" y="281" width="49.02" height="1.04" fill="url(#gx)" opacity="0.106"/><rect x="330.95" y="282" width="48.9" height="1.04" fill="url(#gx)" opacity="0.107"/><rect x="331.01" y="283" width="48.78" height="1.04" fill="url(#gx)" opacity="0.107"/><rect x="331.07" y="284" width="48.66" height="1.04" fill="url(#gx)" opacity="0.108"/><rect x="331.13" y="285" width="48.54" height="1.04" fill="url(#gx)" opacity="0.109"/><rect x="331.19" y="286" width="48.42" height="1.04" fill="url(#gx)" opacity="0.110"/><rect x="331.25" y="287" width="48.3" height="1.04" fill="url(#gx)" opacity="0.110"/><rect x="331.31" y="288" width="48.18" height="1.04" fill="url(#gx)" opacity="0.111"/><rect x="331.37" y="289" width="48.06" height="1.04" fill="url(#gx)" opacity="0.112"/><rect x="331.43" y="290" width="47.94" height="1.04" fill="url(#gx)" opacity="0.113"/><rect x="331.49" y="291" width="47.82" height="1.04" fill="url(#gx)" opacity="0.113"/><rect x="331.55" y="292" width="47.7" height="1.04" fill="url(#gx)" opacity="0.114"/><rect x="331.61" y="293" width="47.58" height="1.04" fill="url(#gx)" opacity="0.115"/><rect x="331.67" y="294" width="47.46" height="1.04" fill="url(#gx)" opacity="0.116"/><rect x="331.73" y="295" width="47.34" height="1.04" fill="url(#gx)" opacity="0.117"/><rect x="331.79" y="296" width="47.22" height="1.04" fill="url(#gx)" opacity="0.117"/><rect x="331.85" y="297" width="47.1" height="1.04" fill="url(#gx)" opacity="0.118"/><rect x="331.91" y="298" width="46.98" height="1.04" fill="url(#gx)" opacity="0.119"/><rect x="331.97" y="299" width="46.86" height="1.04" fill="url(#gx)" opacity="0.120"/><rect x="332.06" y="300" width="46.67" height="1.04" fill="url(#gx)" opacity="0.122"/><rect x="332.19" y="301" width="46.41" height="1.04" fill="url(#gx)" opacity="0.125"/><rect x="332.32" y="302" width="46.15" height="1.04" fill="url(#gx)" opacity="0.128"/><rect x="332.45" y="303" width="45.89" height="1.04" fill="url(#gx)" opacity="0.132"/><rect x="332.58" y="304" width="45.63" height="1.04" fill="url(#gx)" opacity="0.135"/><rect x="332.71" y="305" width="45.37" height="1.04" fill="url(#gx)" opacity="0.138"/><rect x="332.84" y="306" width="45.11" height="1.04" fill="url(#gx)" opacity="0.142"/><rect x="332.97" y="307" width="44.85" height="1.04" fill="url(#gx)" opacity="0.145"/><rect x="333.1" y="308" width="44.59" height="1.04" fill="url(#gx)" opacity="0.148"/><rect x="333.23" y="309" width="44.33" height="1.04" fill="url(#gx)" opacity="0.152"/><rect x="333.36" y="310" width="44.07" height="1.04" fill="url(#gx)" opacity="0.155"/><rect x="333.5" y="311" width="43.81" height="1.04" fill="url(#gx)" opacity="0.158"/><rect x="333.69" y="312" width="43.42" height="1.04" fill="url(#gx)" opacity="0.168"/><rect x="333.95" y="313" width="42.9" height="1.04" fill="url(#gx)" opacity="0.182"/><rect x="334.21" y="314" width="42.38" height="1.04" fill="url(#gx)" opacity="0.198"/><rect x="334.47" y="315" width="41.86" height="1.04" fill="url(#gx)" opacity="0.212"/><rect x="334.73" y="316" width="41.34" height="1.04" fill="url(#gx)" opacity="0.228"/><rect x="334.99" y="317" width="40.82" height="1.04" fill="url(#gx)" opacity="0.242"/><rect x="335.22" y="318" width="40.37" height="1.04" fill="url(#gx)" opacity="0.258"/><rect x="335.41" y="319" width="39.98" height="1.04" fill="url(#gx)" opacity="0.274"/><rect x="335.61" y="320" width="39.59" height="1.04" fill="url(#gx)" opacity="0.291"/><rect x="335.8" y="321" width="39.2" height="1.04" fill="url(#gx)" opacity="0.307"/><rect x="336" y="322" width="38.8" height="1.04" fill="url(#gx)" opacity="0.323"/><rect x="336.19" y="323" width="38.41" height="1.04" fill="url(#gx)" opacity="0.339"/><rect x="336.39" y="324" width="38.03" height="1.04" fill="url(#gx)" opacity="0.356"/><rect x="336.58" y="325" width="37.64" height="1.04" fill="url(#gx)" opacity="0.372"/><rect x="336.84" y="326" width="37.13" height="1.04" fill="url(#gx)" opacity="0.392"/><rect x="337.15" y="327" width="36.5" height="1.04" fill="url(#gx)" opacity="0.416"/><rect x="337.46" y="328" width="35.88" height="1.04" fill="url(#gx)" opacity="0.440"/><rect x="337.77" y="329" width="35.26" height="1.04" fill="url(#gx)" opacity="0.464"/><rect x="338.08" y="330" width="34.63" height="1.04" fill="url(#gx)" opacity="0.488"/><rect x="338.35" y="331" width="34.11" height="1.04" fill="url(#gx)" opacity="0.516"/><rect x="338.56" y="332" width="33.69" height="1.04" fill="url(#gx)" opacity="0.549"/><rect x="338.77" y="333" width="33.27" height="1.04" fill="url(#gx)" opacity="0.581"/><rect x="338.98" y="334" width="32.84" height="1.04" fill="url(#gx)" opacity="0.614"/><rect x="339.24" y="335" width="32.31" height="1.04" fill="url(#gx)" opacity="0.657"/><rect x="339.52" y="336" width="31.76" height="1.04" fill="url(#gx)" opacity="0.704"/><rect x="339.8" y="337" width="31.2" height="1.04" fill="url(#gx)" opacity="0.750"/><rect x="339.8" y="338" width="31.2" height="1.04" fill="url(#gx)" opacity="0.798"/><rect x="339.8" y="339" width="31.2" height="1.04" fill="url(#gx)" opacity="0.846"/><rect x="339.8" y="340" width="31.2" height="1.04" fill="url(#gx)" opacity="0.878"/><rect x="339.8" y="341" width="31.2" height="1.04" fill="url(#gx)" opacity="0.895"/><rect x="339.8" y="342" width="31.2" height="1.04" fill="url(#gx)" opacity="0.912"/><rect x="339.8" y="343" width="31.2" height="1.04" fill="url(#gx)" opacity="0.928"/><rect x="339.8" y="344" width="31.2" height="1.04" fill="url(#gx)" opacity="0.945"/><rect x="339.8" y="345" width="31.2" height="1.04" fill="url(#gx)" opacity="0.962"/><rect x="339.8" y="346" width="31.2" height="1.04" fill="url(#gx)" opacity="0.966"/><rect x="339.8" y="347" width="31.2" height="1.04" fill="url(#gx)" opacity="0.958"/><rect x="339.8" y="348" width="31.2" height="1.04" fill="url(#gx)" opacity="0.950"/><rect x="339.8" y="349" width="31.2" height="1.04" fill="url(#gx)" opacity="0.942"/><rect x="339.8" y="350" width="31.2" height="1.04" fill="url(#gx)" opacity="0.934"/><rect x="339.8" y="351" width="31.2" height="1.04" fill="url(#gx)" opacity="0.917"/><rect x="339.8" y="352" width="31.2" height="1.04" fill="url(#gx)" opacity="0.890"/><rect x="339.8" y="353" width="31.2" height="1.04" fill="url(#gx)" opacity="0.863"/><rect x="339.67" y="354" width="31.46" height="1.04" fill="url(#gx)" opacity="0.812"/><rect x="339.41" y="355" width="31.98" height="1.04" fill="url(#gx)" opacity="0.735"/><rect x="339.15" y="356" width="32.5" height="1.04" fill="url(#gx)" opacity="0.658"/><rect x="338.71" y="357" width="33.38" height="1.04" fill="url(#gx)" opacity="0.572"/><rect x="338.08" y="358" width="34.63" height="1.04" fill="url(#gx)" opacity="0.476"/><rect x="337.46" y="359" width="35.88" height="1.04" fill="url(#gx)" opacity="0.380"/><rect x="336.68" y="360" width="37.44" height="1.04" fill="url(#gx)" opacity="0.315"/><rect x="335.9" y="361" width="39" height="1.04" fill="url(#gx)" opacity="0.250"/><rect x="334.96" y="362" width="40.87" height="1.04" fill="url(#gx)" opacity="0.198"/><rect x="334.03" y="363" width="42.74" height="1.04" fill="url(#gx)" opacity="0.146"/><rect x="333.68" y="364" width="43.43" height="1.04" fill="url(#gx)" opacity="0.119"/><rect x="333.93" y="365" width="42.93" height="1.04" fill="url(#gx)" opacity="0.116"/><rect x="334.18" y="366" width="42.43" height="1.04" fill="url(#gx)" opacity="0.113"/><rect x="334.43" y="367" width="41.93" height="1.04" fill="url(#gx)" opacity="0.110"/><rect x="334.68" y="368" width="41.43" height="1.04" fill="url(#gx)" opacity="0.107"/><rect x="334.93" y="369" width="40.93" height="1.04" fill="url(#gx)" opacity="0.105"/><rect x="335.18" y="370" width="40.44" height="1.04" fill="url(#gx)" opacity="0.102"/><rect x="335.43" y="371" width="39.94" height="1.04" fill="url(#gx)" opacity="0.099"/><rect x="335.68" y="372" width="39.44" height="1.04" fill="url(#gx)" opacity="0.096"/><rect x="335.93" y="373" width="38.94" height="1.04" fill="url(#gx)" opacity="0.093"/><rect x="336.18" y="374" width="38.44" height="1.04" fill="url(#gx)" opacity="0.091"/><rect x="336.43" y="375" width="37.94" height="1.04" fill="url(#gx)" opacity="0.088"/><rect x="336.68" y="376" width="37.44" height="1.04" fill="url(#gx)" opacity="0.085"/><rect x="336.93" y="377" width="36.94" height="1.04" fill="url(#gx)" opacity="0.082"/><rect x="337.18" y="378" width="36.44" height="1.04" fill="url(#gx)" opacity="0.079"/><rect x="337.43" y="379" width="35.94" height="1.04" fill="url(#gx)" opacity="0.077"/><rect x="337.68" y="380" width="35.44" height="1.04" fill="url(#gx)" opacity="0.074"/><rect x="337.93" y="381" width="34.94" height="1.04" fill="url(#gx)" opacity="0.071"/><rect x="338.18" y="382" width="34.44" height="1.04" fill="url(#gx)" opacity="0.068"/><rect x="338.43" y="383" width="33.95" height="1.04" fill="url(#gx)" opacity="0.065"/><rect x="338.68" y="384" width="33.45" height="1.04" fill="url(#gx)" opacity="0.063"/><rect x="338.93" y="385" width="32.95" height="1.04" fill="url(#gx)" opacity="0.060"/><rect x="339.18" y="386" width="32.45" height="1.04" fill="url(#gx)" opacity="0.057"/><rect x="339.43" y="387" width="31.95" height="1.04" fill="url(#gx)" opacity="0.054"/><rect x="339.68" y="388" width="31.45" height="1.04" fill="url(#gx)" opacity="0.051"/><ellipse cx="355.4" cy="364.4" rx="2.1" ry="2.4" fill="url(#gr)" opacity="0.120"/><ellipse cx="355.4" cy="369.7" rx="2.4" ry="2.7" fill="url(#gr)" opacity="0.220"/><ellipse cx="355.4" cy="377.4" rx="1.8" ry="2.1" fill="url(#gr)" opacity="0.160"/></g></g>
<g clip-path="url(#c13)"><g filter="url(#jet)"><rect x="387" y="271" width="67" height="121" fill="#fff" opacity="0.016"/><rect x="430.34" y="274" width="1.49" height="115" fill="#fff" opacity="0.007"/><rect x="442.64" y="274" width="2.17" height="115" fill="#fff" opacity="0.006"/><rect x="421.76" y="274" width="2.45" height="115" fill="#fff" opacity="0.005"/><rect x="446.75" y="274" width="1.56" height="115" fill="#fff" opacity="0.006"/><rect x="412.94" y="274" width="1.26" height="115" fill="#fff" opacity="0.005"/><rect x="427.84" y="274" width="2.5" height="115" fill="#fff" opacity="0.012"/><rect x="392.51" y="274" width="2.15" height="115" fill="#fff" opacity="0.007"/><rect x="399.83" y="274" width="1.48" height="115" fill="#fff" opacity="0.014"/><ellipse cx="420.8" cy="374" rx="24" ry="18" fill="url(#gr)" opacity="0.035"/><line x1="407.8" y1="274" x2="417.8" y2="330" stroke="#fff" stroke-width="2.2" opacity="0.022"/><line x1="433.8" y1="274" x2="423.8" y2="330" stroke="#fff" stroke-width="2.2" opacity="0.022"/><line x1="420.8" y1="360" x2="402.8" y2="389" stroke="#fff" stroke-width="2.16" opacity="0.035"/><line x1="420.8" y1="360" x2="438.8" y2="389" stroke="#fff" stroke-width="2.16" opacity="0.035"/><line x1="420.8" y1="364" x2="410" y2="389" stroke="#fff" stroke-width="2.16" opacity="0.024"/><line x1="420.8" y1="364" x2="431.6" y2="389" stroke="#fff" stroke-width="2.16" opacity="0.024"/><rect x="366.38" y="274" width="108.85" height="3.04" fill="url(#gx)" opacity="0.060"/><rect x="366.73" y="277" width="108.14" height="3.04" fill="url(#gx)" opacity="0.061"/><rect x="367.09" y="280" width="107.43" height="3.04" fill="url(#gx)" opacity="0.061"/><rect x="367.44" y="283" width="106.72" height="3.04" fill="url(#gx)" opacity="0.062"/><rect x="367.8" y="286" width="106.01" height="3.04" fill="url(#gx)" opacity="0.062"/><rect x="368.15" y="289" width="105.3" height="3.04" fill="url(#gx)" opacity="0.062"/><rect x="368.5" y="292" width="104.59" height="3.04" fill="url(#gx)" opacity="0.063"/><rect x="368.86" y="295" width="103.88" height="3.04" fill="url(#gx)" opacity="0.063"/><rect x="369.21" y="298" width="103.17" height="3.04" fill="url(#gx)" opacity="0.064"/><rect x="369.57" y="301" width="102.46" height="3.04" fill="url(#gx)" opacity="0.064"/><rect x="369.92" y="304" width="101.75" height="3.04" fill="url(#gx)" opacity="0.065"/><rect x="370.28" y="307" width="101.05" height="3.04" fill="url(#gx)" opacity="0.065"/><rect x="370.63" y="310" width="100.34" height="3.04" fill="url(#gx)" opacity="0.066"/><rect x="370.99" y="313" width="99.63" height="3.04" fill="url(#gx)" opacity="0.066"/><rect x="371.34" y="316" width="98.92" height="3.04" fill="url(#gx)" opacity="0.067"/><rect x="371.7" y="319" width="98.21" height="3.04" fill="url(#gx)" opacity="0.067"/><rect x="372.05" y="322" width="97.5" height="3.04" fill="url(#gx)" opacity="0.068"/><rect x="372.4" y="325" width="96.79" height="3.04" fill="url(#gx)" opacity="0.068"/><rect x="372.76" y="328" width="96.08" height="3.04" fill="url(#gx)" opacity="0.068"/><rect x="373.11" y="331" width="95.37" height="3.04" fill="url(#gx)" opacity="0.069"/><rect x="373.47" y="334" width="94.66" height="3.04" fill="url(#gx)" opacity="0.069"/><rect x="373.82" y="337" width="93.95" height="3.04" fill="url(#gx)" opacity="0.070"/><rect x="374" y="340" width="93.6" height="3.04" fill="url(#gx)" opacity="0.068"/><rect x="374" y="343" width="93.6" height="3.04" fill="url(#gx)" opacity="0.065"/><rect x="374" y="346" width="93.6" height="3.04" fill="url(#gx)" opacity="0.062"/><rect x="374" y="349" width="93.6" height="3.04" fill="url(#gx)" opacity="0.059"/><rect x="374" y="352" width="93.6" height="3.04" fill="url(#gx)" opacity="0.056"/><rect x="374" y="355" width="93.6" height="3.04" fill="url(#gx)" opacity="0.053"/><rect x="374" y="358" width="93.6" height="3.04" fill="url(#gx)" opacity="0.050"/><rect x="374" y="361" width="93.6" height="3.04" fill="url(#gx)" opacity="0.047"/><rect x="374" y="364" width="93.6" height="3.04" fill="url(#gx)" opacity="0.044"/><rect x="374" y="367" width="93.6" height="3.04" fill="url(#gx)" opacity="0.041"/><rect x="374" y="370" width="93.6" height="3.04" fill="url(#gx)" opacity="0.038"/><rect x="374" y="373" width="93.6" height="3.04" fill="url(#gx)" opacity="0.035"/><rect x="374" y="376" width="93.6" height="3.04" fill="url(#gx)" opacity="0.032"/><rect x="374" y="379" width="93.6" height="3.04" fill="url(#gx)" opacity="0.029"/><rect x="374" y="382" width="93.6" height="3.04" fill="url(#gx)" opacity="0.026"/><rect x="374" y="385" width="93.6" height="3.04" fill="url(#gx)" opacity="0.023"/><rect x="374" y="388" width="93.6" height="1.04" fill="url(#gx)" opacity="0.021"/><rect x="394.35" y="274" width="52.9" height="1.04" fill="url(#gx)" opacity="0.121"/><rect x="394.49" y="275" width="52.61" height="1.04" fill="url(#gx)" opacity="0.123"/><rect x="394.63" y="276" width="52.33" height="1.04" fill="url(#gx)" opacity="0.125"/><rect x="394.78" y="277" width="52.05" height="1.04" fill="url(#gx)" opacity="0.126"/><rect x="394.92" y="278" width="51.76" height="1.04" fill="url(#gx)" opacity="0.128"/><rect x="395.06" y="279" width="51.48" height="1.04" fill="url(#gx)" opacity="0.130"/><rect x="395.2" y="280" width="51.2" height="1.04" fill="url(#gx)" opacity="0.132"/><rect x="395.34" y="281" width="50.91" height="1.04" fill="url(#gx)" opacity="0.134"/><rect x="395.49" y="282" width="50.63" height="1.04" fill="url(#gx)" opacity="0.135"/><rect x="395.63" y="283" width="50.35" height="1.04" fill="url(#gx)" opacity="0.137"/><rect x="395.77" y="284" width="50.06" height="1.04" fill="url(#gx)" opacity="0.139"/><rect x="395.92" y="285" width="49.76" height="1.04" fill="url(#gx)" opacity="0.143"/><rect x="396.07" y="286" width="49.45" height="1.04" fill="url(#gx)" opacity="0.148"/><rect x="396.23" y="287" width="49.14" height="1.04" fill="url(#gx)" opacity="0.153"/><rect x="396.39" y="288" width="48.83" height="1.04" fill="url(#gx)" opacity="0.159"/><rect x="396.54" y="289" width="48.52" height="1.04" fill="url(#gx)" opacity="0.164"/><rect x="396.7" y="290" width="48.2" height="1.04" fill="url(#gx)" opacity="0.169"/><rect x="396.85" y="291" width="47.89" height="1.04" fill="url(#gx)" opacity="0.175"/><rect x="397.01" y="292" width="47.58" height="1.04" fill="url(#gx)" opacity="0.180"/><rect x="397.17" y="293" width="47.27" height="1.04" fill="url(#gx)" opacity="0.185"/><rect x="397.32" y="294" width="46.96" height="1.04" fill="url(#gx)" opacity="0.191"/><rect x="397.48" y="295" width="46.64" height="1.04" fill="url(#gx)" opacity="0.196"/><rect x="397.63" y="296" width="46.33" height="1.04" fill="url(#gx)" opacity="0.201"/><rect x="397.79" y="297" width="46.02" height="1.04" fill="url(#gx)" opacity="0.207"/><rect x="397.95" y="298" width="45.71" height="1.04" fill="url(#gx)" opacity="0.212"/><rect x="398.1" y="299" width="45.4" height="1.04" fill="url(#gx)" opacity="0.217"/><rect x="398.28" y="300" width="45.05" height="1.04" fill="url(#gx)" opacity="0.225"/><rect x="398.47" y="301" width="44.66" height="1.04" fill="url(#gx)" opacity="0.236"/><rect x="398.67" y="302" width="44.27" height="1.04" fill="url(#gx)" opacity="0.247"/><rect x="398.86" y="303" width="43.88" height="1.04" fill="url(#gx)" opacity="0.258"/><rect x="399.06" y="304" width="43.49" height="1.04" fill="url(#gx)" opacity="0.269"/><rect x="399.25" y="305" width="43.1" height="1.04" fill="url(#gx)" opacity="0.280"/><rect x="399.45" y="306" width="42.7" height="1.04" fill="url(#gx)" opacity="0.290"/><rect x="399.64" y="307" width="42.32" height="1.04" fill="url(#gx)" opacity="0.301"/><rect x="399.84" y="308" width="41.93" height="1.04" fill="url(#gx)" opacity="0.312"/><rect x="400.03" y="309" width="41.54" height="1.04" fill="url(#gx)" opacity="0.323"/><rect x="400.23" y="310" width="41.15" height="1.04" fill="url(#gx)" opacity="0.334"/><rect x="400.42" y="311" width="40.76" height="1.04" fill="url(#gx)" opacity="0.345"/><rect x="400.65" y="312" width="40.3" height="1.04" fill="url(#gx)" opacity="0.362"/><rect x="400.91" y="313" width="39.78" height="1.04" fill="url(#gx)" opacity="0.387"/><rect x="401.17" y="314" width="39.26" height="1.04" fill="url(#gx)" opacity="0.412"/><rect x="401.43" y="315" width="38.74" height="1.04" fill="url(#gx)" opacity="0.438"/><rect x="401.69" y="316" width="38.22" height="1.04" fill="url(#gx)" opacity="0.463"/><rect x="401.95" y="317" width="37.7" height="1.04" fill="url(#gx)" opacity="0.488"/><rect x="402.28" y="318" width="37.05" height="1.04" fill="url(#gx)" opacity="0.515"/><rect x="402.67" y="319" width="36.27" height="1.04" fill="url(#gx)" opacity="0.545"/><rect x="403.06" y="320" width="35.49" height="1.04" fill="url(#gx)" opacity="0.575"/><rect x="403.44" y="321" width="34.71" height="1.04" fill="url(#gx)" opacity="0.605"/><rect x="403.74" y="322" width="34.12" height="1.04" fill="url(#gx)" opacity="0.636"/><rect x="403.93" y="323" width="33.74" height="1.04" fill="url(#gx)" opacity="0.669"/><rect x="404.13" y="324" width="33.35" height="1.04" fill="url(#gx)" opacity="0.701"/><rect x="404.32" y="325" width="32.96" height="1.04" fill="url(#gx)" opacity="0.734"/><rect x="404.55" y="326" width="32.5" height="1.04" fill="url(#gx)" opacity="0.770"/><rect x="404.81" y="327" width="31.98" height="1.04" fill="url(#gx)" opacity="0.810"/><rect x="405.07" y="328" width="31.46" height="1.04" fill="url(#gx)" opacity="0.850"/><rect x="405.23" y="329" width="31.14" height="1.04" fill="url(#gx)" opacity="0.877"/><rect x="405.28" y="330" width="31.03" height="1.04" fill="url(#gx)" opacity="0.891"/><rect x="405.34" y="331" width="30.92" height="1.04" fill="url(#gx)" opacity="0.906"/><rect x="405.39" y="332" width="30.81" height="1.04" fill="url(#gx)" opacity="0.920"/><rect x="405.45" y="333" width="30.7" height="1.04" fill="url(#gx)" opacity="0.934"/><rect x="405.51" y="334" width="30.59" height="1.04" fill="url(#gx)" opacity="0.949"/><rect x="405.56" y="335" width="30.48" height="1.04" fill="url(#gx)" opacity="0.963"/><rect x="405.59" y="336" width="30.42" height="1.04" fill="url(#gx)" opacity="0.969"/><rect x="405.59" y="337" width="30.42" height="1.04" fill="url(#gx)" opacity="0.968"/><rect x="405.59" y="338" width="30.42" height="1.04" fill="url(#gx)" opacity="0.967"/><rect x="405.59" y="339" width="30.42" height="1.04" fill="url(#gx)" opacity="0.966"/><rect x="405.59" y="340" width="30.42" height="1.04" fill="url(#gx)" opacity="0.964"/><rect x="405.59" y="341" width="30.42" height="1.04" fill="url(#gx)" opacity="0.963"/><rect x="405.59" y="342" width="30.42" height="1.04" fill="url(#gx)" opacity="0.962"/><rect x="405.59" y="343" width="30.42" height="1.04" fill="url(#gx)" opacity="0.961"/><rect x="405.59" y="344" width="30.42" height="1.04" fill="url(#gx)" opacity="0.952"/><rect x="405.59" y="345" width="30.42" height="1.04" fill="url(#gx)" opacity="0.935"/><rect x="405.59" y="346" width="30.42" height="1.04" fill="url(#gx)" opacity="0.919"/><rect x="405.59" y="347" width="30.42" height="1.04" fill="url(#gx)" opacity="0.903"/><rect x="405.59" y="348" width="30.42" height="1.04" fill="url(#gx)" opacity="0.886"/><rect x="405.59" y="349" width="30.42" height="1.04" fill="url(#gx)" opacity="0.870"/><rect x="405.12" y="350" width="31.36" height="1.04" fill="url(#gx)" opacity="0.770"/><rect x="404.65" y="351" width="32.29" height="1.04" fill="url(#gx)" opacity="0.670"/><rect x="404.13" y="352" width="33.35" height="1.04" fill="url(#gx)" opacity="0.590"/><rect x="403.54" y="353" width="34.52" height="1.04" fill="url(#gx)" opacity="0.530"/><rect x="402.96" y="354" width="35.69" height="1.04" fill="url(#gx)" opacity="0.470"/><rect x="402.37" y="355" width="36.86" height="1.04" fill="url(#gx)" opacity="0.410"/><rect x="401.61" y="356" width="38.38" height="1.04" fill="url(#gx)" opacity="0.354"/><rect x="400.68" y="357" width="40.25" height="1.04" fill="url(#gx)" opacity="0.302"/><rect x="399.74" y="358" width="42.12" height="1.04" fill="url(#gx)" opacity="0.250"/><rect x="398.8" y="359" width="43.99" height="1.04" fill="url(#gx)" opacity="0.198"/><rect x="397.87" y="360" width="45.86" height="1.04" fill="url(#gx)" opacity="0.146"/><rect x="397.54" y="361" width="46.52" height="1.04" fill="url(#gx)" opacity="0.119"/><rect x="397.82" y="362" width="45.96" height="1.04" fill="url(#gx)" opacity="0.116"/><rect x="398.1" y="363" width="45.41" height="1.04" fill="url(#gx)" opacity="0.114"/><rect x="398.38" y="364" width="44.85" height="1.04" fill="url(#gx)" opacity="0.111"/><rect x="398.65" y="365" width="44.29" height="1.04" fill="url(#gx)" opacity="0.109"/><rect x="398.93" y="366" width="43.74" height="1.04" fill="url(#gx)" opacity="0.106"/><rect x="399.21" y="367" width="43.18" height="1.04" fill="url(#gx)" opacity="0.104"/><rect x="399.49" y="368" width="42.62" height="1.04" fill="url(#gx)" opacity="0.101"/><rect x="399.77" y="369" width="42.06" height="1.04" fill="url(#gx)" opacity="0.099"/><rect x="400.05" y="370" width="41.51" height="1.04" fill="url(#gx)" opacity="0.096"/><rect x="400.32" y="371" width="40.95" height="1.04" fill="url(#gx)" opacity="0.094"/><rect x="400.6" y="372" width="40.39" height="1.04" fill="url(#gx)" opacity="0.091"/><rect x="400.88" y="373" width="39.84" height="1.04" fill="url(#gx)" opacity="0.089"/><rect x="401.16" y="374" width="39.28" height="1.04" fill="url(#gx)" opacity="0.086"/><rect x="401.44" y="375" width="38.72" height="1.04" fill="url(#gx)" opacity="0.084"/><rect x="401.72" y="376" width="38.16" height="1.04" fill="url(#gx)" opacity="0.081"/><rect x="402" y="377" width="37.61" height="1.04" fill="url(#gx)" opacity="0.079"/><rect x="402.28" y="378" width="37.05" height="1.04" fill="url(#gx)" opacity="0.076"/><rect x="402.55" y="379" width="36.49" height="1.04" fill="url(#gx)" opacity="0.074"/><rect x="402.83" y="380" width="35.94" height="1.04" fill="url(#gx)" opacity="0.071"/><rect x="403.11" y="381" width="35.38" height="1.04" fill="url(#gx)" opacity="0.069"/><rect x="403.39" y="382" width="34.82" height="1.04" fill="url(#gx)" opacity="0.066"/><rect x="403.67" y="383" width="34.26" height="1.04" fill="url(#gx)" opacity="0.064"/><rect x="403.95" y="384" width="33.71" height="1.04" fill="url(#gx)" opacity="0.061"/><rect x="404.23" y="385" width="33.15" height="1.04" fill="url(#gx)" opacity="0.059"/><rect x="404.5" y="386" width="32.59" height="1.04" fill="url(#gx)" opacity="0.056"/><rect x="404.78" y="387" width="32.04" height="1.04" fill="url(#gx)" opacity="0.054"/><rect x="405.06" y="388" width="31.48" height="1.04" fill="url(#gx)" opacity="0.051"/><ellipse cx="420.8" cy="362.6" rx="2.1" ry="2.4" fill="url(#gr)" opacity="0.120"/><ellipse cx="420.8" cy="369.1" rx="2.4" ry="2.7" fill="url(#gr)" opacity="0.250"/><ellipse cx="420.8" cy="377.4" rx="2.1" ry="2.1" fill="url(#gr)" opacity="0.180"/></g></g>
<g clip-path="url(#c14)"><g filter="url(#jet)"><rect x="452" y="271" width="67.3" height="121" fill="#fff" opacity="0.016"/><rect x="510.3" y="274" width="1.84" height="115" fill="#fff" opacity="0.011"/><rect x="506.03" y="274" width="1.3" height="115" fill="#fff" opacity="0.006"/><rect x="502.29" y="274" width="1.65" height="115" fill="#fff" opacity="0.009"/><rect x="503.04" y="274" width="2.18" height="115" fill="#fff" opacity="0.006"/><rect x="462.06" y="274" width="1.5" height="115" fill="#fff" opacity="0.011"/><rect x="508.81" y="274" width="1.92" height="115" fill="#fff" opacity="0.009"/><rect x="513.72" y="274" width="2.28" height="115" fill="#fff" opacity="0.013"/><rect x="508.68" y="274" width="1.12" height="115" fill="#fff" opacity="0.005"/><ellipse cx="485.8" cy="374" rx="24" ry="18" fill="url(#gr)" opacity="0.035"/><line x1="472.2" y1="274" x2="482.8" y2="330" stroke="#fff" stroke-width="2.2" opacity="0.022"/><line x1="499.4" y1="274" x2="488.8" y2="330" stroke="#fff" stroke-width="2.2" opacity="0.022"/><line x1="485.8" y1="360" x2="467.8" y2="389" stroke="#fff" stroke-width="2.16" opacity="0.035"/><line x1="485.8" y1="360" x2="503.8" y2="389" stroke="#fff" stroke-width="2.16" opacity="0.035"/><line x1="485.8" y1="364" x2="475" y2="389" stroke="#fff" stroke-width="2.16" opacity="0.024"/><line x1="485.8" y1="364" x2="496.6" y2="389" stroke="#fff" stroke-width="2.16" opacity="0.024"/><rect x="423.58" y="274" width="124.45" height="3.04" fill="url(#gx)" opacity="0.080"/><rect x="423.93" y="277" width="123.74" height="3.04" fill="url(#gx)" opacity="0.080"/><rect x="424.29" y="280" width="123.03" height="3.04" fill="url(#gx)" opacity="0.080"/><rect x="424.64" y="283" width="122.32" height="3.04" fill="url(#gx)" opacity="0.080"/><rect x="425" y="286" width="121.61" height="3.04" fill="url(#gx)" opacity="0.080"/><rect x="425.35" y="289" width="120.9" height="3.04" fill="url(#gx)" opacity="0.080"/><rect x="425.7" y="292" width="120.19" height="3.04" fill="url(#gx)" opacity="0.080"/><rect x="426.06" y="295" width="119.48" height="3.04" fill="url(#gx)" opacity="0.080"/><rect x="426.41" y="298" width="118.77" height="3.04" fill="url(#gx)" opacity="0.080"/><rect x="426.77" y="301" width="118.06" height="3.04" fill="url(#gx)" opacity="0.080"/><rect x="427.12" y="304" width="117.35" height="3.04" fill="url(#gx)" opacity="0.080"/><rect x="427.48" y="307" width="116.65" height="3.04" fill="url(#gx)" opacity="0.080"/><rect x="427.83" y="310" width="115.94" height="3.04" fill="url(#gx)" opacity="0.080"/><rect x="428.19" y="313" width="115.23" height="3.04" fill="url(#gx)" opacity="0.080"/><rect x="428.54" y="316" width="114.52" height="3.04" fill="url(#gx)" opacity="0.080"/><rect x="428.9" y="319" width="113.81" height="3.04" fill="url(#gx)" opacity="0.080"/><rect x="429.25" y="322" width="113.1" height="3.04" fill="url(#gx)" opacity="0.080"/><rect x="429.6" y="325" width="112.39" height="3.04" fill="url(#gx)" opacity="0.080"/><rect x="429.96" y="328" width="111.68" height="3.04" fill="url(#gx)" opacity="0.080"/><rect x="430.31" y="331" width="110.97" height="3.04" fill="url(#gx)" opacity="0.080"/><rect x="430.67" y="334" width="110.26" height="3.04" fill="url(#gx)" opacity="0.080"/><rect x="431.02" y="337" width="109.55" height="3.04" fill="url(#gx)" opacity="0.080"/><rect x="431.44" y="340" width="108.72" height="3.04" fill="url(#gx)" opacity="0.078"/><rect x="431.92" y="343" width="107.77" height="3.04" fill="url(#gx)" opacity="0.074"/><rect x="432.39" y="346" width="106.81" height="3.04" fill="url(#gx)" opacity="0.071"/><rect x="432.87" y="349" width="105.86" height="3.04" fill="url(#gx)" opacity="0.067"/><rect x="433.35" y="352" width="104.9" height="3.04" fill="url(#gx)" opacity="0.063"/><rect x="433.83" y="355" width="103.95" height="3.04" fill="url(#gx)" opacity="0.060"/><rect x="434.3" y="358" width="102.99" height="3.04" fill="url(#gx)" opacity="0.056"/><rect x="434.78" y="361" width="102.04" height="3.04" fill="url(#gx)" opacity="0.052"/><rect x="435.26" y="364" width="101.08" height="3.04" fill="url(#gx)" opacity="0.049"/><rect x="435.74" y="367" width="100.13" height="3.04" fill="url(#gx)" opacity="0.045"/><rect x="436.21" y="370" width="99.17" height="3.04" fill="url(#gx)" opacity="0.041"/><rect x="436.69" y="373" width="98.22" height="3.04" fill="url(#gx)" opacity="0.038"/><rect x="437.17" y="376" width="97.26" height="3.04" fill="url(#gx)" opacity="0.034"/><rect x="437.65" y="379" width="96.31" height="3.04" fill="url(#gx)" opacity="0.030"/><rect x="438.12" y="382" width="95.35" height="3.04" fill="url(#gx)" opacity="0.027"/><rect x="438.6" y="385" width="94.4" height="3.04" fill="url(#gx)" opacity="0.023"/><rect x="438.92" y="388" width="93.76" height="1.04" fill="url(#gx)" opacity="0.021"/><rect x="456.23" y="274" width="59.14" height="1.04" fill="url(#gx)" opacity="0.171"/><rect x="456.37" y="275" width="58.85" height="1.04" fill="url(#gx)" opacity="0.174"/><rect x="456.51" y="276" width="58.57" height="1.04" fill="url(#gx)" opacity="0.177"/><rect x="456.66" y="277" width="58.29" height="1.04" fill="url(#gx)" opacity="0.180"/><rect x="456.8" y="278" width="58" height="1.04" fill="url(#gx)" opacity="0.182"/><rect x="456.94" y="279" width="57.72" height="1.04" fill="url(#gx)" opacity="0.185"/><rect x="457.08" y="280" width="57.44" height="1.04" fill="url(#gx)" opacity="0.188"/><rect x="457.22" y="281" width="57.15" height="1.04" fill="url(#gx)" opacity="0.190"/><rect x="457.37" y="282" width="56.87" height="1.04" fill="url(#gx)" opacity="0.193"/><rect x="457.51" y="283" width="56.59" height="1.04" fill="url(#gx)" opacity="0.196"/><rect x="457.65" y="284" width="56.3" height="1.04" fill="url(#gx)" opacity="0.199"/><rect x="457.84" y="285" width="55.93" height="1.04" fill="url(#gx)" opacity="0.204"/><rect x="458.07" y="286" width="55.46" height="1.04" fill="url(#gx)" opacity="0.211"/><rect x="458.31" y="287" width="54.99" height="1.04" fill="url(#gx)" opacity="0.218"/><rect x="458.54" y="288" width="54.52" height="1.04" fill="url(#gx)" opacity="0.225"/><rect x="458.77" y="289" width="54.05" height="1.04" fill="url(#gx)" opacity="0.232"/><rect x="459.01" y="290" width="53.59" height="1.04" fill="url(#gx)" opacity="0.239"/><rect x="459.24" y="291" width="53.12" height="1.04" fill="url(#gx)" opacity="0.246"/><rect x="459.48" y="292" width="52.65" height="1.04" fill="url(#gx)" opacity="0.253"/><rect x="459.71" y="293" width="52.18" height="1.04" fill="url(#gx)" opacity="0.260"/><rect x="459.94" y="294" width="51.71" height="1.04" fill="url(#gx)" opacity="0.267"/><rect x="460.17" y="295" width="51.27" height="1.04" fill="url(#gx)" opacity="0.275"/><rect x="460.38" y="296" width="50.84" height="1.04" fill="url(#gx)" opacity="0.285"/><rect x="460.59" y="297" width="50.42" height="1.04" fill="url(#gx)" opacity="0.295"/><rect x="460.8" y="298" width="49.99" height="1.04" fill="url(#gx)" opacity="0.305"/><rect x="461.02" y="299" width="49.57" height="1.04" fill="url(#gx)" opacity="0.315"/><rect x="461.23" y="300" width="49.14" height="1.04" fill="url(#gx)" opacity="0.325"/><rect x="461.44" y="301" width="48.71" height="1.04" fill="url(#gx)" opacity="0.335"/><rect x="461.66" y="302" width="48.29" height="1.04" fill="url(#gx)" opacity="0.345"/><rect x="461.87" y="303" width="47.86" height="1.04" fill="url(#gx)" opacity="0.355"/><rect x="462.08" y="304" width="47.44" height="1.04" fill="url(#gx)" opacity="0.365"/><rect x="462.29" y="305" width="47.01" height="1.04" fill="url(#gx)" opacity="0.375"/><rect x="462.53" y="306" width="46.54" height="1.04" fill="url(#gx)" opacity="0.390"/><rect x="462.79" y="307" width="46.02" height="1.04" fill="url(#gx)" opacity="0.410"/><rect x="463.05" y="308" width="45.5" height="1.04" fill="url(#gx)" opacity="0.430"/><rect x="463.31" y="309" width="44.98" height="1.04" fill="url(#gx)" opacity="0.450"/><rect x="463.57" y="310" width="44.46" height="1.04" fill="url(#gx)" opacity="0.470"/><rect x="463.83" y="311" width="43.94" height="1.04" fill="url(#gx)" opacity="0.490"/><rect x="464.16" y="312" width="43.29" height="1.04" fill="url(#gx)" opacity="0.515"/><rect x="464.55" y="313" width="42.51" height="1.04" fill="url(#gx)" opacity="0.545"/><rect x="464.94" y="314" width="41.73" height="1.04" fill="url(#gx)" opacity="0.575"/><rect x="465.32" y="315" width="40.95" height="1.04" fill="url(#gx)" opacity="0.605"/><rect x="465.65" y="316" width="40.3" height="1.04" fill="url(#gx)" opacity="0.642"/><rect x="465.91" y="317" width="39.78" height="1.04" fill="url(#gx)" opacity="0.685"/><rect x="466.17" y="318" width="39.26" height="1.04" fill="url(#gx)" opacity="0.728"/><rect x="466.37" y="319" width="38.87" height="1.04" fill="url(#gx)" opacity="0.770"/><rect x="466.5" y="320" width="38.61" height="1.04" fill="url(#gx)" opacity="0.810"/><rect x="466.62" y="321" width="38.35" height="1.04" fill="url(#gx)" opacity="0.850"/><rect x="466.71" y="322" width="38.17" height="1.04" fill="url(#gx)" opacity="0.876"/><rect x="466.76" y="323" width="38.07" height="1.04" fill="url(#gx)" opacity="0.889"/><rect x="466.81" y="324" width="37.98" height="1.04" fill="url(#gx)" opacity="0.901"/><rect x="466.86" y="325" width="37.88" height="1.04" fill="url(#gx)" opacity="0.914"/><rect x="466.91" y="326" width="37.78" height="1.04" fill="url(#gx)" opacity="0.926"/><rect x="466.96" y="327" width="37.68" height="1.04" fill="url(#gx)" opacity="0.939"/><rect x="467.01" y="328" width="37.59" height="1.04" fill="url(#gx)" opacity="0.951"/><rect x="467.06" y="329" width="37.49" height="1.04" fill="url(#gx)" opacity="0.964"/><rect x="467.08" y="330" width="37.44" height="1.04" fill="url(#gx)" opacity="0.970"/><rect x="467.08" y="331" width="37.44" height="1.04" fill="url(#gx)" opacity="0.970"/><rect x="467.08" y="332" width="37.44" height="1.04" fill="url(#gx)" opacity="0.970"/><rect x="467.08" y="333" width="37.44" height="1.04" fill="url(#gx)" opacity="0.970"/><rect x="467.08" y="334" width="37.44" height="1.04" fill="url(#gx)" opacity="0.970"/><rect x="467.08" y="335" width="37.44" height="1.04" fill="url(#gx)" opacity="0.970"/><rect x="467.08" y="336" width="37.44" height="1.04" fill="url(#gx)" opacity="0.970"/><rect x="467.08" y="337" width="37.44" height="1.04" fill="url(#gx)" opacity="0.970"/><rect x="467.08" y="338" width="37.44" height="1.04" fill="url(#gx)" opacity="0.970"/><rect x="467.08" y="339" width="37.44" height="1.04" fill="url(#gx)" opacity="0.970"/><rect x="467.08" y="340" width="37.44" height="1.04" fill="url(#gx)" opacity="0.970"/><rect x="467.08" y="341" width="37.44" height="1.04" fill="url(#gx)" opacity="0.970"/><rect x="467.08" y="342" width="37.44" height="1.04" fill="url(#gx)" opacity="0.970"/><rect x="467.08" y="343" width="37.44" height="1.04" fill="url(#gx)" opacity="0.970"/><rect x="467.08" y="344" width="37.44" height="1.04" fill="url(#gx)" opacity="0.962"/><rect x="467.08" y="345" width="37.44" height="1.04" fill="url(#gx)" opacity="0.947"/><rect x="467.08" y="346" width="37.44" height="1.04" fill="url(#gx)" opacity="0.932"/><rect x="467.08" y="347" width="37.44" height="1.04" fill="url(#gx)" opacity="0.916"/><rect x="467.08" y="348" width="37.44" height="1.04" fill="url(#gx)" opacity="0.901"/><rect x="467.08" y="349" width="37.44" height="1.04" fill="url(#gx)" opacity="0.885"/><rect x="467.08" y="350" width="37.44" height="1.04" fill="url(#gx)" opacity="0.870"/><rect x="466.77" y="351" width="38.06" height="1.04" fill="url(#gx)" opacity="0.770"/><rect x="466.46" y="352" width="38.69" height="1.04" fill="url(#gx)" opacity="0.670"/><rect x="466.04" y="353" width="39.52" height="1.04" fill="url(#gx)" opacity="0.580"/><rect x="465.52" y="354" width="40.56" height="1.04" fill="url(#gx)" opacity="0.500"/><rect x="465" y="355" width="41.6" height="1.04" fill="url(#gx)" opacity="0.420"/><rect x="464.35" y="356" width="42.9" height="1.04" fill="url(#gx)" opacity="0.348"/><rect x="463.57" y="357" width="44.46" height="1.04" fill="url(#gx)" opacity="0.282"/><rect x="462.79" y="358" width="46.02" height="1.04" fill="url(#gx)" opacity="0.228"/><rect x="462.01" y="359" width="47.58" height="1.04" fill="url(#gx)" opacity="0.185"/><rect x="461.23" y="360" width="49.14" height="1.04" fill="url(#gx)" opacity="0.142"/><rect x="461.01" y="361" width="49.59" height="1.04" fill="url(#gx)" opacity="0.119"/><rect x="461.34" y="362" width="48.92" height="1.04" fill="url(#gx)" opacity="0.116"/><rect x="461.68" y="363" width="48.25" height="1.04" fill="url(#gx)" opacity="0.114"/><rect x="462.01" y="364" width="47.58" height="1.04" fill="url(#gx)" opacity="0.111"/><rect x="462.34" y="365" width="46.91" height="1.04" fill="url(#gx)" opacity="0.109"/><rect x="462.68" y="366" width="46.24" height="1.04" fill="url(#gx)" opacity="0.106"/><rect x="463.01" y="367" width="45.57" height="1.04" fill="url(#gx)" opacity="0.104"/><rect x="463.35" y="368" width="44.91" height="1.04" fill="url(#gx)" opacity="0.101"/><rect x="463.68" y="369" width="44.24" height="1.04" fill="url(#gx)" opacity="0.099"/><rect x="464.02" y="370" width="43.57" height="1.04" fill="url(#gx)" opacity="0.096"/><rect x="464.35" y="371" width="42.9" height="1.04" fill="url(#gx)" opacity="0.094"/><rect x="464.68" y="372" width="42.23" height="1.04" fill="url(#gx)" opacity="0.091"/><rect x="465.02" y="373" width="41.56" height="1.04" fill="url(#gx)" opacity="0.089"/><rect x="465.35" y="374" width="40.89" height="1.04" fill="url(#gx)" opacity="0.086"/><rect x="465.69" y="375" width="40.23" height="1.04" fill="url(#gx)" opacity="0.084"/><rect x="466.02" y="376" width="39.56" height="1.04" fill="url(#gx)" opacity="0.081"/><rect x="466.36" y="377" width="38.89" height="1.04" fill="url(#gx)" opacity="0.079"/><rect x="466.69" y="378" width="38.22" height="1.04" fill="url(#gx)" opacity="0.076"/><rect x="467.02" y="379" width="37.55" height="1.04" fill="url(#gx)" opacity="0.074"/><rect x="467.36" y="380" width="36.88" height="1.04" fill="url(#gx)" opacity="0.071"/><rect x="467.69" y="381" width="36.21" height="1.04" fill="url(#gx)" opacity="0.069"/><rect x="468.03" y="382" width="35.55" height="1.04" fill="url(#gx)" opacity="0.066"/><rect x="468.36" y="383" width="34.88" height="1.04" fill="url(#gx)" opacity="0.064"/><rect x="468.7" y="384" width="34.21" height="1.04" fill="url(#gx)" opacity="0.061"/><rect x="469.03" y="385" width="33.54" height="1.04" fill="url(#gx)" opacity="0.059"/><rect x="469.36" y="386" width="32.87" height="1.04" fill="url(#gx)" opacity="0.056"/><rect x="469.7" y="387" width="32.2" height="1.04" fill="url(#gx)" opacity="0.054"/><rect x="470.03" y="388" width="31.53" height="1.04" fill="url(#gx)" opacity="0.051"/><ellipse cx="480.8" cy="362" rx="3.9" ry="9" fill="url(#gr)" opacity="0.140"/><ellipse cx="490.8" cy="362" rx="3.9" ry="9" fill="url(#gr)" opacity="0.140"/><ellipse cx="485.8" cy="368.6" rx="3.6" ry="5.4" fill="url(#gr)" opacity="0.420"/></g></g>
<g clip-path="url(#c15)"><g filter="url(#jet)"><rect x="58.3" y="167.5" width="68.7" height="68" fill="#fff" opacity="0.018"/><rect x="120.72" y="170.5" width="1.34" height="62" fill="#fff" opacity="0.009"/><rect x="88.15" y="170.5" width="2.15" height="62" fill="#fff" opacity="0.004"/><rect x="83.71" y="170.5" width="2.36" height="62" fill="#fff" opacity="0.007"/><rect x="122.86" y="170.5" width="2.3" height="62" fill="#fff" opacity="0.012"/><rect x="119.19" y="170.5" width="1.46" height="62" fill="#fff" opacity="0.011"/><rect x="68.9" y="170.5" width="2.18" height="62" fill="#fff" opacity="0.006"/><ellipse cx="92.3" cy="201.9" rx="6.6" ry="6" fill="url(#gr)" opacity="0.580"/><ellipse cx="92.3" cy="201.9" rx="15" ry="15" fill="url(#gr)" opacity="0.080"/></g></g>
<g clip-path="url(#c16)"><g filter="url(#jet)"><rect x="127" y="167.5" width="67.6" height="68" fill="#fff" opacity="0.018"/><rect x="143.46" y="170.5" width="2.38" height="62" fill="#fff" opacity="0.012"/><rect x="167.02" y="170.5" width="2.14" height="62" fill="#fff" opacity="0.010"/><rect x="152.87" y="170.5" width="1.21" height="62" fill="#fff" opacity="0.006"/><rect x="130.7" y="170.5" width="1.48" height="62" fill="#fff" opacity="0.004"/><rect x="143.41" y="170.5" width="2.38" height="62" fill="#fff" opacity="0.011"/><rect x="151.41" y="170.5" width="1.11" height="62" fill="#fff" opacity="0.007"/><ellipse cx="161" cy="201.3" rx="5.7" ry="5.7" fill="url(#gr)" opacity="0.750"/><ellipse cx="161" cy="201.3" rx="12" ry="12" fill="url(#gr)" opacity="0.060"/></g></g>
<g clip-path="url(#c17)"><g filter="url(#jet)"><rect x="193" y="167.5" width="67" height="68" fill="#fff" opacity="0.018"/><rect x="250.59" y="170.5" width="1.52" height="62" fill="#fff" opacity="0.009"/><rect x="239.53" y="170.5" width="1.48" height="62" fill="#fff" opacity="0.011"/><rect x="224.89" y="170.5" width="1.59" height="62" fill="#fff" opacity="0.006"/><rect x="206.74" y="170.5" width="1.85" height="62" fill="#fff" opacity="0.010"/><rect x="227.79" y="170.5" width="1.09" height="62" fill="#fff" opacity="0.011"/><rect x="233.33" y="170.5" width="1.17" height="62" fill="#fff" opacity="0.009"/><ellipse cx="226.5" cy="201.6" rx="4.8" ry="4.8" fill="url(#gr)" opacity="0.450"/><ellipse cx="226.5" cy="201.6" rx="12" ry="12" fill="url(#gr)" opacity="0.050"/></g></g>
<g clip-path="url(#c18)"><g filter="url(#jet)"><rect x="258" y="167.5" width="66.8" height="68" fill="#fff" opacity="0.018"/><rect x="279.84" y="170.5" width="1.19" height="62" fill="#fff" opacity="0.007"/><rect x="307.84" y="170.5" width="1.88" height="62" fill="#fff" opacity="0.008"/><rect x="293.39" y="170.5" width="1.74" height="62" fill="#fff" opacity="0.005"/><rect x="296.38" y="170.5" width="2.42" height="62" fill="#fff" opacity="0.007"/><rect x="291.32" y="170.5" width="2.2" height="62" fill="#fff" opacity="0.004"/><rect x="278.41" y="170.5" width="1.71" height="62" fill="#fff" opacity="0.012"/><ellipse cx="291.6" cy="201.5" rx="6.9" ry="6.9" fill="url(#gr)" opacity="0.920"/><ellipse cx="291.6" cy="201.5" rx="15" ry="15" fill="url(#gr)" opacity="0.070"/></g></g>
<g clip-path="url(#c19)"><g filter="url(#jet)"><rect x="323.3" y="167.5" width="67.3" height="68" fill="#fff" opacity="0.018"/><rect x="326.63" y="170.5" width="1.65" height="62" fill="#fff" opacity="0.006"/><rect x="357.66" y="170.5" width="2.13" height="62" fill="#fff" opacity="0.007"/><rect x="343.58" y="170.5" width="2.35" height="62" fill="#fff" opacity="0.010"/><rect x="381.67" y="170.5" width="1.68" height="62" fill="#fff" opacity="0.005"/><rect x="326.83" y="170.5" width="2.35" height="62" fill="#fff" opacity="0.011"/><rect x="328.09" y="170.5" width="1.56" height="62" fill="#fff" opacity="0.007"/><circle cx="356.7" cy="202" r="12" fill="none" stroke="#fff" stroke-width="3.25" opacity="0.045"/><ellipse cx="356.7" cy="202" rx="13.5" ry="13.5" fill="url(#gr)" opacity="0.170"/><ellipse cx="356.7" cy="202" rx="7.2" ry="6.9" fill="url(#gr)" opacity="0.470"/></g></g>
<g clip-path="url(#c20)"><g filter="url(#jet)"><rect x="390" y="167.5" width="66.8" height="68" fill="#fff" opacity="0.018"/><rect x="424.73" y="170.5" width="2.04" height="62" fill="#fff" opacity="0.005"/><rect x="394.22" y="170.5" width="2.17" height="62" fill="#fff" opacity="0.008"/><rect x="401.64" y="170.5" width="1.99" height="62" fill="#fff" opacity="0.004"/><rect x="441.33" y="170.5" width="2.35" height="62" fill="#fff" opacity="0.004"/><rect x="421.72" y="170.5" width="1.1" height="62" fill="#fff" opacity="0.008"/><rect x="447.76" y="170.5" width="1.14" height="62" fill="#fff" opacity="0.009"/><circle cx="423.3" cy="201" r="11.5" fill="none" stroke="#fff" stroke-width="3.25" opacity="0.042"/><ellipse cx="423.3" cy="201" rx="16.5" ry="16.5" fill="url(#gr)" opacity="0.100"/><ellipse cx="423.3" cy="201" rx="6.6" ry="6.6" fill="url(#gr)" opacity="0.220"/></g></g>
<g clip-path="url(#c21)"><g filter="url(#jet)"><rect x="455" y="167.5" width="66.5" height="68" fill="#fff" opacity="0.018"/><rect x="469.85" y="170.5" width="2.36" height="62" fill="#fff" opacity="0.008"/><rect x="502.66" y="170.5" width="1.91" height="62" fill="#fff" opacity="0.006"/><rect x="507.75" y="170.5" width="1.83" height="62" fill="#fff" opacity="0.006"/><rect x="478.38" y="170.5" width="1.2" height="62" fill="#fff" opacity="0.011"/><rect x="516.63" y="170.5" width="2.09" height="62" fill="#fff" opacity="0.009"/><rect x="471.62" y="170.5" width="2.19" height="62" fill="#fff" opacity="0.007"/><circle cx="487.9" cy="202" r="13" fill="none" stroke="#fff" stroke-width="3.25" opacity="0.042"/><ellipse cx="487.9" cy="202" rx="18" ry="18" fill="url(#gr)" opacity="0.100"/><ellipse cx="487.9" cy="202" rx="9.6" ry="9.3" fill="url(#gr)" opacity="0.200"/></g></g>
<g clip-path="url(#c22)"><g filter="url(#jet)"><rect x="58" y="403.5" width="67.8" height="67.8" fill="#fff" opacity="0.009"/><rect x="88.88" y="406.5" width="1.33" height="61.8" fill="#fff" opacity="0.007"/><rect x="78.97" y="406.5" width="1.36" height="61.8" fill="#fff" opacity="0.010"/><rect x="111.13" y="406.5" width="1.6" height="61.8" fill="#fff" opacity="0.004"/><rect x="98.66" y="406.5" width="1.94" height="61.8" fill="#fff" opacity="0.009"/><rect x="114.06" y="406.5" width="1.88" height="61.8" fill="#fff" opacity="0.010"/><rect x="91.03" y="406.5" width="2.03" height="61.8" fill="#fff" opacity="0.005"/><circle cx="92" cy="437.6" r="5.5" fill="none" stroke="#fff" stroke-width="2.08" opacity="0.042"/><circle cx="92" cy="437.6" r="9.5" fill="none" stroke="#fff" stroke-width="2.08" opacity="0.030"/><ellipse cx="92" cy="437.6" rx="5.1" ry="5.1" fill="url(#gr)" opacity="0.280"/><ellipse cx="92" cy="437.6" rx="12" ry="12" fill="url(#gr)" opacity="0.040"/></g></g>
<g clip-path="url(#c23)"><g filter="url(#jet)"><rect x="125.3" y="403.5" width="67.7" height="67.8" fill="#fff" opacity="0.009"/><rect x="138.51" y="406.5" width="1.83" height="61.8" fill="#fff" opacity="0.011"/><rect x="166.43" y="406.5" width="2.42" height="61.8" fill="#fff" opacity="0.008"/><rect x="181.95" y="406.5" width="1.26" height="61.8" fill="#fff" opacity="0.007"/><rect x="160.76" y="406.5" width="1.65" height="61.8" fill="#fff" opacity="0.010"/><rect x="164.83" y="406.5" width="1.45" height="61.8" fill="#fff" opacity="0.011"/><rect x="132.34" y="406.5" width="1.79" height="61.8" fill="#fff" opacity="0.004"/><circle cx="159.6" cy="436.8" r="5.5" fill="none" stroke="#fff" stroke-width="2.08" opacity="0.042"/><circle cx="159.6" cy="436.8" r="9.5" fill="none" stroke="#fff" stroke-width="2.08" opacity="0.030"/><ellipse cx="159.6" cy="436.8" rx="5.1" ry="5.1" fill="url(#gr)" opacity="0.320"/><ellipse cx="159.6" cy="436.8" rx="12" ry="12" fill="url(#gr)" opacity="0.040"/></g></g>
<g clip-path="url(#c24)"><g filter="url(#jet)"><rect x="192" y="403.5" width="66.3" height="67.8" fill="#fff" opacity="0.009"/><rect x="226.33" y="406.5" width="2.28" height="61.8" fill="#fff" opacity="0.008"/><rect x="197.17" y="406.5" width="2.38" height="61.8" fill="#fff" opacity="0.009"/><rect x="209.6" y="406.5" width="1.65" height="61.8" fill="#fff" opacity="0.006"/><rect x="223.4" y="406.5" width="1.36" height="61.8" fill="#fff" opacity="0.005"/><rect x="228.22" y="406.5" width="1.01" height="61.8" fill="#fff" opacity="0.012"/><rect x="229.69" y="406.5" width="1.07" height="61.8" fill="#fff" opacity="0.011"/><ellipse cx="224.7" cy="436.8" rx="5.1" ry="5.1" fill="url(#gr)" opacity="0.360"/><ellipse cx="224.7" cy="436.8" rx="12" ry="12" fill="url(#gr)" opacity="0.040"/></g></g>
<g clip-path="url(#c25)"><g filter="url(#jet)"><rect x="257.5" y="403.5" width="65.8" height="67.8" fill="#fff" opacity="0.009"/><rect x="298.64" y="406.5" width="1.26" height="61.8" fill="#fff" opacity="0.006"/><rect x="291.76" y="406.5" width="2.47" height="61.8" fill="#fff" opacity="0.004"/><rect x="267.59" y="406.5" width="2.14" height="61.8" fill="#fff" opacity="0.010"/><rect x="268.54" y="406.5" width="1.24" height="61.8" fill="#fff" opacity="0.008"/><rect x="264.26" y="406.5" width="2.34" height="61.8" fill="#fff" opacity="0.011"/><rect x="292.86" y="406.5" width="1.12" height="61.8" fill="#fff" opacity="0.010"/><ellipse cx="289.7" cy="437.6" rx="6" ry="6" fill="url(#gr)" opacity="0.820"/><ellipse cx="289.7" cy="437.6" rx="12" ry="12" fill="url(#gr)" opacity="0.060"/></g></g>
<g clip-path="url(#c26)"><g filter="url(#jet)"><rect x="323" y="403.5" width="66" height="67.8" fill="#fff" opacity="0.009"/><rect x="378.38" y="406.5" width="1.84" height="61.8" fill="#fff" opacity="0.006"/><rect x="332.05" y="406.5" width="2.33" height="61.8" fill="#fff" opacity="0.005"/><rect x="333.17" y="406.5" width="1.96" height="61.8" fill="#fff" opacity="0.004"/><rect x="350.33" y="406.5" width="2.12" height="61.8" fill="#fff" opacity="0.008"/><rect x="327.16" y="406.5" width="1.53" height="61.8" fill="#fff" opacity="0.007"/><rect x="355.11" y="406.5" width="1.48" height="61.8" fill="#fff" opacity="0.010"/><ellipse cx="356" cy="437.6" rx="6" ry="6" fill="url(#gr)" opacity="0.900"/><ellipse cx="356" cy="437.6" rx="12" ry="12" fill="url(#gr)" opacity="0.060"/></g></g>
<g clip-path="url(#c27)"><g filter="url(#jet)"><rect x="388" y="403.5" width="66" height="67.8" fill="#fff" opacity="0.009"/><rect x="447.49" y="406.5" width="1.96" height="61.8" fill="#fff" opacity="0.009"/><rect x="426.31" y="406.5" width="1.82" height="61.8" fill="#fff" opacity="0.007"/><rect x="437" y="406.5" width="1.46" height="61.8" fill="#fff" opacity="0.007"/><rect x="397.63" y="406.5" width="1.66" height="61.8" fill="#fff" opacity="0.010"/><rect x="408.5" y="406.5" width="2.33" height="61.8" fill="#fff" opacity="0.012"/><rect x="420.19" y="406.5" width="1.52" height="61.8" fill="#fff" opacity="0.005"/><ellipse cx="420.9" cy="437.1" rx="6.6" ry="6.6" fill="url(#gr)" opacity="0.700"/><ellipse cx="420.9" cy="437.1" rx="13.5" ry="13.5" fill="url(#gr)" opacity="0.060"/></g></g>
<g clip-path="url(#c28)"><g filter="url(#jet)"><rect x="453" y="403.5" width="66" height="67.8" fill="#fff" opacity="0.009"/><rect x="491.66" y="406.5" width="1.08" height="61.8" fill="#fff" opacity="0.004"/><rect x="504.99" y="406.5" width="1.6" height="61.8" fill="#fff" opacity="0.004"/><rect x="457.18" y="406.5" width="1.14" height="61.8" fill="#fff" opacity="0.010"/><rect x="501.62" y="406.5" width="1.48" height="61.8" fill="#fff" opacity="0.011"/><rect x="503.13" y="406.5" width="1.98" height="61.8" fill="#fff" opacity="0.010"/><rect x="474.61" y="406.5" width="1.92" height="61.8" fill="#fff" opacity="0.008"/><ellipse cx="485.5" cy="437" rx="7.8" ry="7.8" fill="url(#gr)" opacity="0.460"/><ellipse cx="485.5" cy="437" rx="15" ry="15" fill="url(#gr)" opacity="0.060"/></g></g>
<rect x="526" y="38" width="5.5" height="115" fill="url(#cb)"/>
<rect x="526.3" y="170.3" width="4.7" height="61.7" fill="url(#cb)"/>
<rect x="523" y="273" width="5.6" height="115.5" fill="url(#cb)"/>
<rect x="522.2" y="404.2" width="4.8" height="62.8" fill="url(#cb)"/>
<line x1="60.8" y1="106.7" x2="519" y2="106.7" stroke="#fff" stroke-width="1.7" stroke-dasharray="5.2 5.08" opacity="0.92"/>
<line x1="59.4" y1="343.1" x2="516.3" y2="343.1" stroke="#fff" stroke-width="1.7" stroke-dasharray="5.15 5.105" opacity="0.92"/>
<text x="5.6" y="17.8" font-size="16" textLength="20.4" lengthAdjust="spacingAndGlyphs">(a)</text>
<text x="6" y="173.3" font-size="16" textLength="20.3" lengthAdjust="spacingAndGlyphs">(b)</text>
<text x="5.8" y="269.6" font-size="16" textLength="22" lengthAdjust="spacingAndGlyphs">(c)</text>
<text x="5.7" y="407.8" font-size="16" textLength="22.2" lengthAdjust="spacingAndGlyphs">(d)</text>
<text x="72" y="25.5" font-size="15.5" textLength="44.9" lengthAdjust="spacing">3.7µm</text>
<text x="133.4" y="25.5" font-size="15.5" textLength="53.4" lengthAdjust="spacing">3.75µm</text>
<text x="210" y="25.5" font-size="15.5" textLength="32.2" lengthAdjust="spacing">4µm</text>
<text x="263" y="25.5" font-size="15.5" textLength="53.3" lengthAdjust="spacing">4.25µm</text>
<text x="335" y="25.5" font-size="15.5" textLength="44.2" lengthAdjust="spacing">4.5µm</text>
<text x="395" y="25.5" font-size="15.5" textLength="54.2" lengthAdjust="spacing">4.75µm</text>
<text x="472" y="25.5" font-size="15.5" textLength="31.8" lengthAdjust="spacing">5µm</text>
<text x="57.2" y="42.8" font-size="16" text-anchor="end">500</text>
<text x="57.2" y="66" font-size="16" text-anchor="end">400</text>
<text x="57.2" y="89.2" font-size="16" text-anchor="end">300</text>
<text x="57.2" y="112.4" font-size="16" text-anchor="end" style="fill:#e3151b;stroke:#e3151b">200</text>
<text x="57.2" y="135.6" font-size="16" text-anchor="end">100</text>
<text x="57.2" y="158.8" font-size="16" text-anchor="end">0</text>
<text x="29.5" y="95" font-size="14" text-anchor="middle" textLength="39" lengthAdjust="spacingAndGlyphs" transform="rotate(-90 29.5 95)">z(µm)</text>
<text x="55.5" y="279.8" font-size="16" text-anchor="end">500</text>
<text x="55.5" y="302.74" font-size="16" text-anchor="end">400</text>
<text x="55.5" y="325.68" font-size="16" text-anchor="end">300</text>
<text x="55.5" y="348.62" font-size="16" text-anchor="end" style="fill:#e3151b;stroke:#e3151b">200</text>
<text x="55.5" y="371.56" font-size="16" text-anchor="end">100</text>
<text x="55.5" y="394.5" font-size="16" text-anchor="end">0</text>
<text x="27.6" y="329.7" font-size="14" text-anchor="middle" textLength="37.6" lengthAdjust="spacingAndGlyphs" transform="rotate(-90 27.6 329.7)">z(µm)</text>
<text x="58" y="175.8" font-size="12.5" text-anchor="end">50</text>
<text x="58" y="205.5" font-size="12.5" text-anchor="end">0</text>
<text x="58" y="235" font-size="12.5" text-anchor="end">-50</text>
<text x="37.9" y="200.9" font-size="12.4" text-anchor="middle" textLength="31.5" lengthAdjust="spacingAndGlyphs" transform="rotate(-90 37.9 200.9)">y(µm)</text>
<text x="61.3" y="245.8" font-size="12.5" text-anchor="middle">-50</text>
<text x="92.2" y="245.8" font-size="12.5" text-anchor="middle">0</text>
<text x="123.4" y="245.8" font-size="12.5" text-anchor="middle">50</text>
<text x="92.6" y="260.8" font-size="11.5" text-anchor="middle" textLength="33" lengthAdjust="spacing">x(µm)</text>
<text x="228" y="262.4" font-size="17.5" textLength="127.5" lengthAdjust="spacing">Achromatic Lens</text>
<text x="57.6" y="413" font-size="12.5" text-anchor="end">50</text>
<text x="57.6" y="443" font-size="12.5" text-anchor="end">0</text>
<text x="57.6" y="473" font-size="12.5" text-anchor="end">-50</text>
<text x="37.5" y="437.9" font-size="12.6" text-anchor="middle" textLength="33.5" lengthAdjust="spacingAndGlyphs" transform="rotate(-90 37.5 437.9)">y(µm)</text>
<text x="61.4" y="483.8" font-size="12.5" text-anchor="middle">-50</text>
<text x="92" y="483.8" font-size="12.5" text-anchor="middle">0</text>
<text x="122.7" y="483.8" font-size="12.5" text-anchor="middle">50</text>
<text x="92.1" y="498.3" font-size="12" text-anchor="middle" textLength="33.6" lengthAdjust="spacing">x(µm)</text>
<text x="231" y="497.1" font-size="17.5" textLength="120" lengthAdjust="spacing">Chromatic Lens</text>
<text x="536.2" y="43.5" font-size="15">1</text>
<text x="536.3" y="159" font-size="15">0</text>
<text x="534.6" y="175" font-size="12.5">1</text>
<text x="534.5" y="237.4" font-size="12.5">0</text>
<text x="532.3" y="279" font-size="15">1</text>
<text x="533" y="394.3" font-size="15">0</text>
<text x="530.6" y="408.4" font-size="12.5">1</text>
<text x="530" y="471.7" font-size="12.5">0</text>
</svg>
</body></html>
